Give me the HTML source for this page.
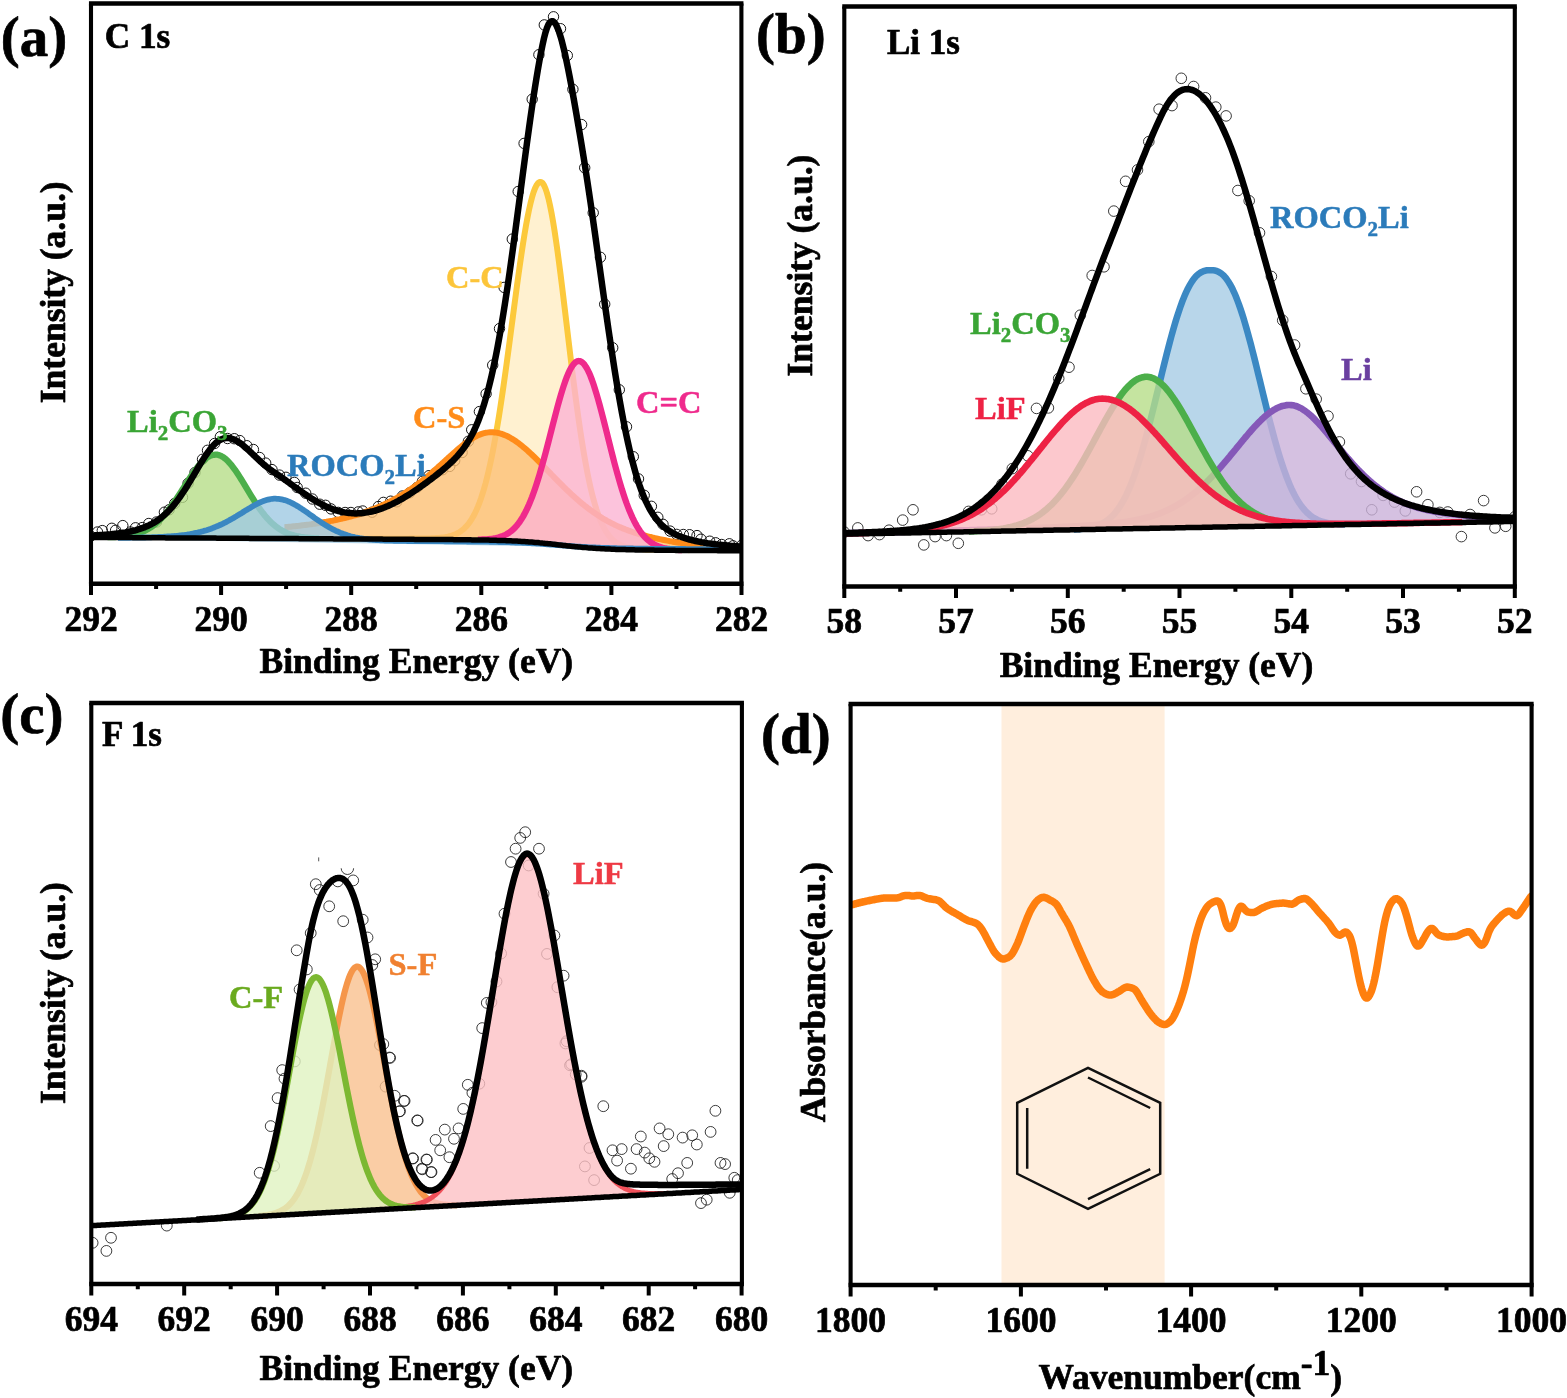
<!DOCTYPE html>
<html lang="en"><head><meta charset="utf-8"><title>XPS and FTIR spectra</title>
<style>
html,body{margin:0;padding:0;background:#fff;}
svg{display:block;}
text{font-family:'Liberation Serif', 'Times New Roman', serif;font-weight:bold;stroke-linejoin:round;}
</style></head><body>
<svg width="1567" height="1398" viewBox="0 0 1567 1398">
<rect width="1567" height="1398" fill="#fff"/>
<clipPath id="ca"><rect x="91.0" y="3.5" width="650.4" height="580.2"/></clipPath>
<g clip-path="url(#ca)">
<g fill="none" stroke="#151515" stroke-width="1.00">
<circle cx="90.7" cy="536.1" r="5.2"/>
<circle cx="97.5" cy="532.0" r="5.2"/>
<circle cx="102.3" cy="530.6" r="5.2"/>
<circle cx="111.8" cy="528.3" r="5.2"/>
<circle cx="115.6" cy="530.3" r="5.2"/>
<circle cx="122.8" cy="525.6" r="5.2"/>
<circle cx="130.4" cy="532.0" r="5.2"/>
<circle cx="135.5" cy="527.8" r="5.2"/>
<circle cx="142.2" cy="527.6" r="5.2"/>
<circle cx="148.8" cy="523.5" r="5.2"/>
<circle cx="156.5" cy="522.0" r="5.2"/>
<circle cx="164.4" cy="512.2" r="5.2"/>
<circle cx="169.1" cy="509.8" r="5.2"/>
<circle cx="174.7" cy="503.4" r="5.2"/>
<circle cx="182.5" cy="497.3" r="5.2"/>
<circle cx="188.1" cy="483.3" r="5.2"/>
<circle cx="195.0" cy="472.5" r="5.2"/>
<circle cx="202.5" cy="459.3" r="5.2"/>
<circle cx="207.5" cy="450.3" r="5.2"/>
<circle cx="214.6" cy="443.5" r="5.2"/>
<circle cx="220.4" cy="436.7" r="5.2"/>
<circle cx="227.5" cy="438.5" r="5.2"/>
<circle cx="234.3" cy="438.7" r="5.2"/>
<circle cx="239.8" cy="440.6" r="5.2"/>
<circle cx="246.8" cy="445.7" r="5.2"/>
<circle cx="253.4" cy="449.5" r="5.2"/>
<circle cx="259.6" cy="457.5" r="5.2"/>
<circle cx="265.7" cy="463.1" r="5.2"/>
<circle cx="272.0" cy="469.6" r="5.2"/>
<circle cx="279.5" cy="475.1" r="5.2"/>
<circle cx="285.9" cy="477.3" r="5.2"/>
<circle cx="294.4" cy="482.4" r="5.2"/>
<circle cx="297.2" cy="487.5" r="5.2"/>
<circle cx="305.7" cy="493.2" r="5.2"/>
<circle cx="312.4" cy="499.0" r="5.2"/>
<circle cx="319.7" cy="504.2" r="5.2"/>
<circle cx="325.5" cy="505.3" r="5.2"/>
<circle cx="331.0" cy="508.9" r="5.2"/>
<circle cx="338.2" cy="512.4" r="5.2"/>
<circle cx="345.1" cy="512.5" r="5.2"/>
<circle cx="350.9" cy="512.5" r="5.2"/>
<circle cx="358.3" cy="511.9" r="5.2"/>
<circle cx="362.7" cy="511.0" r="5.2"/>
<circle cx="372.1" cy="512.2" r="5.2"/>
<circle cx="378.4" cy="506.5" r="5.2"/>
<circle cx="383.4" cy="502.4" r="5.2"/>
<circle cx="390.7" cy="501.2" r="5.2"/>
<circle cx="396.7" cy="501.8" r="5.2"/>
<circle cx="402.5" cy="496.0" r="5.2"/>
<circle cx="409.8" cy="492.8" r="5.2"/>
<circle cx="417.0" cy="487.5" r="5.2"/>
<circle cx="422.4" cy="481.4" r="5.2"/>
<circle cx="428.9" cy="475.7" r="5.2"/>
<circle cx="435.7" cy="473.2" r="5.2"/>
<circle cx="442.6" cy="469.7" r="5.2"/>
<circle cx="449.7" cy="466.4" r="5.2"/>
<circle cx="454.7" cy="460.6" r="5.2"/>
<circle cx="462.1" cy="452.5" r="5.2"/>
<circle cx="468.4" cy="441.3" r="5.2"/>
<circle cx="471.7" cy="429.8" r="5.2"/>
<circle cx="479.4" cy="411.6" r="5.2"/>
<circle cx="486.1" cy="393.8" r="5.2"/>
<circle cx="492.7" cy="365.1" r="5.2"/>
<circle cx="499.5" cy="328.6" r="5.2"/>
<circle cx="504.1" cy="287.4" r="5.2"/>
<circle cx="512.3" cy="239.1" r="5.2"/>
<circle cx="518.2" cy="191.5" r="5.2"/>
<circle cx="524.1" cy="143.4" r="5.2"/>
<circle cx="532.2" cy="99.2" r="5.2"/>
<circle cx="538.9" cy="54.7" r="5.2"/>
<circle cx="544.3" cy="24.9" r="5.2"/>
<circle cx="553.5" cy="16.8" r="5.2"/>
<circle cx="560.5" cy="28.7" r="5.2"/>
<circle cx="567.3" cy="55.5" r="5.2"/>
<circle cx="572.9" cy="89.3" r="5.2"/>
<circle cx="581.6" cy="124.6" r="5.2"/>
<circle cx="584.7" cy="167.8" r="5.2"/>
<circle cx="593.2" cy="212.8" r="5.2"/>
<circle cx="600.4" cy="257.3" r="5.2"/>
<circle cx="604.7" cy="304.2" r="5.2"/>
<circle cx="612.7" cy="347.8" r="5.2"/>
<circle cx="619.3" cy="389.8" r="5.2"/>
<circle cx="626.5" cy="426.8" r="5.2"/>
<circle cx="633.3" cy="456.7" r="5.2"/>
<circle cx="638.5" cy="478.9" r="5.2"/>
<circle cx="644.2" cy="495.3" r="5.2"/>
<circle cx="651.4" cy="506.3" r="5.2"/>
<circle cx="657.8" cy="517.3" r="5.2"/>
<circle cx="663.0" cy="524.3" r="5.2"/>
<circle cx="670.1" cy="531.1" r="5.2"/>
<circle cx="676.7" cy="534.4" r="5.2"/>
<circle cx="683.3" cy="534.5" r="5.2"/>
<circle cx="689.5" cy="534.7" r="5.2"/>
<circle cx="697.0" cy="535.6" r="5.2"/>
<circle cx="701.0" cy="539.2" r="5.2"/>
<circle cx="709.7" cy="541.2" r="5.2"/>
<circle cx="715.7" cy="542.8" r="5.2"/>
<circle cx="721.7" cy="544.5" r="5.2"/>
<circle cx="729.3" cy="543.8" r="5.2"/>
<circle cx="733.0" cy="545.8" r="5.2"/>
<circle cx="742.3" cy="544.7" r="5.2"/>
</g>
<path d="M341.5,538.6 L343.0,538.6 L344.5,538.6 L346.0,538.6 L347.5,538.6 L349.0,538.6 L350.5,538.6 L352.0,538.6 L353.5,538.6 L355.0,538.6 L356.5,538.6 L358.0,538.7 L359.5,538.7 L361.0,538.7 L362.5,538.7 L364.0,538.7 L365.5,538.7 L367.0,538.7 L368.5,538.7 L370.0,538.7 L371.5,538.7 L373.0,538.7 L374.5,538.7 L376.0,538.7 L377.5,538.7 L379.0,538.7 L380.5,538.7 L382.0,538.7 L383.5,538.7 L385.0,538.7 L386.5,538.7 L388.0,538.7 L389.5,538.7 L391.0,538.7 L392.5,538.7 L394.0,538.7 L395.5,538.7 L397.0,538.7 L398.5,538.7 L400.0,538.7 L401.5,538.7 L403.0,538.7 L404.5,538.7 L406.0,538.7 L407.5,538.7 L409.0,538.7 L410.5,538.6 L412.0,538.6 L413.5,538.6 L415.0,538.6 L416.5,538.6 L418.0,538.6 L419.5,538.6 L421.0,538.6 L422.5,538.5 L424.0,538.5 L425.5,538.5 L427.0,538.5 L428.5,538.4 L430.0,538.4 L431.5,538.3 L433.0,538.2 L434.5,538.2 L436.0,538.1 L437.5,538.0 L439.0,537.9 L440.5,537.7 L442.0,537.6 L443.5,537.4 L445.0,537.2 L446.5,536.9 L448.0,536.6 L449.5,536.2 L451.0,535.8 L452.5,535.4 L454.0,534.8 L455.5,534.2 L457.0,533.5 L458.5,532.7 L460.0,531.8 L461.5,530.7 L463.0,529.6 L464.5,528.2 L466.0,526.7 L467.5,525.0 L469.0,523.1 L470.5,521.0 L472.0,518.6 L473.5,516.0 L475.0,513.1 L476.5,509.9 L478.0,506.4 L479.5,502.6 L481.0,498.4 L482.5,493.8 L484.0,488.8 L485.5,483.5 L487.0,477.7 L488.5,471.5 L490.0,464.8 L491.5,457.8 L493.0,450.3 L494.5,442.3 L496.0,433.9 L497.5,425.1 L499.0,415.9 L500.5,406.3 L502.0,396.3 L503.5,386.0 L505.0,375.4 L506.5,364.6 L508.0,353.5 L509.5,342.3 L511.0,330.9 L512.5,319.5 L514.0,308.1 L515.5,296.8 L517.0,285.7 L518.5,274.7 L520.0,264.0 L521.5,253.7 L523.0,243.8 L524.5,234.4 L526.0,225.6 L527.5,217.4 L529.0,210.0 L530.5,203.3 L532.0,197.4 L533.5,192.4 L535.0,188.4 L536.5,185.3 L538.0,183.2 L539.5,182.0 L541.0,182.0 L542.5,183.0 L544.0,185.2 L545.5,188.6 L547.0,193.1 L548.5,198.7 L550.0,205.3 L551.5,212.9 L553.0,221.3 L554.5,230.6 L556.0,240.6 L557.5,251.2 L559.0,262.4 L560.5,274.0 L562.0,286.0 L563.5,298.3 L565.0,310.8 L566.5,323.4 L568.0,336.0 L569.5,348.5 L571.0,360.9 L572.5,373.0 L574.0,384.9 L575.5,396.5 L577.0,407.7 L578.5,418.5 L580.0,428.9 L581.5,438.8 L583.0,448.1 L584.5,457.0 L586.0,465.3 L587.5,473.2 L589.0,480.5 L590.5,487.3 L592.0,493.6 L593.5,499.4 L595.0,504.7 L596.5,509.6 L598.0,514.0 L599.5,518.1 L601.0,521.7 L602.5,525.0 L604.0,528.0 L605.5,530.6 L607.0,533.0 L608.5,535.1 L610.0,537.0 L611.5,538.6 L613.0,540.1 L614.5,541.3 L616.0,542.5 L617.5,543.4 L619.0,544.3 L620.5,545.0 L622.0,545.7 L623.5,546.2 L625.0,546.7 L626.5,547.1 L628.0,547.5 L629.5,547.8 L631.0,548.0 L632.5,548.3 L634.0,548.5 L635.5,548.6 L637.0,548.8 L638.5,548.9 L640.0,549.0 L641.5,549.1 L643.0,549.2 L644.5,549.3 L646.0,549.4 L647.5,549.4 L649.0,549.5 L650.5,549.5 L652.0,549.6 L653.5,549.6 L655.0,549.6 L656.5,549.7 L658.0,549.7 L659.5,549.7 L661.0,549.8 L662.5,549.8 L664.0,549.8 L665.5,549.8 L667.0,549.9 L668.5,549.9 L670.0,549.9 L671.5,549.9 L673.0,550.0 L674.5,550.0 L676.0,550.0 L677.5,550.0 L679.0,550.0 L680.5,550.1 L682.0,550.1 L683.5,550.1 L685.0,550.1 L686.5,550.1 L688.0,550.1 L689.5,550.2 L689.5,550.5 L341.5,538.9 Z" fill="#ffeec4" fill-opacity="0.80" stroke="none"/>
<path d="M341.5,538.6 L343.0,538.6 L344.5,538.6 L346.0,538.6 L347.5,538.6 L349.0,538.6 L350.5,538.6 L352.0,538.6 L353.5,538.6 L355.0,538.6 L356.5,538.6 L358.0,538.7 L359.5,538.7 L361.0,538.7 L362.5,538.7 L364.0,538.7 L365.5,538.7 L367.0,538.7 L368.5,538.7 L370.0,538.7 L371.5,538.7 L373.0,538.7 L374.5,538.7 L376.0,538.7 L377.5,538.7 L379.0,538.7 L380.5,538.7 L382.0,538.7 L383.5,538.7 L385.0,538.7 L386.5,538.7 L388.0,538.7 L389.5,538.7 L391.0,538.7 L392.5,538.7 L394.0,538.7 L395.5,538.7 L397.0,538.7 L398.5,538.7 L400.0,538.7 L401.5,538.7 L403.0,538.7 L404.5,538.7 L406.0,538.7 L407.5,538.7 L409.0,538.7 L410.5,538.6 L412.0,538.6 L413.5,538.6 L415.0,538.6 L416.5,538.6 L418.0,538.6 L419.5,538.6 L421.0,538.6 L422.5,538.5 L424.0,538.5 L425.5,538.5 L427.0,538.5 L428.5,538.4 L430.0,538.4 L431.5,538.3 L433.0,538.2 L434.5,538.2 L436.0,538.1 L437.5,538.0 L439.0,537.9 L440.5,537.7 L442.0,537.6 L443.5,537.4 L445.0,537.2 L446.5,536.9 L448.0,536.6 L449.5,536.2 L451.0,535.8 L452.5,535.4 L454.0,534.8 L455.5,534.2 L457.0,533.5 L458.5,532.7 L460.0,531.8 L461.5,530.7 L463.0,529.6 L464.5,528.2 L466.0,526.7 L467.5,525.0 L469.0,523.1 L470.5,521.0 L472.0,518.6 L473.5,516.0 L475.0,513.1 L476.5,509.9 L478.0,506.4 L479.5,502.6 L481.0,498.4 L482.5,493.8 L484.0,488.8 L485.5,483.5 L487.0,477.7 L488.5,471.5 L490.0,464.8 L491.5,457.8 L493.0,450.3 L494.5,442.3 L496.0,433.9 L497.5,425.1 L499.0,415.9 L500.5,406.3 L502.0,396.3 L503.5,386.0 L505.0,375.4 L506.5,364.6 L508.0,353.5 L509.5,342.3 L511.0,330.9 L512.5,319.5 L514.0,308.1 L515.5,296.8 L517.0,285.7 L518.5,274.7 L520.0,264.0 L521.5,253.7 L523.0,243.8 L524.5,234.4 L526.0,225.6 L527.5,217.4 L529.0,210.0 L530.5,203.3 L532.0,197.4 L533.5,192.4 L535.0,188.4 L536.5,185.3 L538.0,183.2 L539.5,182.0 L541.0,182.0 L542.5,183.0 L544.0,185.2 L545.5,188.6 L547.0,193.1 L548.5,198.7 L550.0,205.3 L551.5,212.9 L553.0,221.3 L554.5,230.6 L556.0,240.6 L557.5,251.2 L559.0,262.4 L560.5,274.0 L562.0,286.0 L563.5,298.3 L565.0,310.8 L566.5,323.4 L568.0,336.0 L569.5,348.5 L571.0,360.9 L572.5,373.0 L574.0,384.9 L575.5,396.5 L577.0,407.7 L578.5,418.5 L580.0,428.9 L581.5,438.8 L583.0,448.1 L584.5,457.0 L586.0,465.3 L587.5,473.2 L589.0,480.5 L590.5,487.3 L592.0,493.6 L593.5,499.4 L595.0,504.7 L596.5,509.6 L598.0,514.0 L599.5,518.1 L601.0,521.7 L602.5,525.0 L604.0,528.0 L605.5,530.6 L607.0,533.0 L608.5,535.1 L610.0,537.0 L611.5,538.6 L613.0,540.1 L614.5,541.3 L616.0,542.5 L617.5,543.4 L619.0,544.3 L620.5,545.0 L622.0,545.7 L623.5,546.2 L625.0,546.7 L626.5,547.1 L628.0,547.5 L629.5,547.8 L631.0,548.0 L632.5,548.3 L634.0,548.5 L635.5,548.6 L637.0,548.8 L638.5,548.9 L640.0,549.0 L641.5,549.1 L643.0,549.2 L644.5,549.3 L646.0,549.4 L647.5,549.4 L649.0,549.5 L650.5,549.5 L652.0,549.6 L653.5,549.6 L655.0,549.6 L656.5,549.7 L658.0,549.7 L659.5,549.7 L661.0,549.8 L662.5,549.8 L664.0,549.8 L665.5,549.8 L667.0,549.9 L668.5,549.9 L670.0,549.9 L671.5,549.9 L673.0,550.0 L674.5,550.0 L676.0,550.0 L677.5,550.0 L679.0,550.0 L680.5,550.1 L682.0,550.1 L683.5,550.1 L685.0,550.1 L686.5,550.1 L688.0,550.1 L689.5,550.2" fill="none" stroke="#fcc93c" stroke-width="6.0" stroke-linejoin="round" stroke-linecap="butt"/>
<path d="M284.5,527.2 L286.0,527.1 L287.5,527.0 L289.0,526.8 L290.5,526.7 L292.0,526.5 L293.5,526.3 L295.0,526.2 L296.5,526.0 L298.0,525.9 L299.5,525.7 L301.0,525.5 L302.5,525.3 L304.0,525.1 L305.5,525.0 L307.0,524.8 L308.5,524.6 L310.0,524.4 L311.5,524.2 L313.0,523.9 L314.5,523.7 L316.0,523.5 L317.5,523.3 L319.0,523.0 L320.5,522.8 L322.0,522.6 L323.5,522.3 L325.0,522.0 L326.5,521.8 L328.0,521.5 L329.5,521.2 L331.0,520.9 L332.5,520.7 L334.0,520.4 L335.5,520.0 L337.0,519.7 L338.5,519.4 L340.0,519.1 L341.5,518.7 L343.0,518.4 L344.5,518.0 L346.0,517.7 L347.5,517.3 L349.0,516.9 L350.5,516.5 L352.0,516.1 L353.5,515.7 L355.0,515.3 L356.5,514.8 L358.0,514.4 L359.5,513.9 L361.0,513.4 L362.5,513.0 L364.0,512.5 L365.5,511.9 L367.0,511.4 L368.5,510.9 L370.0,510.3 L371.5,509.8 L373.0,509.2 L374.5,508.6 L376.0,508.0 L377.5,507.4 L379.0,506.7 L380.5,506.1 L382.0,505.4 L383.5,504.7 L385.0,504.0 L386.5,503.3 L388.0,502.6 L389.5,501.8 L391.0,501.0 L392.5,500.2 L394.0,499.4 L395.5,498.6 L397.0,497.8 L398.5,496.9 L400.0,496.0 L401.5,495.1 L403.0,494.2 L404.5,493.2 L406.0,492.3 L407.5,491.3 L409.0,490.3 L410.5,489.3 L412.0,488.2 L413.5,487.2 L415.0,486.1 L416.5,485.0 L418.0,483.9 L419.5,482.7 L421.0,481.6 L422.5,480.4 L424.0,479.2 L425.5,478.0 L427.0,476.7 L428.5,475.5 L430.0,474.2 L431.5,472.9 L433.0,471.6 L434.5,470.3 L436.0,469.0 L437.5,467.7 L439.0,466.3 L440.5,465.0 L442.0,463.6 L443.5,462.3 L445.0,460.9 L446.5,459.5 L448.0,458.1 L449.5,456.8 L451.0,455.4 L452.5,454.1 L454.0,452.7 L455.5,451.4 L457.0,450.1 L458.5,448.8 L460.0,447.5 L461.5,446.3 L463.0,445.1 L464.5,443.9 L466.0,442.7 L467.5,441.6 L469.0,440.6 L470.5,439.6 L472.0,438.6 L473.5,437.7 L475.0,436.9 L476.5,436.1 L478.0,435.4 L479.5,434.7 L481.0,434.1 L482.5,433.6 L484.0,433.2 L485.5,432.8 L487.0,432.6 L488.5,432.4 L490.0,432.2 L491.5,432.2 L493.0,432.3 L494.5,432.4 L496.0,432.6 L497.5,432.8 L499.0,433.2 L500.5,433.6 L502.0,434.0 L503.5,434.6 L505.0,435.2 L506.5,435.8 L508.0,436.5 L509.5,437.3 L511.0,438.2 L512.5,439.1 L514.0,440.0 L515.5,441.0 L517.0,442.1 L518.5,443.2 L520.0,444.3 L521.5,445.5 L523.0,446.8 L524.5,448.0 L526.0,449.3 L527.5,450.6 L529.0,452.0 L530.5,453.4 L532.0,454.8 L533.5,456.2 L535.0,457.7 L536.5,459.2 L538.0,460.7 L539.5,462.2 L541.0,463.7 L542.5,465.2 L544.0,466.8 L545.5,468.3 L547.0,469.9 L548.5,471.4 L550.0,472.9 L551.5,474.5 L553.0,476.0 L554.5,477.6 L556.0,479.1 L557.5,480.6 L559.0,482.2 L560.5,483.7 L562.0,485.2 L563.5,486.7 L565.0,488.1 L566.5,489.6 L568.0,491.0 L569.5,492.4 L571.0,493.9 L572.5,495.2 L574.0,496.6 L575.5,497.9 L577.0,499.3 L578.5,500.6 L580.0,501.9 L581.5,503.1 L583.0,504.3 L584.5,505.6 L586.0,506.7 L587.5,507.9 L589.0,509.0 L590.5,510.1 L592.0,511.2 L593.5,512.3 L595.0,513.3 L596.5,514.3 L598.0,515.3 L599.5,516.3 L601.0,517.2 L602.5,518.2 L604.0,519.1 L605.5,519.9 L607.0,520.8 L608.5,521.6 L610.0,522.4 L611.5,523.2 L613.0,523.9 L614.5,524.7 L616.0,525.4 L617.5,526.1 L619.0,526.8 L620.5,527.4 L622.0,528.0 L623.5,528.7 L625.0,529.2 L626.5,529.8 L628.0,530.4 L629.5,530.9 L631.0,531.5 L632.5,532.0 L634.0,532.5 L635.5,532.9 L637.0,533.4 L638.5,533.8 L640.0,534.3 L641.5,534.7 L643.0,535.1 L644.5,535.5 L646.0,535.9 L647.5,536.3 L649.0,536.7 L650.5,537.0 L652.0,537.4 L653.5,537.8 L655.0,538.1 L656.5,538.4 L658.0,538.8 L659.5,539.1 L661.0,539.4 L662.5,539.7 L664.0,540.0 L665.5,540.3 L667.0,540.6 L668.5,540.9 L670.0,541.2 L671.5,541.4 L673.0,541.7 L674.5,542.0 L676.0,542.2 L677.5,542.5 L679.0,542.7 L680.5,542.9 L682.0,543.2 L683.5,543.4 L685.0,543.6 L686.5,543.9 L688.0,544.1 L689.5,544.3 L691.0,544.5 L692.5,544.7 L694.0,544.9 L695.5,545.1 L697.0,545.3 L698.5,545.5 L700.0,545.7 L701.5,545.8 L703.0,546.0 L704.5,546.2 L706.0,546.4 L707.5,546.5 L709.0,546.7 L710.5,546.9 L712.0,547.0 L713.5,547.2 L715.0,547.4 L716.5,547.5 L718.0,547.7 L719.5,547.8 L721.0,548.0 L722.5,548.2 L724.0,548.3 L725.5,548.5 L727.0,548.6 L728.5,548.7 L730.0,548.9 L731.5,549.0 L733.0,549.2 L734.5,549.3 L736.0,549.5 L737.5,549.6 L739.0,549.7 L740.5,549.9 L740.5,550.8 L284.5,538.6 Z" fill="#fcc076" fill-opacity="0.80" stroke="none"/>
<path d="M284.5,527.2 L286.0,527.1 L287.5,527.0 L289.0,526.8 L290.5,526.7 L292.0,526.5 L293.5,526.3 L295.0,526.2 L296.5,526.0 L298.0,525.9 L299.5,525.7 L301.0,525.5 L302.5,525.3 L304.0,525.1 L305.5,525.0 L307.0,524.8 L308.5,524.6 L310.0,524.4 L311.5,524.2 L313.0,523.9 L314.5,523.7 L316.0,523.5 L317.5,523.3 L319.0,523.0 L320.5,522.8 L322.0,522.6 L323.5,522.3 L325.0,522.0 L326.5,521.8 L328.0,521.5 L329.5,521.2 L331.0,520.9 L332.5,520.7 L334.0,520.4 L335.5,520.0 L337.0,519.7 L338.5,519.4 L340.0,519.1 L341.5,518.7 L343.0,518.4 L344.5,518.0 L346.0,517.7 L347.5,517.3 L349.0,516.9 L350.5,516.5 L352.0,516.1 L353.5,515.7 L355.0,515.3 L356.5,514.8 L358.0,514.4 L359.5,513.9 L361.0,513.4 L362.5,513.0 L364.0,512.5 L365.5,511.9 L367.0,511.4 L368.5,510.9 L370.0,510.3 L371.5,509.8 L373.0,509.2 L374.5,508.6 L376.0,508.0 L377.5,507.4 L379.0,506.7 L380.5,506.1 L382.0,505.4 L383.5,504.7 L385.0,504.0 L386.5,503.3 L388.0,502.6 L389.5,501.8 L391.0,501.0 L392.5,500.2 L394.0,499.4 L395.5,498.6 L397.0,497.8 L398.5,496.9 L400.0,496.0 L401.5,495.1 L403.0,494.2 L404.5,493.2 L406.0,492.3 L407.5,491.3 L409.0,490.3 L410.5,489.3 L412.0,488.2 L413.5,487.2 L415.0,486.1 L416.5,485.0 L418.0,483.9 L419.5,482.7 L421.0,481.6 L422.5,480.4 L424.0,479.2 L425.5,478.0 L427.0,476.7 L428.5,475.5 L430.0,474.2 L431.5,472.9 L433.0,471.6 L434.5,470.3 L436.0,469.0 L437.5,467.7 L439.0,466.3 L440.5,465.0 L442.0,463.6 L443.5,462.3 L445.0,460.9 L446.5,459.5 L448.0,458.1 L449.5,456.8 L451.0,455.4 L452.5,454.1 L454.0,452.7 L455.5,451.4 L457.0,450.1 L458.5,448.8 L460.0,447.5 L461.5,446.3 L463.0,445.1 L464.5,443.9 L466.0,442.7 L467.5,441.6 L469.0,440.6 L470.5,439.6 L472.0,438.6 L473.5,437.7 L475.0,436.9 L476.5,436.1 L478.0,435.4 L479.5,434.7 L481.0,434.1 L482.5,433.6 L484.0,433.2 L485.5,432.8 L487.0,432.6 L488.5,432.4 L490.0,432.2 L491.5,432.2 L493.0,432.3 L494.5,432.4 L496.0,432.6 L497.5,432.8 L499.0,433.2 L500.5,433.6 L502.0,434.0 L503.5,434.6 L505.0,435.2 L506.5,435.8 L508.0,436.5 L509.5,437.3 L511.0,438.2 L512.5,439.1 L514.0,440.0 L515.5,441.0 L517.0,442.1 L518.5,443.2 L520.0,444.3 L521.5,445.5 L523.0,446.8 L524.5,448.0 L526.0,449.3 L527.5,450.6 L529.0,452.0 L530.5,453.4 L532.0,454.8 L533.5,456.2 L535.0,457.7 L536.5,459.2 L538.0,460.7 L539.5,462.2 L541.0,463.7 L542.5,465.2 L544.0,466.8 L545.5,468.3 L547.0,469.9 L548.5,471.4 L550.0,472.9 L551.5,474.5 L553.0,476.0 L554.5,477.6 L556.0,479.1 L557.5,480.6 L559.0,482.2 L560.5,483.7 L562.0,485.2 L563.5,486.7 L565.0,488.1 L566.5,489.6 L568.0,491.0 L569.5,492.4 L571.0,493.9 L572.5,495.2 L574.0,496.6 L575.5,497.9 L577.0,499.3 L578.5,500.6 L580.0,501.9 L581.5,503.1 L583.0,504.3 L584.5,505.6 L586.0,506.7 L587.5,507.9 L589.0,509.0 L590.5,510.1 L592.0,511.2 L593.5,512.3 L595.0,513.3 L596.5,514.3 L598.0,515.3 L599.5,516.3 L601.0,517.2 L602.5,518.2 L604.0,519.1 L605.5,519.9 L607.0,520.8 L608.5,521.6 L610.0,522.4 L611.5,523.2 L613.0,523.9 L614.5,524.7 L616.0,525.4 L617.5,526.1 L619.0,526.8 L620.5,527.4 L622.0,528.0 L623.5,528.7 L625.0,529.2 L626.5,529.8 L628.0,530.4 L629.5,530.9 L631.0,531.5 L632.5,532.0 L634.0,532.5 L635.5,532.9 L637.0,533.4 L638.5,533.8 L640.0,534.3 L641.5,534.7 L643.0,535.1 L644.5,535.5 L646.0,535.9 L647.5,536.3 L649.0,536.7 L650.5,537.0 L652.0,537.4 L653.5,537.8 L655.0,538.1 L656.5,538.4 L658.0,538.8 L659.5,539.1 L661.0,539.4 L662.5,539.7 L664.0,540.0 L665.5,540.3 L667.0,540.6 L668.5,540.9 L670.0,541.2 L671.5,541.4 L673.0,541.7 L674.5,542.0 L676.0,542.2 L677.5,542.5 L679.0,542.7 L680.5,542.9 L682.0,543.2 L683.5,543.4 L685.0,543.6 L686.5,543.9 L688.0,544.1 L689.5,544.3 L691.0,544.5 L692.5,544.7 L694.0,544.9 L695.5,545.1 L697.0,545.3 L698.5,545.5 L700.0,545.7 L701.5,545.8 L703.0,546.0 L704.5,546.2 L706.0,546.4 L707.5,546.5 L709.0,546.7 L710.5,546.9 L712.0,547.0 L713.5,547.2 L715.0,547.4 L716.5,547.5 L718.0,547.7 L719.5,547.8 L721.0,548.0 L722.5,548.2 L724.0,548.3 L725.5,548.5 L727.0,548.6 L728.5,548.7 L730.0,548.9 L731.5,549.0 L733.0,549.2 L734.5,549.3 L736.0,549.5 L737.5,549.6 L739.0,549.7 L740.5,549.9" fill="none" stroke="#ff8c1a" stroke-width="6.0" stroke-linejoin="round" stroke-linecap="butt"/>
<path d="M478.0,539.7 L479.5,539.6 L481.0,539.6 L482.5,539.5 L484.0,539.5 L485.5,539.4 L487.0,539.3 L488.5,539.1 L490.0,539.0 L491.5,538.8 L493.0,538.6 L494.5,538.3 L496.0,538.1 L497.5,537.7 L499.0,537.3 L500.5,536.8 L502.0,536.3 L503.5,535.7 L505.0,535.0 L506.5,534.2 L508.0,533.3 L509.5,532.3 L511.0,531.2 L512.5,530.0 L514.0,528.6 L515.5,527.0 L517.0,525.3 L518.5,523.4 L520.0,521.3 L521.5,519.0 L523.0,516.6 L524.5,513.9 L526.0,511.0 L527.5,507.8 L529.0,504.5 L530.5,500.9 L532.0,497.1 L533.5,493.0 L535.0,488.7 L536.5,484.2 L538.0,479.5 L539.5,474.6 L541.0,469.4 L542.5,464.1 L544.0,458.7 L545.5,453.1 L547.0,447.4 L548.5,441.6 L550.0,435.7 L551.5,429.9 L553.0,424.0 L554.5,418.2 L556.0,412.5 L557.5,406.8 L559.0,401.4 L560.5,396.1 L562.0,391.1 L563.5,386.4 L565.0,381.9 L566.5,377.8 L568.0,374.1 L569.5,370.8 L571.0,368.0 L572.5,365.6 L574.0,363.7 L575.5,362.3 L577.0,361.4 L578.5,361.0 L580.0,361.2 L581.5,361.9 L583.0,363.0 L584.5,364.7 L586.0,366.9 L587.5,369.5 L589.0,372.6 L590.5,376.1 L592.0,380.0 L593.5,384.3 L595.0,388.9 L596.5,393.8 L598.0,399.0 L599.5,404.4 L601.0,410.0 L602.5,415.8 L604.0,421.6 L605.5,427.6 L607.0,433.6 L608.5,439.6 L610.0,445.6 L611.5,451.5 L613.0,457.4 L614.5,463.2 L616.0,468.8 L617.5,474.2 L619.0,479.5 L620.5,484.6 L622.0,489.6 L623.5,494.2 L625.0,498.7 L626.5,503.0 L628.0,507.0 L629.5,510.8 L631.0,514.3 L632.5,517.6 L634.0,520.7 L635.5,523.6 L637.0,526.3 L638.5,528.7 L640.0,531.0 L641.5,533.1 L643.0,534.9 L644.5,536.7 L646.0,538.2 L647.5,539.6 L649.0,540.9 L650.5,542.1 L652.0,543.1 L653.5,544.0 L655.0,544.8 L656.5,545.5 L658.0,546.2 L659.5,546.7 L661.0,547.2 L662.5,547.7 L664.0,548.1 L665.5,548.4 L667.0,548.7 L668.5,548.9 L670.0,549.2 L671.5,549.4 L673.0,549.5 L674.5,549.7 L676.0,549.8 L677.5,549.9 L679.0,550.0 L680.5,550.1 L682.0,550.1 L682.0,550.4 L478.0,539.9 Z" fill="#fbb4d3" fill-opacity="0.80" stroke="none"/>
<path d="M478.0,539.7 L479.5,539.6 L481.0,539.6 L482.5,539.5 L484.0,539.5 L485.5,539.4 L487.0,539.3 L488.5,539.1 L490.0,539.0 L491.5,538.8 L493.0,538.6 L494.5,538.3 L496.0,538.1 L497.5,537.7 L499.0,537.3 L500.5,536.8 L502.0,536.3 L503.5,535.7 L505.0,535.0 L506.5,534.2 L508.0,533.3 L509.5,532.3 L511.0,531.2 L512.5,530.0 L514.0,528.6 L515.5,527.0 L517.0,525.3 L518.5,523.4 L520.0,521.3 L521.5,519.0 L523.0,516.6 L524.5,513.9 L526.0,511.0 L527.5,507.8 L529.0,504.5 L530.5,500.9 L532.0,497.1 L533.5,493.0 L535.0,488.7 L536.5,484.2 L538.0,479.5 L539.5,474.6 L541.0,469.4 L542.5,464.1 L544.0,458.7 L545.5,453.1 L547.0,447.4 L548.5,441.6 L550.0,435.7 L551.5,429.9 L553.0,424.0 L554.5,418.2 L556.0,412.5 L557.5,406.8 L559.0,401.4 L560.5,396.1 L562.0,391.1 L563.5,386.4 L565.0,381.9 L566.5,377.8 L568.0,374.1 L569.5,370.8 L571.0,368.0 L572.5,365.6 L574.0,363.7 L575.5,362.3 L577.0,361.4 L578.5,361.0 L580.0,361.2 L581.5,361.9 L583.0,363.0 L584.5,364.7 L586.0,366.9 L587.5,369.5 L589.0,372.6 L590.5,376.1 L592.0,380.0 L593.5,384.3 L595.0,388.9 L596.5,393.8 L598.0,399.0 L599.5,404.4 L601.0,410.0 L602.5,415.8 L604.0,421.6 L605.5,427.6 L607.0,433.6 L608.5,439.6 L610.0,445.6 L611.5,451.5 L613.0,457.4 L614.5,463.2 L616.0,468.8 L617.5,474.2 L619.0,479.5 L620.5,484.6 L622.0,489.6 L623.5,494.2 L625.0,498.7 L626.5,503.0 L628.0,507.0 L629.5,510.8 L631.0,514.3 L632.5,517.6 L634.0,520.7 L635.5,523.6 L637.0,526.3 L638.5,528.7 L640.0,531.0 L641.5,533.1 L643.0,534.9 L644.5,536.7 L646.0,538.2 L647.5,539.6 L649.0,540.9 L650.5,542.1 L652.0,543.1 L653.5,544.0 L655.0,544.8 L656.5,545.5 L658.0,546.2 L659.5,546.7 L661.0,547.2 L662.5,547.7 L664.0,548.1 L665.5,548.4 L667.0,548.7 L668.5,548.9 L670.0,549.2 L671.5,549.4 L673.0,549.5 L674.5,549.7 L676.0,549.8 L677.5,549.9 L679.0,550.0 L680.5,550.1 L682.0,550.1" fill="none" stroke="#ef2a8c" stroke-width="6.3" stroke-linejoin="round" stroke-linecap="butt"/>
<path d="M107.5,537.2 L109.0,537.2 L110.5,537.2 L112.0,537.1 L113.5,537.0 L115.0,537.0 L116.5,536.9 L118.0,536.8 L119.5,536.7 L121.0,536.6 L122.5,536.4 L124.0,536.3 L125.5,536.1 L127.0,535.9 L128.5,535.7 L130.0,535.4 L131.5,535.1 L133.0,534.8 L134.5,534.4 L136.0,534.0 L137.5,533.6 L139.0,533.1 L140.5,532.6 L142.0,532.0 L143.5,531.3 L145.0,530.6 L146.5,529.9 L148.0,529.0 L149.5,528.1 L151.0,527.2 L152.5,526.1 L154.0,525.0 L155.5,523.8 L157.0,522.5 L158.5,521.2 L160.0,519.7 L161.5,518.2 L163.0,516.6 L164.5,514.9 L166.0,513.1 L167.5,511.3 L169.0,509.4 L170.5,507.4 L172.0,505.3 L173.5,503.2 L175.0,501.0 L176.5,498.8 L178.0,496.5 L179.5,494.2 L181.0,491.8 L182.5,489.4 L184.0,487.1 L185.5,484.7 L187.0,482.3 L188.5,480.0 L190.0,477.7 L191.5,475.4 L193.0,473.2 L194.5,471.1 L196.0,469.1 L197.5,467.1 L199.0,465.3 L200.5,463.5 L202.0,461.9 L203.5,460.5 L205.0,459.2 L206.5,458.0 L208.0,457.0 L209.5,456.2 L211.0,455.5 L212.5,455.0 L214.0,454.8 L215.5,454.6 L217.0,454.7 L218.5,455.0 L220.0,455.5 L221.5,456.2 L223.0,457.0 L224.5,458.1 L226.0,459.3 L227.5,460.7 L229.0,462.3 L230.5,464.0 L232.0,465.8 L233.5,467.8 L235.0,469.8 L236.5,472.0 L238.0,474.3 L239.5,476.6 L241.0,479.0 L242.5,481.4 L244.0,483.9 L245.5,486.4 L247.0,488.9 L248.5,491.4 L250.0,493.8 L251.5,496.3 L253.0,498.7 L254.5,501.1 L256.0,503.4 L257.5,505.6 L259.0,507.8 L260.5,509.9 L262.0,511.9 L263.5,513.8 L265.0,515.7 L266.5,517.5 L268.0,519.1 L269.5,520.7 L271.0,522.2 L272.5,523.6 L274.0,524.9 L275.5,526.2 L277.0,527.3 L278.5,528.4 L280.0,529.4 L281.5,530.3 L283.0,531.1 L284.5,531.9 L286.0,532.6 L287.5,533.3 L289.0,533.9 L290.5,534.4 L292.0,534.9 L293.5,535.3 L295.0,535.7 L296.5,536.1 L298.0,536.4 L299.5,536.7 L301.0,537.0 L302.5,537.2 L304.0,537.4 L305.5,537.6 L307.0,537.7 L308.5,537.9 L310.0,538.0 L311.5,538.1 L313.0,538.2 L314.5,538.3 L316.0,538.4 L317.5,538.4 L319.0,538.5 L319.0,538.8 L107.5,537.5 Z" fill="#b6dd88" fill-opacity="0.80" stroke="none"/>
<path d="M107.5,537.2 L109.0,537.2 L110.5,537.2 L112.0,537.1 L113.5,537.0 L115.0,537.0 L116.5,536.9 L118.0,536.8 L119.5,536.7 L121.0,536.6 L122.5,536.4 L124.0,536.3 L125.5,536.1 L127.0,535.9 L128.5,535.7 L130.0,535.4 L131.5,535.1 L133.0,534.8 L134.5,534.4 L136.0,534.0 L137.5,533.6 L139.0,533.1 L140.5,532.6 L142.0,532.0 L143.5,531.3 L145.0,530.6 L146.5,529.9 L148.0,529.0 L149.5,528.1 L151.0,527.2 L152.5,526.1 L154.0,525.0 L155.5,523.8 L157.0,522.5 L158.5,521.2 L160.0,519.7 L161.5,518.2 L163.0,516.6 L164.5,514.9 L166.0,513.1 L167.5,511.3 L169.0,509.4 L170.5,507.4 L172.0,505.3 L173.5,503.2 L175.0,501.0 L176.5,498.8 L178.0,496.5 L179.5,494.2 L181.0,491.8 L182.5,489.4 L184.0,487.1 L185.5,484.7 L187.0,482.3 L188.5,480.0 L190.0,477.7 L191.5,475.4 L193.0,473.2 L194.5,471.1 L196.0,469.1 L197.5,467.1 L199.0,465.3 L200.5,463.5 L202.0,461.9 L203.5,460.5 L205.0,459.2 L206.5,458.0 L208.0,457.0 L209.5,456.2 L211.0,455.5 L212.5,455.0 L214.0,454.8 L215.5,454.6 L217.0,454.7 L218.5,455.0 L220.0,455.5 L221.5,456.2 L223.0,457.0 L224.5,458.1 L226.0,459.3 L227.5,460.7 L229.0,462.3 L230.5,464.0 L232.0,465.8 L233.5,467.8 L235.0,469.8 L236.5,472.0 L238.0,474.3 L239.5,476.6 L241.0,479.0 L242.5,481.4 L244.0,483.9 L245.5,486.4 L247.0,488.9 L248.5,491.4 L250.0,493.8 L251.5,496.3 L253.0,498.7 L254.5,501.1 L256.0,503.4 L257.5,505.6 L259.0,507.8 L260.5,509.9 L262.0,511.9 L263.5,513.8 L265.0,515.7 L266.5,517.5 L268.0,519.1 L269.5,520.7 L271.0,522.2 L272.5,523.6 L274.0,524.9 L275.5,526.2 L277.0,527.3 L278.5,528.4 L280.0,529.4 L281.5,530.3 L283.0,531.1 L284.5,531.9 L286.0,532.6 L287.5,533.3 L289.0,533.9 L290.5,534.4 L292.0,534.9 L293.5,535.3 L295.0,535.7 L296.5,536.1 L298.0,536.4 L299.5,536.7 L301.0,537.0 L302.5,537.2 L304.0,537.4 L305.5,537.6 L307.0,537.7 L308.5,537.9 L310.0,538.0 L311.5,538.1 L313.0,538.2 L314.5,538.3 L316.0,538.4 L317.5,538.4 L319.0,538.5" fill="none" stroke="#4caf4a" stroke-width="6.3" stroke-linejoin="round" stroke-linecap="butt"/>
<path d="M118.0,537.9 L119.5,537.9 L121.0,537.9 L122.5,537.9 L124.0,537.8 L125.5,537.8 L127.0,537.8 L128.5,537.8 L130.0,537.8 L131.5,537.7 L133.0,537.7 L134.5,537.7 L136.0,537.7 L137.5,537.6 L139.0,537.6 L140.5,537.6 L142.0,537.5 L143.5,537.5 L145.0,537.5 L146.5,537.4 L148.0,537.4 L149.5,537.3 L151.0,537.3 L152.5,537.2 L154.0,537.2 L155.5,537.1 L157.0,537.1 L158.5,537.0 L160.0,536.9 L161.5,536.9 L163.0,536.8 L164.5,536.7 L166.0,536.6 L167.5,536.5 L169.0,536.4 L170.5,536.3 L172.0,536.2 L173.5,536.1 L175.0,536.0 L176.5,535.8 L178.0,535.7 L179.5,535.5 L181.0,535.4 L182.5,535.2 L184.0,535.0 L185.5,534.8 L187.0,534.6 L188.5,534.3 L190.0,534.1 L191.5,533.8 L193.0,533.5 L194.5,533.2 L196.0,532.9 L197.5,532.6 L199.0,532.2 L200.5,531.9 L202.0,531.5 L203.5,531.1 L205.0,530.6 L206.5,530.2 L208.0,529.7 L209.5,529.2 L211.0,528.7 L212.5,528.1 L214.0,527.5 L215.5,526.9 L217.0,526.3 L218.5,525.7 L220.0,525.0 L221.5,524.3 L223.0,523.6 L224.5,522.8 L226.0,522.1 L227.5,521.3 L229.0,520.5 L230.5,519.6 L232.0,518.8 L233.5,517.9 L235.0,517.0 L236.5,516.2 L238.0,515.2 L239.5,514.3 L241.0,513.4 L242.5,512.5 L244.0,511.5 L245.5,510.6 L247.0,509.7 L248.5,508.8 L250.0,507.9 L251.5,507.0 L253.0,506.1 L254.5,505.3 L256.0,504.5 L257.5,503.7 L259.0,502.9 L260.5,502.2 L262.0,501.6 L263.5,501.0 L265.0,500.5 L266.5,500.0 L268.0,499.6 L269.5,499.3 L271.0,499.0 L272.5,498.8 L274.0,498.7 L275.5,498.7 L277.0,498.8 L278.5,498.9 L280.0,499.1 L281.5,499.4 L283.0,499.7 L284.5,500.1 L286.0,500.6 L287.5,501.1 L289.0,501.7 L290.5,502.4 L292.0,503.1 L293.5,503.9 L295.0,504.7 L296.5,505.6 L298.0,506.4 L299.5,507.4 L301.0,508.3 L302.5,509.3 L304.0,510.4 L305.5,511.4 L307.0,512.4 L308.5,513.5 L310.0,514.6 L311.5,515.6 L313.0,516.7 L314.5,517.8 L316.0,518.8 L317.5,519.8 L319.0,520.9 L320.5,521.9 L322.0,522.9 L323.5,523.8 L325.0,524.8 L326.5,525.7 L328.0,526.6 L329.5,527.4 L331.0,528.3 L332.5,529.1 L334.0,529.8 L335.5,530.6 L337.0,531.3 L338.5,531.9 L340.0,532.6 L341.5,533.2 L343.0,533.8 L344.5,534.3 L346.0,534.8 L347.5,535.3 L349.0,535.7 L350.5,536.2 L352.0,536.6 L353.5,536.9 L355.0,537.3 L356.5,537.6 L358.0,537.9 L359.5,538.2 L361.0,538.4 L362.5,538.6 L364.0,538.9 L365.5,539.1 L367.0,539.2 L368.5,539.4 L370.0,539.6 L371.5,539.7 L373.0,539.8 L374.5,539.9 L376.0,540.0 L377.5,540.1 L379.0,540.2 L380.5,540.3 L382.0,540.4 L383.5,540.4 L385.0,540.5 L386.5,540.6 L388.0,540.6 L389.5,540.6 L391.0,540.7 L392.5,540.7 L394.0,540.8 L395.5,540.8 L397.0,540.8 L398.5,540.8 L400.0,540.9 L401.5,540.9 L403.0,540.9 L404.5,540.9 L406.0,540.9 L407.5,541.0 L409.0,541.0 L410.5,541.0 L412.0,541.0 L413.5,541.0 L415.0,541.0 L416.5,541.0 L418.0,541.1 L419.5,541.1 L421.0,541.1 L422.5,541.1 L424.0,541.1 L425.5,541.1 L427.0,541.1 L428.5,541.1 L430.0,541.1 L431.5,541.2 L433.0,541.2 L434.5,541.2 L436.0,541.2 L437.5,541.2 L439.0,541.2 L440.5,541.2 L442.0,541.2 L443.5,541.2 L445.0,541.3 L446.5,541.3 L448.0,541.3 L449.5,541.3 L451.0,541.3 L452.5,541.3 L454.0,541.3 L455.5,541.3 L457.0,541.4 L458.5,541.4 L460.0,541.4 L461.5,541.4 L463.0,541.4 L464.5,541.4 L466.0,541.4 L467.5,541.5 L469.0,541.5 L470.5,541.5 L472.0,541.5 L473.5,541.5 L475.0,541.5 L476.5,541.6 L478.0,541.6 L479.5,541.6 L481.0,541.6 L482.5,541.7 L484.0,541.7 L485.5,541.7 L487.0,541.7 L488.5,541.7 L490.0,541.8 L491.5,541.8 L493.0,541.8 L494.5,541.9 L496.0,541.9 L497.5,541.9 L499.0,542.0 L500.5,542.0 L502.0,542.0 L503.5,542.1 L505.0,542.1 L506.5,542.2 L508.0,542.2 L509.5,542.2 L511.0,542.3 L512.5,542.4 L514.0,542.4 L515.5,542.5 L517.0,542.5 L518.5,542.6 L520.0,542.6 L521.5,542.7 L523.0,542.8 L524.5,542.9 L526.0,542.9 L527.5,543.0 L529.0,543.1 L530.5,543.2 L532.0,543.3 L533.5,543.3 L535.0,543.4 L536.5,543.5 L538.0,543.6 L539.5,543.7 L541.0,543.8 L542.5,543.9 L544.0,544.1 L545.5,544.2 L547.0,544.3 L548.5,544.4 L550.0,544.5 L551.5,544.6 L553.0,544.7 L554.5,544.9 L556.0,545.0 L557.5,545.1 L559.0,545.2 L560.5,545.3 L562.0,545.4 L563.5,545.6 L565.0,545.7 L566.5,545.8 L568.0,545.9 L569.5,546.0 L571.0,546.1 L572.5,546.2 L574.0,546.3 L575.5,546.5 L577.0,546.6 L578.5,546.7 L580.0,546.7 L581.5,546.8 L583.0,546.9 L584.5,547.0 L586.0,547.1 L587.5,547.2 L589.0,547.3 L590.5,547.3 L592.0,547.4 L593.5,547.5 L595.0,547.5 L596.5,547.6 L598.0,547.7 L599.5,547.7 L601.0,547.8 L602.5,547.8 L604.0,547.9 L605.5,547.9 L607.0,548.0 L608.5,548.0 L610.0,548.1 L611.5,548.1 L613.0,548.2 L614.5,548.2 L616.0,548.2 L617.5,548.3 L619.0,548.3 L620.5,548.3 L622.0,548.4 L623.5,548.4 L625.0,548.4 L626.5,548.5 L628.0,548.5 L629.5,548.5 L631.0,548.5 L632.5,548.5 L634.0,548.6 L635.5,548.6 L637.0,548.6 L638.5,548.6 L640.0,548.6 L641.5,548.7 L643.0,548.7 L644.5,548.7 L646.0,548.7 L647.5,548.7 L649.0,548.8 L650.5,548.8 L652.0,548.8 L653.5,548.8 L655.0,548.8 L656.5,548.8 L658.0,548.8 L659.5,548.9 L661.0,548.9 L662.5,548.9 L664.0,548.9 L665.5,548.9 L667.0,548.9 L668.5,548.9 L670.0,548.9 L671.5,548.9 L673.0,549.0 L674.5,549.0 L676.0,549.0 L677.5,549.0 L679.0,549.0 L680.5,549.0 L682.0,549.0 L683.5,549.0 L685.0,549.0 L686.5,549.1 L688.0,549.1 L689.5,549.1 L691.0,549.1 L692.5,549.1 L694.0,549.1 L695.5,549.1 L697.0,549.1 L698.5,549.1 L700.0,549.1 L701.5,549.2 L703.0,549.2 L704.5,549.2 L706.0,549.2 L707.5,549.2 L709.0,549.2 L710.5,549.2 L712.0,549.2 L713.5,549.2 L715.0,549.2 L716.5,549.2 L718.0,549.3 L719.5,549.3 L721.0,549.3 L722.5,549.3 L724.0,549.3 L725.5,549.3 L727.0,549.3 L728.5,549.3 L730.0,549.3 L731.5,549.3 L733.0,549.3 L734.5,549.4 L736.0,549.4 L737.5,549.4 L739.0,549.4 L740.5,549.4 L740.5,549.4 L118.0,539.3 Z" fill="#9fc9e2" fill-opacity="0.80" stroke="none"/>
<path d="M118.0,537.9 L119.5,537.9 L121.0,537.9 L122.5,537.9 L124.0,537.8 L125.5,537.8 L127.0,537.8 L128.5,537.8 L130.0,537.8 L131.5,537.7 L133.0,537.7 L134.5,537.7 L136.0,537.7 L137.5,537.6 L139.0,537.6 L140.5,537.6 L142.0,537.5 L143.5,537.5 L145.0,537.5 L146.5,537.4 L148.0,537.4 L149.5,537.3 L151.0,537.3 L152.5,537.2 L154.0,537.2 L155.5,537.1 L157.0,537.1 L158.5,537.0 L160.0,536.9 L161.5,536.9 L163.0,536.8 L164.5,536.7 L166.0,536.6 L167.5,536.5 L169.0,536.4 L170.5,536.3 L172.0,536.2 L173.5,536.1 L175.0,536.0 L176.5,535.8 L178.0,535.7 L179.5,535.5 L181.0,535.4 L182.5,535.2 L184.0,535.0 L185.5,534.8 L187.0,534.6 L188.5,534.3 L190.0,534.1 L191.5,533.8 L193.0,533.5 L194.5,533.2 L196.0,532.9 L197.5,532.6 L199.0,532.2 L200.5,531.9 L202.0,531.5 L203.5,531.1 L205.0,530.6 L206.5,530.2 L208.0,529.7 L209.5,529.2 L211.0,528.7 L212.5,528.1 L214.0,527.5 L215.5,526.9 L217.0,526.3 L218.5,525.7 L220.0,525.0 L221.5,524.3 L223.0,523.6 L224.5,522.8 L226.0,522.1 L227.5,521.3 L229.0,520.5 L230.5,519.6 L232.0,518.8 L233.5,517.9 L235.0,517.0 L236.5,516.2 L238.0,515.2 L239.5,514.3 L241.0,513.4 L242.5,512.5 L244.0,511.5 L245.5,510.6 L247.0,509.7 L248.5,508.8 L250.0,507.9 L251.5,507.0 L253.0,506.1 L254.5,505.3 L256.0,504.5 L257.5,503.7 L259.0,502.9 L260.5,502.2 L262.0,501.6 L263.5,501.0 L265.0,500.5 L266.5,500.0 L268.0,499.6 L269.5,499.3 L271.0,499.0 L272.5,498.8 L274.0,498.7 L275.5,498.7 L277.0,498.8 L278.5,498.9 L280.0,499.1 L281.5,499.4 L283.0,499.7 L284.5,500.1 L286.0,500.6 L287.5,501.1 L289.0,501.7 L290.5,502.4 L292.0,503.1 L293.5,503.9 L295.0,504.7 L296.5,505.6 L298.0,506.4 L299.5,507.4 L301.0,508.3 L302.5,509.3 L304.0,510.4 L305.5,511.4 L307.0,512.4 L308.5,513.5 L310.0,514.6 L311.5,515.6 L313.0,516.7 L314.5,517.8 L316.0,518.8 L317.5,519.8 L319.0,520.9 L320.5,521.9 L322.0,522.9 L323.5,523.8 L325.0,524.8 L326.5,525.7 L328.0,526.6 L329.5,527.4 L331.0,528.3 L332.5,529.1 L334.0,529.8 L335.5,530.6 L337.0,531.3 L338.5,531.9 L340.0,532.6 L341.5,533.2 L343.0,533.8 L344.5,534.3 L346.0,534.8 L347.5,535.3 L349.0,535.7 L350.5,536.2 L352.0,536.6 L353.5,536.9 L355.0,537.3 L356.5,537.6 L358.0,537.9 L359.5,538.2 L361.0,538.4 L362.5,538.6 L364.0,538.9 L365.5,539.1 L367.0,539.2 L368.5,539.4 L370.0,539.6 L371.5,539.7 L373.0,539.8 L374.5,539.9 L376.0,540.0 L377.5,540.1 L379.0,540.2 L380.5,540.3 L382.0,540.4 L383.5,540.4 L385.0,540.5 L386.5,540.6 L388.0,540.6 L389.5,540.6 L391.0,540.7 L392.5,540.7 L394.0,540.8 L395.5,540.8 L397.0,540.8 L398.5,540.8 L400.0,540.9 L401.5,540.9 L403.0,540.9 L404.5,540.9 L406.0,540.9 L407.5,541.0 L409.0,541.0 L410.5,541.0 L412.0,541.0 L413.5,541.0 L415.0,541.0 L416.5,541.0 L418.0,541.1 L419.5,541.1 L421.0,541.1 L422.5,541.1 L424.0,541.1 L425.5,541.1 L427.0,541.1 L428.5,541.1 L430.0,541.1 L431.5,541.2 L433.0,541.2 L434.5,541.2 L436.0,541.2 L437.5,541.2 L439.0,541.2 L440.5,541.2 L442.0,541.2 L443.5,541.2 L445.0,541.3 L446.5,541.3 L448.0,541.3 L449.5,541.3 L451.0,541.3 L452.5,541.3 L454.0,541.3 L455.5,541.3 L457.0,541.4 L458.5,541.4 L460.0,541.4 L461.5,541.4 L463.0,541.4 L464.5,541.4 L466.0,541.4 L467.5,541.5 L469.0,541.5 L470.5,541.5 L472.0,541.5 L473.5,541.5 L475.0,541.5 L476.5,541.6 L478.0,541.6 L479.5,541.6 L481.0,541.6 L482.5,541.7 L484.0,541.7 L485.5,541.7 L487.0,541.7 L488.5,541.7 L490.0,541.8 L491.5,541.8 L493.0,541.8 L494.5,541.9 L496.0,541.9 L497.5,541.9 L499.0,542.0 L500.5,542.0 L502.0,542.0 L503.5,542.1 L505.0,542.1 L506.5,542.2 L508.0,542.2 L509.5,542.2 L511.0,542.3 L512.5,542.4 L514.0,542.4 L515.5,542.5 L517.0,542.5 L518.5,542.6 L520.0,542.6 L521.5,542.7 L523.0,542.8 L524.5,542.9 L526.0,542.9 L527.5,543.0 L529.0,543.1 L530.5,543.2 L532.0,543.3 L533.5,543.3 L535.0,543.4 L536.5,543.5 L538.0,543.6 L539.5,543.7 L541.0,543.8 L542.5,543.9 L544.0,544.1 L545.5,544.2 L547.0,544.3 L548.5,544.4 L550.0,544.5 L551.5,544.6 L553.0,544.7 L554.5,544.9 L556.0,545.0 L557.5,545.1 L559.0,545.2 L560.5,545.3 L562.0,545.4 L563.5,545.6 L565.0,545.7 L566.5,545.8 L568.0,545.9 L569.5,546.0 L571.0,546.1 L572.5,546.2 L574.0,546.3 L575.5,546.5 L577.0,546.6 L578.5,546.7 L580.0,546.7 L581.5,546.8 L583.0,546.9 L584.5,547.0 L586.0,547.1 L587.5,547.2 L589.0,547.3 L590.5,547.3 L592.0,547.4 L593.5,547.5 L595.0,547.5 L596.5,547.6 L598.0,547.7 L599.5,547.7 L601.0,547.8 L602.5,547.8 L604.0,547.9 L605.5,547.9 L607.0,548.0 L608.5,548.0 L610.0,548.1 L611.5,548.1 L613.0,548.2 L614.5,548.2 L616.0,548.2 L617.5,548.3 L619.0,548.3 L620.5,548.3 L622.0,548.4 L623.5,548.4 L625.0,548.4 L626.5,548.5 L628.0,548.5 L629.5,548.5 L631.0,548.5 L632.5,548.5 L634.0,548.6 L635.5,548.6 L637.0,548.6 L638.5,548.6 L640.0,548.6 L641.5,548.7 L643.0,548.7 L644.5,548.7 L646.0,548.7 L647.5,548.7 L649.0,548.8 L650.5,548.8 L652.0,548.8 L653.5,548.8 L655.0,548.8 L656.5,548.8 L658.0,548.8 L659.5,548.9 L661.0,548.9 L662.5,548.9 L664.0,548.9 L665.5,548.9 L667.0,548.9 L668.5,548.9 L670.0,548.9 L671.5,548.9 L673.0,549.0 L674.5,549.0 L676.0,549.0 L677.5,549.0 L679.0,549.0 L680.5,549.0 L682.0,549.0 L683.5,549.0 L685.0,549.0 L686.5,549.1 L688.0,549.1 L689.5,549.1 L691.0,549.1 L692.5,549.1 L694.0,549.1 L695.5,549.1 L697.0,549.1 L698.5,549.1 L700.0,549.1 L701.5,549.2 L703.0,549.2 L704.5,549.2 L706.0,549.2 L707.5,549.2 L709.0,549.2 L710.5,549.2 L712.0,549.2 L713.5,549.2 L715.0,549.2 L716.5,549.2 L718.0,549.3 L719.5,549.3 L721.0,549.3 L722.5,549.3 L724.0,549.3 L725.5,549.3 L727.0,549.3 L728.5,549.3 L730.0,549.3 L731.5,549.3 L733.0,549.3 L734.5,549.4 L736.0,549.4 L737.5,549.4 L739.0,549.4 L740.5,549.4" fill="none" stroke="#3a87c2" stroke-width="5.8" stroke-linejoin="round" stroke-linecap="butt"/>
<path d="M91.0,537.4 L92.5,537.4 L94.0,537.4 L95.5,537.4 L97.0,537.4 L98.5,537.4 L100.0,537.5 L101.5,537.5 L103.0,537.5 L104.5,537.5 L106.0,537.5 L107.5,537.5 L109.0,537.5 L110.5,537.5 L112.0,537.5 L113.5,537.5 L115.0,537.5 L116.5,537.6 L118.0,537.6 L119.5,537.6 L121.0,537.6 L122.5,537.6 L124.0,537.6 L125.5,537.6 L127.0,537.6 L128.5,537.6 L130.0,537.6 L131.5,537.6 L133.0,537.7 L134.5,537.7 L136.0,537.7 L137.5,537.7 L139.0,537.7 L140.5,537.7 L142.0,537.7 L143.5,537.7 L145.0,537.7 L146.5,537.7 L148.0,537.7 L149.5,537.8 L151.0,537.8 L152.5,537.8 L154.0,537.8 L155.5,537.8 L157.0,537.8 L158.5,537.8 L160.0,537.8 L161.5,537.8 L163.0,537.8 L164.5,537.8 L166.0,537.9 L167.5,537.9 L169.0,537.9 L170.5,537.9 L172.0,537.9 L173.5,537.9 L175.0,537.9 L176.5,537.9 L178.0,537.9 L179.5,537.9 L181.0,537.9 L182.5,537.9 L184.0,538.0 L185.5,538.0 L187.0,538.0 L188.5,538.0 L190.0,538.0 L191.5,538.0 L193.0,538.0 L194.5,538.0 L196.0,538.0 L197.5,538.0 L199.0,538.0 L200.5,538.1 L202.0,538.1 L203.5,538.1 L205.0,538.1 L206.5,538.1 L208.0,538.1 L209.5,538.1 L211.0,538.1 L212.5,538.1 L214.0,538.1 L215.5,538.1 L217.0,538.2 L218.5,538.2 L220.0,538.2 L221.5,538.2 L223.0,538.2 L224.5,538.2 L226.0,538.2 L227.5,538.2 L229.0,538.2 L230.5,538.2 L232.0,538.2 L233.5,538.3 L235.0,538.3 L236.5,538.3 L238.0,538.3 L239.5,538.3 L241.0,538.3 L242.5,538.3 L244.0,538.3 L245.5,538.3 L247.0,538.3 L248.5,538.3 L250.0,538.4 L251.5,538.4 L253.0,538.4 L254.5,538.4 L256.0,538.4 L257.5,538.4 L259.0,538.4 L260.5,538.4 L262.0,538.4 L263.5,538.4 L265.0,538.4 L266.5,538.5 L268.0,538.5 L269.5,538.5 L271.0,538.5 L272.5,538.5 L274.0,538.5 L275.5,538.5 L277.0,538.5 L278.5,538.5 L280.0,538.5 L281.5,538.5 L283.0,538.6 L284.5,538.6 L286.0,538.6 L287.5,538.6 L289.0,538.6 L290.5,538.6 L292.0,538.6 L293.5,538.6 L295.0,538.6 L296.5,538.6 L298.0,538.6 L299.5,538.7 L301.0,538.7 L302.5,538.7 L304.0,538.7 L305.5,538.7 L307.0,538.7 L308.5,538.7 L310.0,538.7 L311.5,538.7 L313.0,538.7 L314.5,538.7 L316.0,538.8 L317.5,538.8 L319.0,538.8 L320.5,538.8 L322.0,538.8 L323.5,538.8 L325.0,538.8 L326.5,538.8 L328.0,538.8 L329.5,538.8 L331.0,538.8 L332.5,538.8 L334.0,538.9 L335.5,538.9 L337.0,538.9 L338.5,538.9 L340.0,538.9 L341.5,538.9 L343.0,538.9 L344.5,538.9 L346.0,538.9 L347.5,538.9 L349.0,538.9 L350.5,539.0 L352.0,539.0 L353.5,539.0 L355.0,539.0 L356.5,539.0 L358.0,539.0 L359.5,539.0 L361.0,539.0 L362.5,539.0 L364.0,539.0 L365.5,539.0 L367.0,539.1 L368.5,539.1 L370.0,539.1 L371.5,539.1 L373.0,539.1 L374.5,539.1 L376.0,539.1 L377.5,539.1 L379.0,539.1 L380.5,539.1 L382.0,539.1 L383.5,539.2 L385.0,539.2 L386.5,539.2 L388.0,539.2 L389.5,539.2 L391.0,539.2 L392.5,539.2 L394.0,539.2 L395.5,539.2 L397.0,539.2 L398.5,539.3 L400.0,539.3 L401.5,539.3 L403.0,539.3 L404.5,539.3 L406.0,539.3 L407.5,539.3 L409.0,539.3 L410.5,539.3 L412.0,539.3 L413.5,539.3 L415.0,539.4 L416.5,539.4 L418.0,539.4 L419.5,539.4 L421.0,539.4 L422.5,539.4 L424.0,539.4 L425.5,539.4 L427.0,539.4 L428.5,539.4 L430.0,539.5 L431.5,539.5 L433.0,539.5 L434.5,539.5 L436.0,539.5 L437.5,539.5 L439.0,539.5 L440.5,539.5 L442.0,539.6 L443.5,539.6 L445.0,539.6 L446.5,539.6 L448.0,539.6 L449.5,539.6 L451.0,539.6 L452.5,539.6 L454.0,539.7 L455.5,539.7 L457.0,539.7 L458.5,539.7 L460.0,539.7 L461.5,539.7 L463.0,539.7 L464.5,539.8 L466.0,539.8 L467.5,539.8 L469.0,539.8 L470.5,539.8 L472.0,539.9 L473.5,539.9 L475.0,539.9 L476.5,539.9 L478.0,539.9 L479.5,540.0 L481.0,540.0 L482.5,540.0 L484.0,540.0 L485.5,540.1 L487.0,540.1 L488.5,540.1 L490.0,540.2 L491.5,540.2 L493.0,540.2 L494.5,540.3 L496.0,540.3 L497.5,540.4 L499.0,540.4 L500.5,540.5 L502.0,540.5 L503.5,540.6 L505.0,540.6 L506.5,540.7 L508.0,540.7 L509.5,540.8 L511.0,540.8 L512.5,540.9 L514.0,541.0 L515.5,541.1 L517.0,541.1 L518.5,541.2 L520.0,541.3 L521.5,541.4 L523.0,541.5 L524.5,541.6 L526.0,541.7 L527.5,541.8 L529.0,541.9 L530.5,542.0 L532.0,542.1 L533.5,542.2 L535.0,542.4 L536.5,542.5 L538.0,542.6 L539.5,542.8 L541.0,542.9 L542.5,543.1 L544.0,543.2 L545.5,543.4 L547.0,543.5 L548.5,543.7 L550.0,543.8 L551.5,544.0 L553.0,544.2 L554.5,544.3 L556.0,544.5 L557.5,544.7 L559.0,544.9 L560.5,545.0 L562.0,545.2 L563.5,545.4 L565.0,545.5 L566.5,545.7 L568.0,545.9 L569.5,546.0 L571.0,546.2 L572.5,546.4 L574.0,546.5 L575.5,546.7 L577.0,546.8 L578.5,547.0 L580.0,547.1 L581.5,547.2 L583.0,547.4 L584.5,547.5 L586.0,547.6 L587.5,547.8 L589.0,547.9 L590.5,548.0 L592.0,548.1 L593.5,548.2 L595.0,548.3 L596.5,548.4 L598.0,548.5 L599.5,548.6 L601.0,548.7 L602.5,548.8 L604.0,548.8 L605.5,548.9 L607.0,549.0 L608.5,549.1 L610.0,549.1 L611.5,549.2 L613.0,549.2 L614.5,549.3 L616.0,549.4 L617.5,549.4 L619.0,549.5 L620.5,549.5 L622.0,549.6 L623.5,549.6 L625.0,549.6 L626.5,549.7 L628.0,549.7 L629.5,549.7 L631.0,549.8 L632.5,549.8 L634.0,549.8 L635.5,549.9 L637.0,549.9 L638.5,549.9 L640.0,550.0 L641.5,550.0 L643.0,550.0 L644.5,550.0 L646.0,550.0 L647.5,550.1 L649.0,550.1 L650.5,550.1 L652.0,550.1 L653.5,550.1 L655.0,550.2 L656.5,550.2 L658.0,550.2 L659.5,550.2 L661.0,550.2 L662.5,550.2 L664.0,550.3 L665.5,550.3 L667.0,550.3 L668.5,550.3 L670.0,550.3 L671.5,550.3 L673.0,550.3 L674.5,550.3 L676.0,550.4 L677.5,550.4 L679.0,550.4 L680.5,550.4 L682.0,550.4 L683.5,550.4 L685.0,550.4 L686.5,550.4 L688.0,550.5 L689.5,550.5 L691.0,550.5 L692.5,550.5 L694.0,550.5 L695.5,550.5 L697.0,550.5 L698.5,550.5 L700.0,550.5 L701.5,550.5 L703.0,550.6 L704.5,550.6 L706.0,550.6 L707.5,550.6 L709.0,550.6 L710.5,550.6 L712.0,550.6 L713.5,550.6 L715.0,550.6 L716.5,550.6 L718.0,550.7 L719.5,550.7 L721.0,550.7 L722.5,550.7 L724.0,550.7 L725.5,550.7 L727.0,550.7 L728.5,550.7 L730.0,550.7 L731.5,550.7 L733.0,550.7 L734.5,550.8 L736.0,550.8 L737.5,550.8 L739.0,550.8 L740.5,550.8" fill="none" stroke="#000" stroke-width="5.5" stroke-linejoin="round" stroke-linecap="round"/>
<path d="M91.0,535.5 L92.5,535.5 L94.0,535.4 L95.5,535.3 L97.0,535.2 L98.5,535.2 L100.0,535.1 L101.5,535.0 L103.0,534.9 L104.5,534.8 L106.0,534.7 L107.5,534.5 L109.0,534.4 L110.5,534.3 L112.0,534.1 L113.5,534.0 L115.0,533.8 L116.5,533.6 L118.0,533.5 L119.5,533.3 L121.0,533.1 L122.5,532.8 L124.0,532.6 L125.5,532.4 L127.0,532.1 L128.5,531.8 L130.0,531.5 L131.5,531.2 L133.0,530.8 L134.5,530.5 L136.0,530.1 L137.5,529.6 L139.0,529.2 L140.5,528.7 L142.0,528.2 L143.5,527.6 L145.0,527.1 L146.5,526.4 L148.0,525.8 L149.5,525.0 L151.0,524.3 L152.5,523.5 L154.0,522.6 L155.5,521.7 L157.0,520.7 L158.5,519.7 L160.0,518.6 L161.5,517.4 L163.0,516.1 L164.5,514.8 L166.0,513.4 L167.5,512.0 L169.0,510.5 L170.5,508.8 L172.0,507.2 L173.5,505.4 L175.0,503.6 L176.5,501.6 L178.0,499.6 L179.5,497.6 L181.0,495.4 L182.5,493.2 L184.0,491.0 L185.5,488.7 L187.0,486.3 L188.5,483.9 L190.0,481.4 L191.5,478.9 L193.0,476.4 L194.5,473.8 L196.0,471.3 L197.5,468.7 L199.0,466.2 L200.5,463.7 L202.0,461.3 L203.5,458.9 L205.0,456.5 L206.5,454.3 L208.0,452.1 L209.5,450.1 L211.0,448.2 L212.5,446.4 L214.0,444.8 L215.5,443.3 L217.0,442.0 L218.5,440.9 L220.0,440.0 L221.5,439.3 L223.0,438.7 L224.5,438.3 L226.0,438.1 L227.5,438.0 L229.0,438.1 L230.5,438.4 L232.0,438.8 L233.5,439.3 L235.0,440.0 L236.5,440.7 L238.0,441.6 L239.5,442.6 L241.0,443.7 L242.5,444.9 L244.0,446.2 L245.5,447.5 L247.0,448.8 L248.5,450.2 L250.0,451.6 L251.5,453.0 L253.0,454.5 L254.5,455.9 L256.0,457.3 L257.5,458.7 L259.0,460.1 L260.5,461.5 L262.0,462.9 L263.5,464.2 L265.0,465.4 L266.5,466.7 L268.0,467.9 L269.5,469.0 L271.0,470.1 L272.5,471.2 L274.0,472.2 L275.5,473.2 L277.0,474.2 L278.5,475.3 L280.0,476.3 L281.5,477.3 L283.0,478.4 L284.5,479.5 L286.0,480.5 L287.5,481.6 L289.0,482.7 L290.5,483.8 L292.0,484.9 L293.5,486.0 L295.0,487.1 L296.5,488.2 L298.0,489.2 L299.5,490.3 L301.0,491.4 L302.5,492.4 L304.0,493.5 L305.5,494.5 L307.0,495.5 L308.5,496.5 L310.0,497.5 L311.5,498.5 L313.0,499.4 L314.5,500.3 L316.0,501.2 L317.5,502.1 L319.0,502.9 L320.5,503.7 L322.0,504.5 L323.5,505.3 L325.0,506.0 L326.5,506.7 L328.0,507.3 L329.5,508.0 L331.0,508.5 L332.5,509.1 L334.0,509.6 L335.5,510.1 L337.0,510.6 L338.5,511.0 L340.0,511.4 L341.5,511.8 L343.0,512.1 L344.5,512.4 L346.0,512.6 L347.5,512.8 L349.0,513.0 L350.5,513.1 L352.0,513.2 L353.5,513.3 L355.0,513.4 L356.5,513.4 L358.0,513.3 L359.5,513.3 L361.0,513.2 L362.5,513.0 L364.0,512.8 L365.5,512.6 L367.0,512.4 L368.5,512.1 L370.0,511.9 L371.5,511.5 L373.0,511.2 L374.5,510.8 L376.0,510.3 L377.5,509.9 L379.0,509.4 L380.5,508.9 L382.0,508.4 L383.5,507.8 L385.0,507.2 L386.5,506.6 L388.0,506.0 L389.5,505.3 L391.0,504.6 L392.5,503.9 L394.0,503.1 L395.5,502.4 L397.0,501.6 L398.5,500.8 L400.0,499.9 L401.5,499.1 L403.0,498.2 L404.5,497.3 L406.0,496.4 L407.5,495.5 L409.0,494.6 L410.5,493.6 L412.0,492.6 L413.5,491.6 L415.0,490.6 L416.5,489.6 L418.0,488.6 L419.5,487.5 L421.0,486.5 L422.5,485.4 L424.0,484.3 L425.5,483.3 L427.0,482.2 L428.5,481.0 L430.0,479.9 L431.5,478.8 L433.0,477.6 L434.5,476.5 L436.0,475.3 L437.5,474.1 L439.0,472.9 L440.5,471.7 L442.0,470.5 L443.5,469.2 L445.0,467.9 L446.5,466.6 L448.0,465.3 L449.5,463.9 L451.0,462.5 L452.5,461.1 L454.0,459.6 L455.5,458.0 L457.0,456.4 L458.5,454.7 L460.0,452.9 L461.5,451.1 L463.0,449.1 L464.5,447.1 L466.0,444.9 L467.5,442.6 L469.0,440.1 L470.5,437.5 L472.0,434.7 L473.5,431.7 L475.0,428.5 L476.5,425.1 L478.0,421.5 L479.5,417.6 L481.0,413.5 L482.5,409.1 L484.0,404.4 L485.5,399.4 L487.0,394.1 L488.5,388.5 L490.0,382.5 L491.5,376.2 L493.0,369.5 L494.5,362.5 L496.0,355.1 L497.5,347.3 L499.0,339.2 L500.5,330.8 L502.0,321.9 L503.5,312.8 L505.0,303.3 L506.5,293.5 L508.0,283.5 L509.5,273.1 L511.0,262.5 L512.5,251.7 L514.0,240.7 L515.5,229.6 L517.0,218.3 L518.5,206.9 L520.0,195.5 L521.5,184.1 L523.0,172.7 L524.5,161.4 L526.0,150.1 L527.5,139.1 L529.0,128.2 L530.5,117.5 L532.0,107.1 L533.5,97.0 L535.0,87.3 L536.5,77.9 L538.0,69.0 L539.5,60.5 L541.0,52.6 L542.5,45.1 L544.0,38.2 L545.5,32.4 L547.0,27.8 L548.5,24.4 L550.0,22.2 L551.5,21.2 L553.0,21.3 L554.5,22.5 L556.0,24.7 L557.5,27.8 L559.0,31.7 L560.5,36.4 L562.0,41.7 L563.5,47.7 L565.0,54.1 L566.5,61.1 L568.0,68.4 L569.5,76.0 L571.0,83.9 L572.5,92.1 L574.0,100.4 L575.5,108.9 L577.0,117.6 L578.5,126.4 L580.0,135.3 L581.5,144.3 L583.0,153.5 L584.5,162.8 L586.0,172.4 L587.5,182.2 L589.0,192.2 L590.5,202.4 L592.0,212.7 L593.5,223.2 L595.0,233.8 L596.5,244.5 L598.0,255.2 L599.5,266.0 L601.0,276.7 L602.5,287.5 L604.0,298.1 L605.5,308.7 L607.0,319.2 L608.5,329.6 L610.0,339.8 L611.5,349.8 L613.0,359.6 L614.5,369.2 L616.0,378.5 L617.5,387.6 L619.0,396.4 L620.5,404.9 L622.0,413.1 L623.5,421.0 L625.0,428.6 L626.5,435.9 L628.0,442.8 L629.5,449.4 L631.0,455.7 L632.5,461.6 L634.0,467.2 L635.5,472.6 L637.0,477.6 L638.5,482.3 L640.0,486.7 L641.5,490.8 L643.0,494.6 L644.5,498.2 L646.0,501.6 L647.5,504.7 L649.0,507.6 L650.5,510.3 L652.0,512.8 L653.5,515.1 L655.0,517.2 L656.5,519.2 L658.0,521.0 L659.5,522.7 L661.0,524.2 L662.5,525.7 L664.0,527.0 L665.5,528.2 L667.0,529.4 L668.5,530.4 L670.0,531.4 L671.5,532.3 L673.0,533.2 L674.5,533.9 L676.0,534.7 L677.5,535.4 L679.0,536.0 L680.5,536.6 L682.0,537.2 L683.5,537.7 L685.0,538.2 L686.5,538.7 L688.0,539.1 L689.5,539.5 L691.0,539.9 L692.5,540.3 L694.0,540.6 L695.5,541.0 L697.0,541.3 L698.5,541.6 L700.0,541.9 L701.5,542.2 L703.0,542.4 L704.5,542.7 L706.0,542.9 L707.5,543.2 L709.0,543.4 L710.5,543.6 L712.0,543.8 L713.5,544.0 L715.0,544.2 L716.5,544.4 L718.0,544.6 L719.5,544.7 L721.0,544.9 L722.5,545.0 L724.0,545.2 L725.5,545.3 L727.0,545.5 L728.5,545.6 L730.0,545.7 L731.5,545.9 L733.0,546.0 L734.5,546.1 L736.0,546.2 L737.5,546.3 L739.0,546.4 L740.5,546.5" fill="none" stroke="#000" stroke-width="6.5" stroke-linejoin="round" stroke-linecap="round"/>
</g>
<path d="M88.95,3.45H743.45M88.95,583.70H743.45" stroke="#000" stroke-width="4.5" fill="none"/>
<path d="M91.00,3.45V583.70M741.40,3.45V583.70" stroke="#000" stroke-width="4.1" fill="none"/>
<path d="M91.0,583.7v11.3M221.1,583.7v11.3M351.2,583.7v11.3M481.3,583.7v11.3M611.4,583.7v11.3M741.5,583.7v11.3" stroke="#000" stroke-width="4.0" fill="none"/>
<path d="M156.1,583.7v5.2M286.1,583.7v5.2M416.2,583.7v5.2M546.3,583.7v5.2M676.4,583.7v5.2" stroke="#000" stroke-width="4.0" fill="none"/>
<text x="91.0" y="630.5" font-size="35.5" fill="#000" stroke="#000" stroke-width="0.70" text-anchor="middle" >292</text>
<text x="221.1" y="630.5" font-size="35.5" fill="#000" stroke="#000" stroke-width="0.70" text-anchor="middle" >290</text>
<text x="351.2" y="630.5" font-size="35.5" fill="#000" stroke="#000" stroke-width="0.70" text-anchor="middle" >288</text>
<text x="481.3" y="630.5" font-size="35.5" fill="#000" stroke="#000" stroke-width="0.70" text-anchor="middle" >286</text>
<text x="611.4" y="630.5" font-size="35.5" fill="#000" stroke="#000" stroke-width="0.70" text-anchor="middle" >284</text>
<text x="741.5" y="630.5" font-size="35.5" fill="#000" stroke="#000" stroke-width="0.70" text-anchor="middle" >282</text>
<text x="416.3" y="673.0" font-size="35.5" fill="#000" stroke="#000" stroke-width="0.70" text-anchor="middle" >Binding Energy (eV)</text>
<text x="0.0" y="0.0" font-size="35.5" fill="#000" stroke="#000" stroke-width="0.70" text-anchor="middle" transform="translate(65.2,292.3) rotate(-90)">Intensity (a.u.)</text>
<text x="0.8" y="56.0" font-size="57.0" fill="#000" stroke="#000" stroke-width="0.70" text-anchor="start" >(a)</text>
<text x="104.7" y="48.4" font-size="35.2" fill="#000" stroke="#000" stroke-width="0.70" text-anchor="start" >C 1s</text>
<text x="127.0" y="432.0" font-size="32.5" fill="#3aa535" stroke="#3aa535" stroke-width="0.50" text-anchor="start" >Li<tspan dy="8" font-size="21">2</tspan><tspan dy="-8">CO</tspan><tspan dy="8" font-size="21">3</tspan></text>
<text x="287.0" y="476.0" font-size="32.5" fill="#2b7bba" stroke="#2b7bba" stroke-width="0.50" text-anchor="start" >ROCO<tspan dy="8" font-size="21">2</tspan><tspan dy="-8">Li</tspan></text>
<text x="413.0" y="428.0" font-size="32.5" fill="#ff8c1a" stroke="#ff8c1a" stroke-width="0.50" text-anchor="start" >C-S</text>
<text x="446.0" y="288.0" font-size="32.5" fill="#fcc53a" stroke="#fcc53a" stroke-width="0.50" text-anchor="start" >C-C</text>
<text x="636.0" y="413.0" font-size="32.5" fill="#ef2a8c" stroke="#ef2a8c" stroke-width="0.50" text-anchor="start" >C=C</text>
<clipPath id="cb"><rect x="844.3" y="6.4" width="670.5" height="580.2"/></clipPath>
<g clip-path="url(#cb)">
<g fill="none" stroke="#222" stroke-width="0.90">
<circle cx="857.8" cy="527.9" r="5.3"/>
<circle cx="868.1" cy="535.6" r="5.3"/>
<circle cx="879.5" cy="534.6" r="5.3"/>
<circle cx="902.7" cy="520.1" r="5.3"/>
<circle cx="913.0" cy="509.8" r="5.3"/>
<circle cx="923.8" cy="544.9" r="5.3"/>
<circle cx="935.1" cy="536.6" r="5.3"/>
<circle cx="946.4" cy="535.6" r="5.3"/>
<circle cx="958.3" cy="543.3" r="5.3"/>
<circle cx="968.6" cy="511.4" r="5.3"/>
<circle cx="981.4" cy="509.8" r="5.3"/>
<circle cx="991.7" cy="508.8" r="5.3"/>
<circle cx="1002.0" cy="484.1" r="5.3"/>
<circle cx="1012.3" cy="468.6" r="5.3"/>
<circle cx="1027.8" cy="455.8" r="5.3"/>
<circle cx="1036.5" cy="408.4" r="5.3"/>
<circle cx="1048.4" cy="407.9" r="5.3"/>
<circle cx="1058.7" cy="378.5" r="5.3"/>
<circle cx="1069.0" cy="367.2" r="5.3"/>
<circle cx="1080.3" cy="315.2" r="5.3"/>
<circle cx="1092.2" cy="275.5" r="5.3"/>
<circle cx="1104.0" cy="266.8" r="5.3"/>
<circle cx="1113.8" cy="211.1" r="5.3"/>
<circle cx="1125.6" cy="181.3" r="5.3"/>
<circle cx="1137.5" cy="169.9" r="5.3"/>
<circle cx="1148.8" cy="141.6" r="5.3"/>
<circle cx="1159.1" cy="109.2" r="5.3"/>
<circle cx="1172.0" cy="105.6" r="5.3"/>
<circle cx="1181.3" cy="78.3" r="5.3"/>
<circle cx="1193.6" cy="86.5" r="5.3"/>
<circle cx="1205.5" cy="97.8" r="5.3"/>
<circle cx="1215.8" cy="107.1" r="5.3"/>
<circle cx="1226.1" cy="115.9" r="5.3"/>
<circle cx="1237.9" cy="190.5" r="5.3"/>
<circle cx="1249.2" cy="200.8" r="5.3"/>
<circle cx="1259.5" cy="232.8" r="5.3"/>
<circle cx="1271.4" cy="276.5" r="5.3"/>
<circle cx="1282.7" cy="320.3" r="5.3"/>
<circle cx="1294.6" cy="345.0" r="5.3"/>
<circle cx="1305.9" cy="388.8" r="5.3"/>
<circle cx="1316.2" cy="399.1" r="5.3"/>
<circle cx="1328.0" cy="416.1" r="5.3"/>
<circle cx="1339.4" cy="441.9" r="5.3"/>
<circle cx="1350.7" cy="473.8" r="5.3"/>
<circle cx="1361.5" cy="481.5" r="5.3"/>
<circle cx="1371.8" cy="509.8" r="5.3"/>
<circle cx="1383.1" cy="495.4" r="5.3"/>
<circle cx="1394.5" cy="502.1" r="5.3"/>
<circle cx="1405.3" cy="510.9" r="5.3"/>
<circle cx="1416.6" cy="491.8" r="5.3"/>
<circle cx="1427.9" cy="504.7" r="5.3"/>
<circle cx="1439.8" cy="512.4" r="5.3"/>
<circle cx="1461.4" cy="536.6" r="5.3"/>
<circle cx="1483.6" cy="500.6" r="5.3"/>
<circle cx="1494.9" cy="527.9" r="5.3"/>
<circle cx="1505.7" cy="526.3" r="5.3"/>
<circle cx="844.3" cy="532.1" r="5.3"/>
<circle cx="889.0" cy="530.2" r="5.3"/>
<circle cx="1447.8" cy="512.0" r="5.3"/>
<circle cx="1470.1" cy="514.5" r="5.3"/>
<circle cx="1514.8" cy="516.8" r="5.3"/>
</g>
<path d="M1073.8,529.5 L1075.3,529.4 L1076.8,529.3 L1078.3,529.2 L1079.8,529.1 L1081.3,528.9 L1082.8,528.8 L1084.3,528.6 L1085.8,528.4 L1087.3,528.2 L1088.8,527.9 L1090.3,527.6 L1091.8,527.3 L1093.3,526.9 L1094.8,526.5 L1096.3,526.1 L1097.8,525.5 L1099.3,524.9 L1100.8,524.3 L1102.3,523.5 L1103.8,522.7 L1105.3,521.8 L1106.8,520.7 L1108.3,519.6 L1109.8,518.4 L1111.3,517.0 L1112.8,515.5 L1114.3,513.9 L1115.8,512.1 L1117.3,510.1 L1118.8,508.0 L1120.3,505.8 L1121.8,503.3 L1123.3,500.7 L1124.8,497.9 L1126.3,494.9 L1127.8,491.7 L1129.3,488.3 L1130.8,484.7 L1132.3,480.9 L1133.8,476.9 L1135.3,472.7 L1136.8,468.2 L1138.3,463.6 L1139.8,458.8 L1141.3,453.9 L1142.8,448.7 L1144.3,443.4 L1145.8,437.9 L1147.3,432.3 L1148.8,426.6 L1150.3,420.7 L1151.8,414.7 L1153.3,408.7 L1154.8,402.6 L1156.3,396.4 L1157.8,390.2 L1159.3,384.1 L1160.8,377.9 L1162.3,371.7 L1163.8,365.6 L1165.3,359.6 L1166.8,353.6 L1168.3,347.8 L1169.8,342.1 L1171.3,336.5 L1172.8,331.1 L1174.3,325.8 L1175.8,320.8 L1177.3,316.0 L1178.8,311.4 L1180.3,307.0 L1181.8,302.8 L1183.3,298.9 L1184.8,295.3 L1186.3,291.9 L1187.8,288.8 L1189.3,285.9 L1190.8,283.4 L1192.3,281.0 L1193.8,278.9 L1195.3,277.1 L1196.8,275.5 L1198.3,274.2 L1199.8,273.1 L1201.3,272.2 L1202.8,271.5 L1204.3,270.9 L1205.8,270.6 L1207.3,270.3 L1208.8,270.2 L1210.3,270.2 L1211.8,270.2 L1213.3,270.3 L1214.8,270.5 L1216.3,270.9 L1217.8,271.5 L1219.3,272.2 L1220.8,273.2 L1222.3,274.3 L1223.8,275.7 L1225.3,277.4 L1226.8,279.3 L1228.3,281.5 L1229.8,283.9 L1231.3,286.6 L1232.8,289.6 L1234.3,292.8 L1235.8,296.3 L1237.3,300.1 L1238.8,304.1 L1240.3,308.4 L1241.8,312.9 L1243.3,317.6 L1244.8,322.6 L1246.3,327.7 L1247.8,333.1 L1249.3,338.6 L1250.8,344.2 L1252.3,350.0 L1253.8,355.9 L1255.3,361.9 L1256.8,368.0 L1258.3,374.2 L1259.8,380.3 L1261.3,386.5 L1262.8,392.7 L1264.3,398.9 L1265.8,405.0 L1267.3,411.1 L1268.8,417.1 L1270.3,423.0 L1271.8,428.7 L1273.3,434.4 L1274.8,439.9 L1276.3,445.2 L1277.8,450.4 L1279.3,455.4 L1280.8,460.2 L1282.3,464.8 L1283.8,469.2 L1285.3,473.4 L1286.8,477.5 L1288.3,481.3 L1289.8,484.9 L1291.3,488.3 L1292.8,491.5 L1294.3,494.5 L1295.8,497.3 L1297.3,499.9 L1298.8,502.3 L1300.3,504.5 L1301.8,506.6 L1303.3,508.5 L1304.8,510.2 L1306.3,511.8 L1307.8,513.3 L1309.3,514.6 L1310.8,515.8 L1312.3,516.9 L1313.8,517.9 L1315.3,518.7 L1316.8,519.5 L1318.3,520.2 L1319.8,520.8 L1321.3,521.3 L1322.8,521.8 L1324.3,522.2 L1325.8,522.6 L1327.3,522.9 L1328.8,523.2 L1330.3,523.4 L1331.8,523.6 L1333.3,523.8 L1334.8,523.9 L1336.3,524.0 L1337.8,524.1 L1339.3,524.2 L1340.8,524.3 L1342.3,524.3 L1343.8,524.3 L1345.3,524.4 L1345.3,524.6 L1073.8,529.8 Z" fill="#a6cce5" fill-opacity="0.80" stroke="none"/>
<path d="M1073.8,529.5 L1075.3,529.4 L1076.8,529.3 L1078.3,529.2 L1079.8,529.1 L1081.3,528.9 L1082.8,528.8 L1084.3,528.6 L1085.8,528.4 L1087.3,528.2 L1088.8,527.9 L1090.3,527.6 L1091.8,527.3 L1093.3,526.9 L1094.8,526.5 L1096.3,526.1 L1097.8,525.5 L1099.3,524.9 L1100.8,524.3 L1102.3,523.5 L1103.8,522.7 L1105.3,521.8 L1106.8,520.7 L1108.3,519.6 L1109.8,518.4 L1111.3,517.0 L1112.8,515.5 L1114.3,513.9 L1115.8,512.1 L1117.3,510.1 L1118.8,508.0 L1120.3,505.8 L1121.8,503.3 L1123.3,500.7 L1124.8,497.9 L1126.3,494.9 L1127.8,491.7 L1129.3,488.3 L1130.8,484.7 L1132.3,480.9 L1133.8,476.9 L1135.3,472.7 L1136.8,468.2 L1138.3,463.6 L1139.8,458.8 L1141.3,453.9 L1142.8,448.7 L1144.3,443.4 L1145.8,437.9 L1147.3,432.3 L1148.8,426.6 L1150.3,420.7 L1151.8,414.7 L1153.3,408.7 L1154.8,402.6 L1156.3,396.4 L1157.8,390.2 L1159.3,384.1 L1160.8,377.9 L1162.3,371.7 L1163.8,365.6 L1165.3,359.6 L1166.8,353.6 L1168.3,347.8 L1169.8,342.1 L1171.3,336.5 L1172.8,331.1 L1174.3,325.8 L1175.8,320.8 L1177.3,316.0 L1178.8,311.4 L1180.3,307.0 L1181.8,302.8 L1183.3,298.9 L1184.8,295.3 L1186.3,291.9 L1187.8,288.8 L1189.3,285.9 L1190.8,283.4 L1192.3,281.0 L1193.8,278.9 L1195.3,277.1 L1196.8,275.5 L1198.3,274.2 L1199.8,273.1 L1201.3,272.2 L1202.8,271.5 L1204.3,270.9 L1205.8,270.6 L1207.3,270.3 L1208.8,270.2 L1210.3,270.2 L1211.8,270.2 L1213.3,270.3 L1214.8,270.5 L1216.3,270.9 L1217.8,271.5 L1219.3,272.2 L1220.8,273.2 L1222.3,274.3 L1223.8,275.7 L1225.3,277.4 L1226.8,279.3 L1228.3,281.5 L1229.8,283.9 L1231.3,286.6 L1232.8,289.6 L1234.3,292.8 L1235.8,296.3 L1237.3,300.1 L1238.8,304.1 L1240.3,308.4 L1241.8,312.9 L1243.3,317.6 L1244.8,322.6 L1246.3,327.7 L1247.8,333.1 L1249.3,338.6 L1250.8,344.2 L1252.3,350.0 L1253.8,355.9 L1255.3,361.9 L1256.8,368.0 L1258.3,374.2 L1259.8,380.3 L1261.3,386.5 L1262.8,392.7 L1264.3,398.9 L1265.8,405.0 L1267.3,411.1 L1268.8,417.1 L1270.3,423.0 L1271.8,428.7 L1273.3,434.4 L1274.8,439.9 L1276.3,445.2 L1277.8,450.4 L1279.3,455.4 L1280.8,460.2 L1282.3,464.8 L1283.8,469.2 L1285.3,473.4 L1286.8,477.5 L1288.3,481.3 L1289.8,484.9 L1291.3,488.3 L1292.8,491.5 L1294.3,494.5 L1295.8,497.3 L1297.3,499.9 L1298.8,502.3 L1300.3,504.5 L1301.8,506.6 L1303.3,508.5 L1304.8,510.2 L1306.3,511.8 L1307.8,513.3 L1309.3,514.6 L1310.8,515.8 L1312.3,516.9 L1313.8,517.9 L1315.3,518.7 L1316.8,519.5 L1318.3,520.2 L1319.8,520.8 L1321.3,521.3 L1322.8,521.8 L1324.3,522.2 L1325.8,522.6 L1327.3,522.9 L1328.8,523.2 L1330.3,523.4 L1331.8,523.6 L1333.3,523.8 L1334.8,523.9 L1336.3,524.0 L1337.8,524.1 L1339.3,524.2 L1340.8,524.3 L1342.3,524.3 L1343.8,524.3 L1345.3,524.4" fill="none" stroke="#3b88c3" stroke-width="6.6" stroke-linejoin="round" stroke-linecap="butt"/>
<path d="M844.3,533.3 L845.8,533.2 L847.3,533.2 L848.8,533.2 L850.3,533.1 L851.8,533.1 L853.3,533.1 L854.8,533.0 L856.3,533.0 L857.8,533.0 L859.3,532.9 L860.8,532.9 L862.3,532.9 L863.8,532.8 L865.3,532.8 L866.8,532.8 L868.3,532.7 L869.8,532.7 L871.3,532.7 L872.8,532.6 L874.3,532.6 L875.8,532.6 L877.3,532.5 L878.8,532.5 L880.3,532.4 L881.8,532.4 L883.3,532.4 L884.8,532.3 L886.3,532.3 L887.8,532.3 L889.3,532.2 L890.8,532.2 L892.3,532.2 L893.8,532.1 L895.3,532.1 L896.8,532.1 L898.3,532.0 L899.8,532.0 L901.3,531.9 L902.8,531.9 L904.3,531.9 L905.8,531.8 L907.3,531.8 L908.8,531.8 L910.3,531.7 L911.8,531.7 L913.3,531.7 L914.8,531.6 L916.3,531.6 L917.8,531.5 L919.3,531.5 L920.8,531.5 L922.3,531.4 L923.8,531.4 L925.3,531.4 L926.8,531.3 L928.3,531.3 L929.8,531.2 L931.3,531.2 L932.8,531.2 L934.3,531.1 L935.8,531.1 L937.3,531.0 L938.8,531.0 L940.3,531.0 L941.8,530.9 L943.3,530.9 L944.8,530.8 L946.3,530.8 L947.8,530.8 L949.3,530.7 L950.8,530.7 L952.3,530.6 L953.8,530.6 L955.3,530.6 L956.8,530.5 L958.3,530.5 L959.8,530.4 L961.3,530.4 L962.8,530.4 L964.3,530.3 L965.8,530.3 L967.3,530.2 L968.8,530.2 L970.3,530.1 L971.8,530.1 L973.3,530.1 L974.8,530.0 L976.3,530.0 L977.8,529.9 L979.3,529.9 L980.8,529.8 L982.3,529.8 L983.8,529.8 L985.3,529.7 L986.8,529.7 L988.3,529.6 L989.8,529.6 L991.3,529.5 L992.8,529.5 L994.3,529.4 L995.8,529.4 L997.3,529.3 L998.8,529.3 L1000.3,529.3 L1001.8,529.2 L1003.3,529.2 L1004.8,529.1 L1006.3,529.1 L1007.8,529.0 L1009.3,529.0 L1010.8,528.9 L1012.3,528.9 L1013.8,528.8 L1015.3,528.8 L1016.8,528.7 L1018.3,528.7 L1019.8,528.6 L1021.3,528.6 L1022.8,528.5 L1024.3,528.5 L1025.8,528.4 L1027.3,528.4 L1028.8,528.3 L1030.3,528.2 L1031.8,528.2 L1033.3,528.1 L1034.8,528.1 L1036.3,528.0 L1037.8,528.0 L1039.3,527.9 L1040.8,527.9 L1042.3,527.8 L1043.8,527.7 L1045.3,527.7 L1046.8,527.6 L1048.3,527.6 L1049.8,527.5 L1051.3,527.4 L1052.8,527.4 L1054.3,527.3 L1055.8,527.2 L1057.3,527.2 L1058.8,527.1 L1060.3,527.0 L1061.8,527.0 L1063.3,526.9 L1064.8,526.8 L1066.3,526.8 L1067.8,526.7 L1069.3,526.6 L1070.8,526.6 L1072.3,526.5 L1073.8,526.4 L1075.3,526.3 L1076.8,526.2 L1078.3,526.2 L1079.8,526.1 L1081.3,526.0 L1082.8,525.9 L1084.3,525.8 L1085.8,525.7 L1087.3,525.6 L1088.8,525.5 L1090.3,525.4 L1091.8,525.3 L1093.3,525.2 L1094.8,525.1 L1096.3,525.0 L1097.8,524.9 L1099.3,524.8 L1100.8,524.7 L1102.3,524.5 L1103.8,524.4 L1105.3,524.3 L1106.8,524.1 L1108.3,524.0 L1109.8,523.8 L1111.3,523.7 L1112.8,523.5 L1114.3,523.4 L1115.8,523.2 L1117.3,523.0 L1118.8,522.8 L1120.3,522.6 L1121.8,522.4 L1123.3,522.2 L1124.8,522.0 L1126.3,521.8 L1127.8,521.6 L1129.3,521.3 L1130.8,521.1 L1132.3,520.8 L1133.8,520.5 L1135.3,520.2 L1136.8,519.9 L1138.3,519.6 L1139.8,519.3 L1141.3,518.9 L1142.8,518.6 L1144.3,518.2 L1145.8,517.8 L1147.3,517.4 L1148.8,517.0 L1150.3,516.6 L1151.8,516.1 L1153.3,515.7 L1154.8,515.2 L1156.3,514.6 L1157.8,514.1 L1159.3,513.6 L1160.8,513.0 L1162.3,512.4 L1163.8,511.8 L1165.3,511.1 L1166.8,510.4 L1168.3,509.7 L1169.8,509.0 L1171.3,508.3 L1172.8,507.5 L1174.3,506.7 L1175.8,505.9 L1177.3,505.0 L1178.8,504.1 L1180.3,503.2 L1181.8,502.2 L1183.3,501.3 L1184.8,500.3 L1186.3,499.2 L1187.8,498.2 L1189.3,497.0 L1190.8,495.9 L1192.3,494.7 L1193.8,493.6 L1195.3,492.3 L1196.8,491.1 L1198.3,489.8 L1199.8,488.4 L1201.3,487.1 L1202.8,485.7 L1204.3,484.3 L1205.8,482.8 L1207.3,481.4 L1208.8,479.9 L1210.3,478.3 L1211.8,476.8 L1213.3,475.2 L1214.8,473.6 L1216.3,471.9 L1217.8,470.3 L1219.3,468.6 L1220.8,466.9 L1222.3,465.1 L1223.8,463.4 L1225.3,461.6 L1226.8,459.9 L1228.3,458.1 L1229.8,456.3 L1231.3,454.4 L1232.8,452.6 L1234.3,450.8 L1235.8,449.0 L1237.3,447.1 L1238.8,445.3 L1240.3,443.5 L1241.8,441.7 L1243.3,439.8 L1244.8,438.0 L1246.3,436.3 L1247.8,434.5 L1249.3,432.7 L1250.8,431.0 L1252.3,429.3 L1253.8,427.6 L1255.3,426.0 L1256.8,424.4 L1258.3,422.8 L1259.8,421.3 L1261.3,419.9 L1262.8,418.4 L1264.3,417.1 L1265.8,415.8 L1267.3,414.5 L1268.8,413.3 L1270.3,412.2 L1271.8,411.2 L1273.3,410.2 L1274.8,409.3 L1276.3,408.5 L1277.8,407.7 L1279.3,407.1 L1280.8,406.5 L1282.3,406.0 L1283.8,405.7 L1285.3,405.4 L1286.8,405.1 L1288.3,405.0 L1289.8,405.0 L1291.3,405.1 L1292.8,405.3 L1294.3,405.6 L1295.8,406.0 L1297.3,406.5 L1298.8,407.2 L1300.3,407.9 L1301.8,408.7 L1303.3,409.7 L1304.8,410.7 L1306.3,411.8 L1307.8,412.9 L1309.3,414.2 L1310.8,415.5 L1312.3,416.9 L1313.8,418.4 L1315.3,419.9 L1316.8,421.5 L1318.3,423.1 L1319.8,424.7 L1321.3,426.4 L1322.8,428.1 L1324.3,429.9 L1325.8,431.7 L1327.3,433.5 L1328.8,435.3 L1330.3,437.1 L1331.8,438.9 L1333.3,440.8 L1334.8,442.6 L1336.3,444.4 L1337.8,446.3 L1339.3,448.1 L1340.8,449.9 L1342.3,451.7 L1343.8,453.5 L1345.3,455.3 L1346.8,457.1 L1348.3,458.8 L1349.8,460.5 L1351.3,462.2 L1352.8,463.9 L1354.3,465.6 L1355.8,467.2 L1357.3,468.8 L1358.8,470.4 L1360.3,471.9 L1361.8,473.4 L1363.3,474.9 L1364.8,476.3 L1366.3,477.7 L1367.8,479.1 L1369.3,480.5 L1370.8,481.8 L1372.3,483.1 L1373.8,484.3 L1375.3,485.5 L1376.8,486.7 L1378.3,487.9 L1379.8,489.0 L1381.3,490.1 L1382.8,491.1 L1384.3,492.2 L1385.8,493.2 L1387.3,494.1 L1388.8,495.0 L1390.3,495.9 L1391.8,496.8 L1393.3,497.6 L1394.8,498.5 L1396.3,499.2 L1397.8,500.0 L1399.3,500.7 L1400.8,501.4 L1402.3,502.1 L1403.8,502.7 L1405.3,503.4 L1406.8,504.0 L1408.3,504.5 L1409.8,505.1 L1411.3,505.6 L1412.8,506.1 L1414.3,506.6 L1415.8,507.1 L1417.3,507.5 L1418.8,508.0 L1420.3,508.4 L1421.8,508.8 L1423.3,509.1 L1424.8,509.5 L1426.3,509.8 L1427.8,510.2 L1429.3,510.5 L1430.8,510.8 L1432.3,511.1 L1433.8,511.4 L1435.3,511.6 L1436.8,511.9 L1438.3,512.1 L1439.8,512.4 L1441.3,512.6 L1442.8,512.8 L1444.3,513.0 L1445.8,513.2 L1447.3,513.4 L1448.8,513.6 L1450.3,513.8 L1451.8,514.0 L1453.3,514.2 L1454.8,514.4 L1456.3,514.6 L1457.8,514.8 L1459.3,514.9 L1460.8,515.1 L1462.3,515.3 L1463.8,515.4 L1465.3,515.6 L1466.8,515.8 L1468.3,515.9 L1469.8,516.1 L1471.3,516.2 L1472.8,516.4 L1474.3,516.5 L1475.8,516.7 L1477.3,516.8 L1478.8,517.0 L1480.3,517.1 L1481.8,517.3 L1483.3,517.4 L1484.8,517.5 L1486.3,517.7 L1487.8,517.8 L1489.3,518.0 L1490.8,518.1 L1492.3,518.2 L1493.8,518.3 L1495.3,518.5 L1496.8,518.6 L1498.3,518.7 L1499.8,518.9 L1501.3,519.0 L1502.8,519.1 L1504.3,519.2 L1505.8,519.3 L1507.3,519.5 L1508.8,519.6 L1510.3,519.7 L1511.8,519.8 L1513.3,519.9 L1514.8,520.0 L1514.8,521.4 L844.3,534.1 Z" fill="#cab2da" fill-opacity="0.80" stroke="none"/>
<path d="M844.3,533.3 L845.8,533.2 L847.3,533.2 L848.8,533.2 L850.3,533.1 L851.8,533.1 L853.3,533.1 L854.8,533.0 L856.3,533.0 L857.8,533.0 L859.3,532.9 L860.8,532.9 L862.3,532.9 L863.8,532.8 L865.3,532.8 L866.8,532.8 L868.3,532.7 L869.8,532.7 L871.3,532.7 L872.8,532.6 L874.3,532.6 L875.8,532.6 L877.3,532.5 L878.8,532.5 L880.3,532.4 L881.8,532.4 L883.3,532.4 L884.8,532.3 L886.3,532.3 L887.8,532.3 L889.3,532.2 L890.8,532.2 L892.3,532.2 L893.8,532.1 L895.3,532.1 L896.8,532.1 L898.3,532.0 L899.8,532.0 L901.3,531.9 L902.8,531.9 L904.3,531.9 L905.8,531.8 L907.3,531.8 L908.8,531.8 L910.3,531.7 L911.8,531.7 L913.3,531.7 L914.8,531.6 L916.3,531.6 L917.8,531.5 L919.3,531.5 L920.8,531.5 L922.3,531.4 L923.8,531.4 L925.3,531.4 L926.8,531.3 L928.3,531.3 L929.8,531.2 L931.3,531.2 L932.8,531.2 L934.3,531.1 L935.8,531.1 L937.3,531.0 L938.8,531.0 L940.3,531.0 L941.8,530.9 L943.3,530.9 L944.8,530.8 L946.3,530.8 L947.8,530.8 L949.3,530.7 L950.8,530.7 L952.3,530.6 L953.8,530.6 L955.3,530.6 L956.8,530.5 L958.3,530.5 L959.8,530.4 L961.3,530.4 L962.8,530.4 L964.3,530.3 L965.8,530.3 L967.3,530.2 L968.8,530.2 L970.3,530.1 L971.8,530.1 L973.3,530.1 L974.8,530.0 L976.3,530.0 L977.8,529.9 L979.3,529.9 L980.8,529.8 L982.3,529.8 L983.8,529.8 L985.3,529.7 L986.8,529.7 L988.3,529.6 L989.8,529.6 L991.3,529.5 L992.8,529.5 L994.3,529.4 L995.8,529.4 L997.3,529.3 L998.8,529.3 L1000.3,529.3 L1001.8,529.2 L1003.3,529.2 L1004.8,529.1 L1006.3,529.1 L1007.8,529.0 L1009.3,529.0 L1010.8,528.9 L1012.3,528.9 L1013.8,528.8 L1015.3,528.8 L1016.8,528.7 L1018.3,528.7 L1019.8,528.6 L1021.3,528.6 L1022.8,528.5 L1024.3,528.5 L1025.8,528.4 L1027.3,528.4 L1028.8,528.3 L1030.3,528.2 L1031.8,528.2 L1033.3,528.1 L1034.8,528.1 L1036.3,528.0 L1037.8,528.0 L1039.3,527.9 L1040.8,527.9 L1042.3,527.8 L1043.8,527.7 L1045.3,527.7 L1046.8,527.6 L1048.3,527.6 L1049.8,527.5 L1051.3,527.4 L1052.8,527.4 L1054.3,527.3 L1055.8,527.2 L1057.3,527.2 L1058.8,527.1 L1060.3,527.0 L1061.8,527.0 L1063.3,526.9 L1064.8,526.8 L1066.3,526.8 L1067.8,526.7 L1069.3,526.6 L1070.8,526.6 L1072.3,526.5 L1073.8,526.4 L1075.3,526.3 L1076.8,526.2 L1078.3,526.2 L1079.8,526.1 L1081.3,526.0 L1082.8,525.9 L1084.3,525.8 L1085.8,525.7 L1087.3,525.6 L1088.8,525.5 L1090.3,525.4 L1091.8,525.3 L1093.3,525.2 L1094.8,525.1 L1096.3,525.0 L1097.8,524.9 L1099.3,524.8 L1100.8,524.7 L1102.3,524.5 L1103.8,524.4 L1105.3,524.3 L1106.8,524.1 L1108.3,524.0 L1109.8,523.8 L1111.3,523.7 L1112.8,523.5 L1114.3,523.4 L1115.8,523.2 L1117.3,523.0 L1118.8,522.8 L1120.3,522.6 L1121.8,522.4 L1123.3,522.2 L1124.8,522.0 L1126.3,521.8 L1127.8,521.6 L1129.3,521.3 L1130.8,521.1 L1132.3,520.8 L1133.8,520.5 L1135.3,520.2 L1136.8,519.9 L1138.3,519.6 L1139.8,519.3 L1141.3,518.9 L1142.8,518.6 L1144.3,518.2 L1145.8,517.8 L1147.3,517.4 L1148.8,517.0 L1150.3,516.6 L1151.8,516.1 L1153.3,515.7 L1154.8,515.2 L1156.3,514.6 L1157.8,514.1 L1159.3,513.6 L1160.8,513.0 L1162.3,512.4 L1163.8,511.8 L1165.3,511.1 L1166.8,510.4 L1168.3,509.7 L1169.8,509.0 L1171.3,508.3 L1172.8,507.5 L1174.3,506.7 L1175.8,505.9 L1177.3,505.0 L1178.8,504.1 L1180.3,503.2 L1181.8,502.2 L1183.3,501.3 L1184.8,500.3 L1186.3,499.2 L1187.8,498.2 L1189.3,497.0 L1190.8,495.9 L1192.3,494.7 L1193.8,493.6 L1195.3,492.3 L1196.8,491.1 L1198.3,489.8 L1199.8,488.4 L1201.3,487.1 L1202.8,485.7 L1204.3,484.3 L1205.8,482.8 L1207.3,481.4 L1208.8,479.9 L1210.3,478.3 L1211.8,476.8 L1213.3,475.2 L1214.8,473.6 L1216.3,471.9 L1217.8,470.3 L1219.3,468.6 L1220.8,466.9 L1222.3,465.1 L1223.8,463.4 L1225.3,461.6 L1226.8,459.9 L1228.3,458.1 L1229.8,456.3 L1231.3,454.4 L1232.8,452.6 L1234.3,450.8 L1235.8,449.0 L1237.3,447.1 L1238.8,445.3 L1240.3,443.5 L1241.8,441.7 L1243.3,439.8 L1244.8,438.0 L1246.3,436.3 L1247.8,434.5 L1249.3,432.7 L1250.8,431.0 L1252.3,429.3 L1253.8,427.6 L1255.3,426.0 L1256.8,424.4 L1258.3,422.8 L1259.8,421.3 L1261.3,419.9 L1262.8,418.4 L1264.3,417.1 L1265.8,415.8 L1267.3,414.5 L1268.8,413.3 L1270.3,412.2 L1271.8,411.2 L1273.3,410.2 L1274.8,409.3 L1276.3,408.5 L1277.8,407.7 L1279.3,407.1 L1280.8,406.5 L1282.3,406.0 L1283.8,405.7 L1285.3,405.4 L1286.8,405.1 L1288.3,405.0 L1289.8,405.0 L1291.3,405.1 L1292.8,405.3 L1294.3,405.6 L1295.8,406.0 L1297.3,406.5 L1298.8,407.2 L1300.3,407.9 L1301.8,408.7 L1303.3,409.7 L1304.8,410.7 L1306.3,411.8 L1307.8,412.9 L1309.3,414.2 L1310.8,415.5 L1312.3,416.9 L1313.8,418.4 L1315.3,419.9 L1316.8,421.5 L1318.3,423.1 L1319.8,424.7 L1321.3,426.4 L1322.8,428.1 L1324.3,429.9 L1325.8,431.7 L1327.3,433.5 L1328.8,435.3 L1330.3,437.1 L1331.8,438.9 L1333.3,440.8 L1334.8,442.6 L1336.3,444.4 L1337.8,446.3 L1339.3,448.1 L1340.8,449.9 L1342.3,451.7 L1343.8,453.5 L1345.3,455.3 L1346.8,457.1 L1348.3,458.8 L1349.8,460.5 L1351.3,462.2 L1352.8,463.9 L1354.3,465.6 L1355.8,467.2 L1357.3,468.8 L1358.8,470.4 L1360.3,471.9 L1361.8,473.4 L1363.3,474.9 L1364.8,476.3 L1366.3,477.7 L1367.8,479.1 L1369.3,480.5 L1370.8,481.8 L1372.3,483.1 L1373.8,484.3 L1375.3,485.5 L1376.8,486.7 L1378.3,487.9 L1379.8,489.0 L1381.3,490.1 L1382.8,491.1 L1384.3,492.2 L1385.8,493.2 L1387.3,494.1 L1388.8,495.0 L1390.3,495.9 L1391.8,496.8 L1393.3,497.6 L1394.8,498.5 L1396.3,499.2 L1397.8,500.0 L1399.3,500.7 L1400.8,501.4 L1402.3,502.1 L1403.8,502.7 L1405.3,503.4 L1406.8,504.0 L1408.3,504.5 L1409.8,505.1 L1411.3,505.6 L1412.8,506.1 L1414.3,506.6 L1415.8,507.1 L1417.3,507.5 L1418.8,508.0 L1420.3,508.4 L1421.8,508.8 L1423.3,509.1 L1424.8,509.5 L1426.3,509.8 L1427.8,510.2 L1429.3,510.5 L1430.8,510.8 L1432.3,511.1 L1433.8,511.4 L1435.3,511.6 L1436.8,511.9 L1438.3,512.1 L1439.8,512.4 L1441.3,512.6 L1442.8,512.8 L1444.3,513.0 L1445.8,513.2 L1447.3,513.4 L1448.8,513.6 L1450.3,513.8 L1451.8,514.0 L1453.3,514.2 L1454.8,514.4 L1456.3,514.6 L1457.8,514.8 L1459.3,514.9 L1460.8,515.1 L1462.3,515.3 L1463.8,515.4 L1465.3,515.6 L1466.8,515.8 L1468.3,515.9 L1469.8,516.1 L1471.3,516.2 L1472.8,516.4 L1474.3,516.5 L1475.8,516.7 L1477.3,516.8 L1478.8,517.0 L1480.3,517.1 L1481.8,517.3 L1483.3,517.4 L1484.8,517.5 L1486.3,517.7 L1487.8,517.8 L1489.3,518.0 L1490.8,518.1 L1492.3,518.2 L1493.8,518.3 L1495.3,518.5 L1496.8,518.6 L1498.3,518.7 L1499.8,518.9 L1501.3,519.0 L1502.8,519.1 L1504.3,519.2 L1505.8,519.3 L1507.3,519.5 L1508.8,519.6 L1510.3,519.7 L1511.8,519.8 L1513.3,519.9 L1514.8,520.0" fill="none" stroke="#8558b8" stroke-width="6.6" stroke-linejoin="round" stroke-linecap="butt"/>
<path d="M968.8,531.5 L970.3,531.4 L971.8,531.3 L973.3,531.3 L974.8,531.2 L976.3,531.1 L977.8,531.0 L979.3,531.0 L980.8,530.9 L982.3,530.8 L983.8,530.7 L985.3,530.6 L986.8,530.4 L988.3,530.3 L989.8,530.2 L991.3,530.0 L992.8,529.9 L994.3,529.7 L995.8,529.5 L997.3,529.4 L998.8,529.2 L1000.3,528.9 L1001.8,528.7 L1003.3,528.5 L1004.8,528.2 L1006.3,527.9 L1007.8,527.6 L1009.3,527.3 L1010.8,527.0 L1012.3,526.6 L1013.8,526.2 L1015.3,525.8 L1016.8,525.4 L1018.3,524.9 L1019.8,524.4 L1021.3,523.9 L1022.8,523.4 L1024.3,522.8 L1025.8,522.1 L1027.3,521.5 L1028.8,520.8 L1030.3,520.0 L1031.8,519.3 L1033.3,518.4 L1034.8,517.6 L1036.3,516.7 L1037.8,515.7 L1039.3,514.7 L1040.8,513.7 L1042.3,512.6 L1043.8,511.4 L1045.3,510.2 L1046.8,508.9 L1048.3,507.6 L1049.8,506.2 L1051.3,504.8 L1052.8,503.3 L1054.3,501.7 L1055.8,500.1 L1057.3,498.4 L1058.8,496.7 L1060.3,494.9 L1061.8,493.0 L1063.3,491.1 L1064.8,489.2 L1066.3,487.1 L1067.8,485.0 L1069.3,482.9 L1070.8,480.7 L1072.3,478.4 L1073.8,476.1 L1075.3,473.7 L1076.8,471.3 L1078.3,468.8 L1079.8,466.3 L1081.3,463.8 L1082.8,461.2 L1084.3,458.5 L1085.8,455.9 L1087.3,453.2 L1088.8,450.5 L1090.3,447.7 L1091.8,445.0 L1093.3,442.2 L1094.8,439.4 L1096.3,436.6 L1097.8,433.9 L1099.3,431.1 L1100.8,428.3 L1102.3,425.6 L1103.8,422.9 L1105.3,420.2 L1106.8,417.5 L1108.3,414.9 L1109.8,412.3 L1111.3,409.8 L1112.8,407.3 L1114.3,404.9 L1115.8,402.6 L1117.3,400.3 L1118.8,398.1 L1120.3,396.0 L1121.8,393.9 L1123.3,392.0 L1124.8,390.2 L1126.3,388.4 L1127.8,386.8 L1129.3,385.3 L1130.8,383.9 L1132.3,382.6 L1133.8,381.5 L1135.3,380.4 L1136.8,379.5 L1138.3,378.7 L1139.8,378.1 L1141.3,377.6 L1142.8,377.2 L1144.3,376.9 L1145.8,376.8 L1147.3,376.8 L1148.8,377.0 L1150.3,377.3 L1151.8,377.7 L1153.3,378.3 L1154.8,379.0 L1156.3,379.9 L1157.8,380.9 L1159.3,382.0 L1160.8,383.2 L1162.3,384.6 L1163.8,386.0 L1165.3,387.6 L1166.8,389.3 L1168.3,391.1 L1169.8,393.1 L1171.3,395.1 L1172.8,397.2 L1174.3,399.3 L1175.8,401.6 L1177.3,403.9 L1178.8,406.3 L1180.3,408.8 L1181.8,411.3 L1183.3,413.9 L1184.8,416.5 L1186.3,419.2 L1187.8,421.8 L1189.3,424.6 L1190.8,427.3 L1192.3,430.1 L1193.8,432.8 L1195.3,435.6 L1196.8,438.4 L1198.3,441.1 L1199.8,443.9 L1201.3,446.6 L1202.8,449.3 L1204.3,452.0 L1205.8,454.7 L1207.3,457.4 L1208.8,460.0 L1210.3,462.5 L1211.8,465.0 L1213.3,467.5 L1214.8,469.9 L1216.3,472.3 L1217.8,474.6 L1219.3,476.9 L1220.8,479.1 L1222.3,481.3 L1223.8,483.4 L1225.3,485.4 L1226.8,487.4 L1228.3,489.3 L1229.8,491.2 L1231.3,492.9 L1232.8,494.7 L1234.3,496.3 L1235.8,497.9 L1237.3,499.5 L1238.8,500.9 L1240.3,502.4 L1241.8,503.7 L1243.3,505.0 L1244.8,506.3 L1246.3,507.4 L1247.8,508.6 L1249.3,509.6 L1250.8,510.7 L1252.3,511.6 L1253.8,512.5 L1255.3,513.4 L1256.8,514.2 L1258.3,515.0 L1259.8,515.7 L1261.3,516.4 L1262.8,517.1 L1264.3,517.7 L1265.8,518.3 L1267.3,518.8 L1268.8,519.3 L1270.3,519.8 L1271.8,520.2 L1273.3,520.6 L1274.8,521.0 L1276.3,521.4 L1277.8,521.7 L1279.3,522.0 L1280.8,522.3 L1282.3,522.5 L1283.8,522.8 L1285.3,523.0 L1286.8,523.2 L1288.3,523.4 L1289.8,523.5 L1291.3,523.7 L1292.8,523.8 L1294.3,524.0 L1295.8,524.1 L1297.3,524.2 L1298.8,524.3 L1300.3,524.4 L1301.8,524.4 L1303.3,524.5 L1304.8,524.6 L1306.3,524.6 L1307.8,524.7 L1309.3,524.7 L1310.8,524.7 L1312.3,524.8 L1313.8,524.8 L1315.3,524.8 L1316.8,524.8 L1318.3,524.8 L1319.8,524.8 L1321.3,524.8 L1321.3,525.1 L968.8,531.8 Z" fill="#b6dd88" fill-opacity="0.80" stroke="none"/>
<path d="M968.8,531.5 L970.3,531.4 L971.8,531.3 L973.3,531.3 L974.8,531.2 L976.3,531.1 L977.8,531.0 L979.3,531.0 L980.8,530.9 L982.3,530.8 L983.8,530.7 L985.3,530.6 L986.8,530.4 L988.3,530.3 L989.8,530.2 L991.3,530.0 L992.8,529.9 L994.3,529.7 L995.8,529.5 L997.3,529.4 L998.8,529.2 L1000.3,528.9 L1001.8,528.7 L1003.3,528.5 L1004.8,528.2 L1006.3,527.9 L1007.8,527.6 L1009.3,527.3 L1010.8,527.0 L1012.3,526.6 L1013.8,526.2 L1015.3,525.8 L1016.8,525.4 L1018.3,524.9 L1019.8,524.4 L1021.3,523.9 L1022.8,523.4 L1024.3,522.8 L1025.8,522.1 L1027.3,521.5 L1028.8,520.8 L1030.3,520.0 L1031.8,519.3 L1033.3,518.4 L1034.8,517.6 L1036.3,516.7 L1037.8,515.7 L1039.3,514.7 L1040.8,513.7 L1042.3,512.6 L1043.8,511.4 L1045.3,510.2 L1046.8,508.9 L1048.3,507.6 L1049.8,506.2 L1051.3,504.8 L1052.8,503.3 L1054.3,501.7 L1055.8,500.1 L1057.3,498.4 L1058.8,496.7 L1060.3,494.9 L1061.8,493.0 L1063.3,491.1 L1064.8,489.2 L1066.3,487.1 L1067.8,485.0 L1069.3,482.9 L1070.8,480.7 L1072.3,478.4 L1073.8,476.1 L1075.3,473.7 L1076.8,471.3 L1078.3,468.8 L1079.8,466.3 L1081.3,463.8 L1082.8,461.2 L1084.3,458.5 L1085.8,455.9 L1087.3,453.2 L1088.8,450.5 L1090.3,447.7 L1091.8,445.0 L1093.3,442.2 L1094.8,439.4 L1096.3,436.6 L1097.8,433.9 L1099.3,431.1 L1100.8,428.3 L1102.3,425.6 L1103.8,422.9 L1105.3,420.2 L1106.8,417.5 L1108.3,414.9 L1109.8,412.3 L1111.3,409.8 L1112.8,407.3 L1114.3,404.9 L1115.8,402.6 L1117.3,400.3 L1118.8,398.1 L1120.3,396.0 L1121.8,393.9 L1123.3,392.0 L1124.8,390.2 L1126.3,388.4 L1127.8,386.8 L1129.3,385.3 L1130.8,383.9 L1132.3,382.6 L1133.8,381.5 L1135.3,380.4 L1136.8,379.5 L1138.3,378.7 L1139.8,378.1 L1141.3,377.6 L1142.8,377.2 L1144.3,376.9 L1145.8,376.8 L1147.3,376.8 L1148.8,377.0 L1150.3,377.3 L1151.8,377.7 L1153.3,378.3 L1154.8,379.0 L1156.3,379.9 L1157.8,380.9 L1159.3,382.0 L1160.8,383.2 L1162.3,384.6 L1163.8,386.0 L1165.3,387.6 L1166.8,389.3 L1168.3,391.1 L1169.8,393.1 L1171.3,395.1 L1172.8,397.2 L1174.3,399.3 L1175.8,401.6 L1177.3,403.9 L1178.8,406.3 L1180.3,408.8 L1181.8,411.3 L1183.3,413.9 L1184.8,416.5 L1186.3,419.2 L1187.8,421.8 L1189.3,424.6 L1190.8,427.3 L1192.3,430.1 L1193.8,432.8 L1195.3,435.6 L1196.8,438.4 L1198.3,441.1 L1199.8,443.9 L1201.3,446.6 L1202.8,449.3 L1204.3,452.0 L1205.8,454.7 L1207.3,457.4 L1208.8,460.0 L1210.3,462.5 L1211.8,465.0 L1213.3,467.5 L1214.8,469.9 L1216.3,472.3 L1217.8,474.6 L1219.3,476.9 L1220.8,479.1 L1222.3,481.3 L1223.8,483.4 L1225.3,485.4 L1226.8,487.4 L1228.3,489.3 L1229.8,491.2 L1231.3,492.9 L1232.8,494.7 L1234.3,496.3 L1235.8,497.9 L1237.3,499.5 L1238.8,500.9 L1240.3,502.4 L1241.8,503.7 L1243.3,505.0 L1244.8,506.3 L1246.3,507.4 L1247.8,508.6 L1249.3,509.6 L1250.8,510.7 L1252.3,511.6 L1253.8,512.5 L1255.3,513.4 L1256.8,514.2 L1258.3,515.0 L1259.8,515.7 L1261.3,516.4 L1262.8,517.1 L1264.3,517.7 L1265.8,518.3 L1267.3,518.8 L1268.8,519.3 L1270.3,519.8 L1271.8,520.2 L1273.3,520.6 L1274.8,521.0 L1276.3,521.4 L1277.8,521.7 L1279.3,522.0 L1280.8,522.3 L1282.3,522.5 L1283.8,522.8 L1285.3,523.0 L1286.8,523.2 L1288.3,523.4 L1289.8,523.5 L1291.3,523.7 L1292.8,523.8 L1294.3,524.0 L1295.8,524.1 L1297.3,524.2 L1298.8,524.3 L1300.3,524.4 L1301.8,524.4 L1303.3,524.5 L1304.8,524.6 L1306.3,524.6 L1307.8,524.7 L1309.3,524.7 L1310.8,524.7 L1312.3,524.8 L1313.8,524.8 L1315.3,524.8 L1316.8,524.8 L1318.3,524.8 L1319.8,524.8 L1321.3,524.8" fill="none" stroke="#4caf4a" stroke-width="6.6" stroke-linejoin="round" stroke-linecap="butt"/>
<path d="M844.3,533.6 L845.8,533.5 L847.3,533.5 L848.8,533.4 L850.3,533.4 L851.8,533.4 L853.3,533.3 L854.8,533.3 L856.3,533.2 L857.8,533.2 L859.3,533.2 L860.8,533.1 L862.3,533.1 L863.8,533.0 L865.3,533.0 L866.8,532.9 L868.3,532.9 L869.8,532.8 L871.3,532.8 L872.8,532.7 L874.3,532.7 L875.8,532.6 L877.3,532.6 L878.8,532.5 L880.3,532.5 L881.8,532.4 L883.3,532.3 L884.8,532.3 L886.3,532.2 L887.8,532.1 L889.3,532.1 L890.8,532.0 L892.3,531.9 L893.8,531.8 L895.3,531.7 L896.8,531.6 L898.3,531.6 L899.8,531.5 L901.3,531.4 L902.8,531.3 L904.3,531.1 L905.8,531.0 L907.3,530.9 L908.8,530.8 L910.3,530.6 L911.8,530.5 L913.3,530.4 L914.8,530.2 L916.3,530.0 L917.8,529.9 L919.3,529.7 L920.8,529.5 L922.3,529.3 L923.8,529.1 L925.3,528.9 L926.8,528.7 L928.3,528.5 L929.8,528.2 L931.3,528.0 L932.8,527.7 L934.3,527.4 L935.8,527.1 L937.3,526.8 L938.8,526.5 L940.3,526.2 L941.8,525.8 L943.3,525.4 L944.8,525.1 L946.3,524.7 L947.8,524.2 L949.3,523.8 L950.8,523.4 L952.3,522.9 L953.8,522.4 L955.3,521.9 L956.8,521.3 L958.3,520.8 L959.8,520.2 L961.3,519.6 L962.8,519.0 L964.3,518.3 L965.8,517.6 L967.3,516.9 L968.8,516.2 L970.3,515.4 L971.8,514.7 L973.3,513.8 L974.8,513.0 L976.3,512.1 L977.8,511.2 L979.3,510.3 L980.8,509.4 L982.3,508.4 L983.8,507.3 L985.3,506.3 L986.8,505.2 L988.3,504.1 L989.8,503.0 L991.3,501.8 L992.8,500.6 L994.3,499.3 L995.8,498.1 L997.3,496.8 L998.8,495.4 L1000.3,494.1 L1001.8,492.7 L1003.3,491.3 L1004.8,489.8 L1006.3,488.3 L1007.8,486.8 L1009.3,485.3 L1010.8,483.7 L1012.3,482.1 L1013.8,480.5 L1015.3,478.8 L1016.8,477.2 L1018.3,475.5 L1019.8,473.7 L1021.3,472.0 L1022.8,470.3 L1024.3,468.5 L1025.8,466.7 L1027.3,464.9 L1028.8,463.0 L1030.3,461.2 L1031.8,459.4 L1033.3,457.5 L1034.8,455.6 L1036.3,453.8 L1037.8,451.9 L1039.3,450.0 L1040.8,448.1 L1042.3,446.3 L1043.8,444.4 L1045.3,442.5 L1046.8,440.7 L1048.3,438.8 L1049.8,437.0 L1051.3,435.2 L1052.8,433.4 L1054.3,431.6 L1055.8,429.9 L1057.3,428.2 L1058.8,426.5 L1060.3,424.8 L1061.8,423.1 L1063.3,421.5 L1064.8,420.0 L1066.3,418.4 L1067.8,417.0 L1069.3,415.5 L1070.8,414.1 L1072.3,412.8 L1073.8,411.5 L1075.3,410.2 L1076.8,409.0 L1078.3,407.9 L1079.8,406.8 L1081.3,405.8 L1082.8,404.8 L1084.3,404.0 L1085.8,403.1 L1087.3,402.4 L1088.8,401.7 L1090.3,401.0 L1091.8,400.5 L1093.3,400.0 L1094.8,399.6 L1096.3,399.3 L1097.8,399.0 L1099.3,398.8 L1100.8,398.7 L1102.3,398.6 L1103.8,398.7 L1105.3,398.7 L1106.8,398.9 L1108.3,399.1 L1109.8,399.4 L1111.3,399.8 L1112.8,400.2 L1114.3,400.7 L1115.8,401.2 L1117.3,401.8 L1118.8,402.5 L1120.3,403.2 L1121.8,404.0 L1123.3,404.8 L1124.8,405.7 L1126.3,406.7 L1127.8,407.7 L1129.3,408.7 L1130.8,409.9 L1132.3,411.0 L1133.8,412.2 L1135.3,413.5 L1136.8,414.7 L1138.3,416.1 L1139.8,417.4 L1141.3,418.8 L1142.8,420.3 L1144.3,421.8 L1145.8,423.3 L1147.3,424.8 L1148.8,426.3 L1150.3,427.9 L1151.8,429.5 L1153.3,431.2 L1154.8,432.8 L1156.3,434.5 L1157.8,436.1 L1159.3,437.8 L1160.8,439.5 L1162.3,441.2 L1163.8,443.0 L1165.3,444.7 L1166.8,446.4 L1168.3,448.1 L1169.8,449.8 L1171.3,451.6 L1172.8,453.3 L1174.3,455.0 L1175.8,456.7 L1177.3,458.4 L1178.8,460.1 L1180.3,461.8 L1181.8,463.4 L1183.3,465.1 L1184.8,466.7 L1186.3,468.3 L1187.8,470.0 L1189.3,471.5 L1190.8,473.1 L1192.3,474.6 L1193.8,476.2 L1195.3,477.7 L1196.8,479.1 L1198.3,480.6 L1199.8,482.0 L1201.3,483.4 L1202.8,484.8 L1204.3,486.1 L1205.8,487.5 L1207.3,488.8 L1208.8,490.0 L1210.3,491.3 L1211.8,492.5 L1213.3,493.7 L1214.8,494.8 L1216.3,496.0 L1217.8,497.1 L1219.3,498.1 L1220.8,499.2 L1222.3,500.2 L1223.8,501.2 L1225.3,502.1 L1226.8,503.1 L1228.3,504.0 L1229.8,504.8 L1231.3,505.7 L1232.8,506.5 L1234.3,507.3 L1235.8,508.1 L1237.3,508.8 L1238.8,509.5 L1240.3,510.2 L1241.8,510.9 L1243.3,511.5 L1244.8,512.2 L1246.3,512.8 L1247.8,513.3 L1249.3,513.9 L1250.8,514.4 L1252.3,514.9 L1253.8,515.4 L1255.3,515.9 L1256.8,516.3 L1258.3,516.8 L1259.8,517.2 L1261.3,517.6 L1262.8,517.9 L1264.3,518.3 L1265.8,518.6 L1267.3,519.0 L1268.8,519.3 L1270.3,519.6 L1271.8,519.8 L1273.3,520.1 L1274.8,520.4 L1276.3,520.6 L1277.8,520.8 L1279.3,521.0 L1280.8,521.2 L1282.3,521.4 L1283.8,521.6 L1285.3,521.8 L1286.8,522.0 L1288.3,522.1 L1289.8,522.2 L1291.3,522.4 L1292.8,522.5 L1294.3,522.6 L1295.8,522.7 L1297.3,522.8 L1298.8,522.9 L1300.3,523.0 L1301.8,523.1 L1303.3,523.2 L1304.8,523.3 L1306.3,523.3 L1307.8,523.4 L1309.3,523.4 L1310.8,523.5 L1312.3,523.5 L1313.8,523.6 L1315.3,523.6 L1316.8,523.7 L1318.3,523.7 L1319.8,523.7 L1321.3,523.7 L1322.8,523.8 L1324.3,523.8 L1325.8,523.8 L1327.3,523.8 L1328.8,523.8 L1330.3,523.8 L1331.8,523.9 L1333.3,523.9 L1334.8,523.9 L1336.3,523.9 L1337.8,523.9 L1339.3,523.9 L1340.8,523.9 L1342.3,523.9 L1343.8,523.8 L1345.3,523.8 L1346.8,523.8 L1348.3,523.8 L1349.8,523.8 L1351.3,523.8 L1352.8,523.8 L1354.3,523.8 L1355.8,523.8 L1357.3,523.8 L1358.8,523.7 L1360.3,523.7 L1361.8,523.7 L1363.3,523.7 L1364.8,523.7 L1366.3,523.7 L1367.8,523.6 L1369.3,523.6 L1370.8,523.6 L1372.3,523.6 L1373.8,523.6 L1375.3,523.5 L1376.8,523.5 L1378.3,523.5 L1379.8,523.5 L1381.3,523.5 L1382.8,523.4 L1384.3,523.4 L1385.8,523.4 L1387.3,523.4 L1388.8,523.3 L1390.3,523.3 L1391.8,523.3 L1393.3,523.3 L1394.8,523.2 L1396.3,523.2 L1397.8,523.2 L1399.3,523.2 L1400.8,523.2 L1402.3,523.1 L1403.8,523.1 L1405.3,523.1 L1406.8,523.1 L1408.3,523.0 L1409.8,523.0 L1411.3,523.0 L1412.8,523.0 L1414.3,522.9 L1415.8,522.9 L1417.3,522.9 L1418.8,522.9 L1420.3,522.8 L1421.8,522.8 L1423.3,522.8 L1424.8,522.8 L1426.3,522.7 L1427.8,522.7 L1429.3,522.7 L1430.8,522.7 L1432.3,522.6 L1433.8,522.6 L1435.3,522.6 L1436.8,522.6 L1438.3,522.5 L1439.8,522.5 L1441.3,522.5 L1442.8,522.5 L1444.3,522.4 L1445.8,522.4 L1447.3,522.4 L1448.8,522.4 L1450.3,522.3 L1451.8,522.3 L1453.3,522.3 L1454.8,522.3 L1456.3,522.2 L1457.8,522.2 L1459.3,522.2 L1460.8,522.2 L1462.3,522.1 L1462.3,522.4 L844.3,534.1 Z" fill="#fbbac0" fill-opacity="0.80" stroke="none"/>
<path d="M844.3,533.6 L845.8,533.5 L847.3,533.5 L848.8,533.4 L850.3,533.4 L851.8,533.4 L853.3,533.3 L854.8,533.3 L856.3,533.2 L857.8,533.2 L859.3,533.2 L860.8,533.1 L862.3,533.1 L863.8,533.0 L865.3,533.0 L866.8,532.9 L868.3,532.9 L869.8,532.8 L871.3,532.8 L872.8,532.7 L874.3,532.7 L875.8,532.6 L877.3,532.6 L878.8,532.5 L880.3,532.5 L881.8,532.4 L883.3,532.3 L884.8,532.3 L886.3,532.2 L887.8,532.1 L889.3,532.1 L890.8,532.0 L892.3,531.9 L893.8,531.8 L895.3,531.7 L896.8,531.6 L898.3,531.6 L899.8,531.5 L901.3,531.4 L902.8,531.3 L904.3,531.1 L905.8,531.0 L907.3,530.9 L908.8,530.8 L910.3,530.6 L911.8,530.5 L913.3,530.4 L914.8,530.2 L916.3,530.0 L917.8,529.9 L919.3,529.7 L920.8,529.5 L922.3,529.3 L923.8,529.1 L925.3,528.9 L926.8,528.7 L928.3,528.5 L929.8,528.2 L931.3,528.0 L932.8,527.7 L934.3,527.4 L935.8,527.1 L937.3,526.8 L938.8,526.5 L940.3,526.2 L941.8,525.8 L943.3,525.4 L944.8,525.1 L946.3,524.7 L947.8,524.2 L949.3,523.8 L950.8,523.4 L952.3,522.9 L953.8,522.4 L955.3,521.9 L956.8,521.3 L958.3,520.8 L959.8,520.2 L961.3,519.6 L962.8,519.0 L964.3,518.3 L965.8,517.6 L967.3,516.9 L968.8,516.2 L970.3,515.4 L971.8,514.7 L973.3,513.8 L974.8,513.0 L976.3,512.1 L977.8,511.2 L979.3,510.3 L980.8,509.4 L982.3,508.4 L983.8,507.3 L985.3,506.3 L986.8,505.2 L988.3,504.1 L989.8,503.0 L991.3,501.8 L992.8,500.6 L994.3,499.3 L995.8,498.1 L997.3,496.8 L998.8,495.4 L1000.3,494.1 L1001.8,492.7 L1003.3,491.3 L1004.8,489.8 L1006.3,488.3 L1007.8,486.8 L1009.3,485.3 L1010.8,483.7 L1012.3,482.1 L1013.8,480.5 L1015.3,478.8 L1016.8,477.2 L1018.3,475.5 L1019.8,473.7 L1021.3,472.0 L1022.8,470.3 L1024.3,468.5 L1025.8,466.7 L1027.3,464.9 L1028.8,463.0 L1030.3,461.2 L1031.8,459.4 L1033.3,457.5 L1034.8,455.6 L1036.3,453.8 L1037.8,451.9 L1039.3,450.0 L1040.8,448.1 L1042.3,446.3 L1043.8,444.4 L1045.3,442.5 L1046.8,440.7 L1048.3,438.8 L1049.8,437.0 L1051.3,435.2 L1052.8,433.4 L1054.3,431.6 L1055.8,429.9 L1057.3,428.2 L1058.8,426.5 L1060.3,424.8 L1061.8,423.1 L1063.3,421.5 L1064.8,420.0 L1066.3,418.4 L1067.8,417.0 L1069.3,415.5 L1070.8,414.1 L1072.3,412.8 L1073.8,411.5 L1075.3,410.2 L1076.8,409.0 L1078.3,407.9 L1079.8,406.8 L1081.3,405.8 L1082.8,404.8 L1084.3,404.0 L1085.8,403.1 L1087.3,402.4 L1088.8,401.7 L1090.3,401.0 L1091.8,400.5 L1093.3,400.0 L1094.8,399.6 L1096.3,399.3 L1097.8,399.0 L1099.3,398.8 L1100.8,398.7 L1102.3,398.6 L1103.8,398.7 L1105.3,398.7 L1106.8,398.9 L1108.3,399.1 L1109.8,399.4 L1111.3,399.8 L1112.8,400.2 L1114.3,400.7 L1115.8,401.2 L1117.3,401.8 L1118.8,402.5 L1120.3,403.2 L1121.8,404.0 L1123.3,404.8 L1124.8,405.7 L1126.3,406.7 L1127.8,407.7 L1129.3,408.7 L1130.8,409.9 L1132.3,411.0 L1133.8,412.2 L1135.3,413.5 L1136.8,414.7 L1138.3,416.1 L1139.8,417.4 L1141.3,418.8 L1142.8,420.3 L1144.3,421.8 L1145.8,423.3 L1147.3,424.8 L1148.8,426.3 L1150.3,427.9 L1151.8,429.5 L1153.3,431.2 L1154.8,432.8 L1156.3,434.5 L1157.8,436.1 L1159.3,437.8 L1160.8,439.5 L1162.3,441.2 L1163.8,443.0 L1165.3,444.7 L1166.8,446.4 L1168.3,448.1 L1169.8,449.8 L1171.3,451.6 L1172.8,453.3 L1174.3,455.0 L1175.8,456.7 L1177.3,458.4 L1178.8,460.1 L1180.3,461.8 L1181.8,463.4 L1183.3,465.1 L1184.8,466.7 L1186.3,468.3 L1187.8,470.0 L1189.3,471.5 L1190.8,473.1 L1192.3,474.6 L1193.8,476.2 L1195.3,477.7 L1196.8,479.1 L1198.3,480.6 L1199.8,482.0 L1201.3,483.4 L1202.8,484.8 L1204.3,486.1 L1205.8,487.5 L1207.3,488.8 L1208.8,490.0 L1210.3,491.3 L1211.8,492.5 L1213.3,493.7 L1214.8,494.8 L1216.3,496.0 L1217.8,497.1 L1219.3,498.1 L1220.8,499.2 L1222.3,500.2 L1223.8,501.2 L1225.3,502.1 L1226.8,503.1 L1228.3,504.0 L1229.8,504.8 L1231.3,505.7 L1232.8,506.5 L1234.3,507.3 L1235.8,508.1 L1237.3,508.8 L1238.8,509.5 L1240.3,510.2 L1241.8,510.9 L1243.3,511.5 L1244.8,512.2 L1246.3,512.8 L1247.8,513.3 L1249.3,513.9 L1250.8,514.4 L1252.3,514.9 L1253.8,515.4 L1255.3,515.9 L1256.8,516.3 L1258.3,516.8 L1259.8,517.2 L1261.3,517.6 L1262.8,517.9 L1264.3,518.3 L1265.8,518.6 L1267.3,519.0 L1268.8,519.3 L1270.3,519.6 L1271.8,519.8 L1273.3,520.1 L1274.8,520.4 L1276.3,520.6 L1277.8,520.8 L1279.3,521.0 L1280.8,521.2 L1282.3,521.4 L1283.8,521.6 L1285.3,521.8 L1286.8,522.0 L1288.3,522.1 L1289.8,522.2 L1291.3,522.4 L1292.8,522.5 L1294.3,522.6 L1295.8,522.7 L1297.3,522.8 L1298.8,522.9 L1300.3,523.0 L1301.8,523.1 L1303.3,523.2 L1304.8,523.3 L1306.3,523.3 L1307.8,523.4 L1309.3,523.4 L1310.8,523.5 L1312.3,523.5 L1313.8,523.6 L1315.3,523.6 L1316.8,523.7 L1318.3,523.7 L1319.8,523.7 L1321.3,523.7 L1322.8,523.8 L1324.3,523.8 L1325.8,523.8 L1327.3,523.8 L1328.8,523.8 L1330.3,523.8 L1331.8,523.9 L1333.3,523.9 L1334.8,523.9 L1336.3,523.9 L1337.8,523.9 L1339.3,523.9 L1340.8,523.9 L1342.3,523.9 L1343.8,523.8 L1345.3,523.8 L1346.8,523.8 L1348.3,523.8 L1349.8,523.8 L1351.3,523.8 L1352.8,523.8 L1354.3,523.8 L1355.8,523.8 L1357.3,523.8 L1358.8,523.7 L1360.3,523.7 L1361.8,523.7 L1363.3,523.7 L1364.8,523.7 L1366.3,523.7 L1367.8,523.6 L1369.3,523.6 L1370.8,523.6 L1372.3,523.6 L1373.8,523.6 L1375.3,523.5 L1376.8,523.5 L1378.3,523.5 L1379.8,523.5 L1381.3,523.5 L1382.8,523.4 L1384.3,523.4 L1385.8,523.4 L1387.3,523.4 L1388.8,523.3 L1390.3,523.3 L1391.8,523.3 L1393.3,523.3 L1394.8,523.2 L1396.3,523.2 L1397.8,523.2 L1399.3,523.2 L1400.8,523.2 L1402.3,523.1 L1403.8,523.1 L1405.3,523.1 L1406.8,523.1 L1408.3,523.0 L1409.8,523.0 L1411.3,523.0 L1412.8,523.0 L1414.3,522.9 L1415.8,522.9 L1417.3,522.9 L1418.8,522.9 L1420.3,522.8 L1421.8,522.8 L1423.3,522.8 L1424.8,522.8 L1426.3,522.7 L1427.8,522.7 L1429.3,522.7 L1430.8,522.7 L1432.3,522.6 L1433.8,522.6 L1435.3,522.6 L1436.8,522.6 L1438.3,522.5 L1439.8,522.5 L1441.3,522.5 L1442.8,522.5 L1444.3,522.4 L1445.8,522.4 L1447.3,522.4 L1448.8,522.4 L1450.3,522.3 L1451.8,522.3 L1453.3,522.3 L1454.8,522.3 L1456.3,522.2 L1457.8,522.2 L1459.3,522.2 L1460.8,522.2 L1462.3,522.1" fill="none" stroke="#ee2244" stroke-width="6.6" stroke-linejoin="round" stroke-linecap="butt"/>
<path d="M844.3,534.1 L845.8,534.1 L847.3,534.0 L848.8,534.0 L850.3,534.0 L851.8,534.0 L853.3,533.9 L854.8,533.9 L856.3,533.9 L857.8,533.9 L859.3,533.8 L860.8,533.8 L862.3,533.8 L863.8,533.7 L865.3,533.7 L866.8,533.7 L868.3,533.7 L869.8,533.6 L871.3,533.6 L872.8,533.6 L874.3,533.5 L875.8,533.5 L877.3,533.5 L878.8,533.5 L880.3,533.4 L881.8,533.4 L883.3,533.4 L884.8,533.3 L886.3,533.3 L887.8,533.3 L889.3,533.3 L890.8,533.2 L892.3,533.2 L893.8,533.2 L895.3,533.1 L896.8,533.1 L898.3,533.1 L899.8,533.1 L901.3,533.0 L902.8,533.0 L904.3,533.0 L905.8,532.9 L907.3,532.9 L908.8,532.9 L910.3,532.9 L911.8,532.8 L913.3,532.8 L914.8,532.8 L916.3,532.7 L917.8,532.7 L919.3,532.7 L920.8,532.7 L922.3,532.6 L923.8,532.6 L925.3,532.6 L926.8,532.5 L928.3,532.5 L929.8,532.5 L931.3,532.5 L932.8,532.4 L934.3,532.4 L935.8,532.4 L937.3,532.3 L938.8,532.3 L940.3,532.3 L941.8,532.3 L943.3,532.2 L944.8,532.2 L946.3,532.2 L947.8,532.1 L949.3,532.1 L950.8,532.1 L952.3,532.1 L953.8,532.0 L955.3,532.0 L956.8,532.0 L958.3,532.0 L959.8,531.9 L961.3,531.9 L962.8,531.9 L964.3,531.8 L965.8,531.8 L967.3,531.8 L968.8,531.8 L970.3,531.7 L971.8,531.7 L973.3,531.7 L974.8,531.6 L976.3,531.6 L977.8,531.6 L979.3,531.6 L980.8,531.5 L982.3,531.5 L983.8,531.5 L985.3,531.4 L986.8,531.4 L988.3,531.4 L989.8,531.4 L991.3,531.3 L992.8,531.3 L994.3,531.3 L995.8,531.2 L997.3,531.2 L998.8,531.2 L1000.3,531.2 L1001.8,531.1 L1003.3,531.1 L1004.8,531.1 L1006.3,531.0 L1007.8,531.0 L1009.3,531.0 L1010.8,531.0 L1012.3,530.9 L1013.8,530.9 L1015.3,530.9 L1016.8,530.8 L1018.3,530.8 L1019.8,530.8 L1021.3,530.8 L1022.8,530.7 L1024.3,530.7 L1025.8,530.7 L1027.3,530.6 L1028.8,530.6 L1030.3,530.6 L1031.8,530.6 L1033.3,530.5 L1034.8,530.5 L1036.3,530.5 L1037.8,530.4 L1039.3,530.4 L1040.8,530.4 L1042.3,530.4 L1043.8,530.3 L1045.3,530.3 L1046.8,530.3 L1048.3,530.3 L1049.8,530.2 L1051.3,530.2 L1052.8,530.2 L1054.3,530.1 L1055.8,530.1 L1057.3,530.1 L1058.8,530.1 L1060.3,530.0 L1061.8,530.0 L1063.3,530.0 L1064.8,529.9 L1066.3,529.9 L1067.8,529.9 L1069.3,529.9 L1070.8,529.8 L1072.3,529.8 L1073.8,529.8 L1075.3,529.7 L1076.8,529.7 L1078.3,529.7 L1079.8,529.7 L1081.3,529.6 L1082.8,529.6 L1084.3,529.6 L1085.8,529.5 L1087.3,529.5 L1088.8,529.5 L1090.3,529.5 L1091.8,529.4 L1093.3,529.4 L1094.8,529.4 L1096.3,529.3 L1097.8,529.3 L1099.3,529.3 L1100.8,529.3 L1102.3,529.2 L1103.8,529.2 L1105.3,529.2 L1106.8,529.1 L1108.3,529.1 L1109.8,529.1 L1111.3,529.1 L1112.8,529.0 L1114.3,529.0 L1115.8,529.0 L1117.3,528.9 L1118.8,528.9 L1120.3,528.9 L1121.8,528.9 L1123.3,528.8 L1124.8,528.8 L1126.3,528.8 L1127.8,528.7 L1129.3,528.7 L1130.8,528.7 L1132.3,528.7 L1133.8,528.6 L1135.3,528.6 L1136.8,528.6 L1138.3,528.5 L1139.8,528.5 L1141.3,528.5 L1142.8,528.5 L1144.3,528.4 L1145.8,528.4 L1147.3,528.4 L1148.8,528.4 L1150.3,528.3 L1151.8,528.3 L1153.3,528.3 L1154.8,528.2 L1156.3,528.2 L1157.8,528.2 L1159.3,528.2 L1160.8,528.1 L1162.3,528.1 L1163.8,528.1 L1165.3,528.0 L1166.8,528.0 L1168.3,528.0 L1169.8,528.0 L1171.3,527.9 L1172.8,527.9 L1174.3,527.9 L1175.8,527.8 L1177.3,527.8 L1178.8,527.8 L1180.3,527.8 L1181.8,527.7 L1183.3,527.7 L1184.8,527.7 L1186.3,527.6 L1187.8,527.6 L1189.3,527.6 L1190.8,527.6 L1192.3,527.5 L1193.8,527.5 L1195.3,527.5 L1196.8,527.4 L1198.3,527.4 L1199.8,527.4 L1201.3,527.4 L1202.8,527.3 L1204.3,527.3 L1205.8,527.3 L1207.3,527.2 L1208.8,527.2 L1210.3,527.2 L1211.8,527.2 L1213.3,527.1 L1214.8,527.1 L1216.3,527.1 L1217.8,527.0 L1219.3,527.0 L1220.8,527.0 L1222.3,527.0 L1223.8,526.9 L1225.3,526.9 L1226.8,526.9 L1228.3,526.8 L1229.8,526.8 L1231.3,526.8 L1232.8,526.8 L1234.3,526.7 L1235.8,526.7 L1237.3,526.7 L1238.8,526.6 L1240.3,526.6 L1241.8,526.6 L1243.3,526.6 L1244.8,526.5 L1246.3,526.5 L1247.8,526.5 L1249.3,526.5 L1250.8,526.4 L1252.3,526.4 L1253.8,526.4 L1255.3,526.3 L1256.8,526.3 L1258.3,526.3 L1259.8,526.3 L1261.3,526.2 L1262.8,526.2 L1264.3,526.2 L1265.8,526.1 L1267.3,526.1 L1268.8,526.1 L1270.3,526.1 L1271.8,526.0 L1273.3,526.0 L1274.8,526.0 L1276.3,525.9 L1277.8,525.9 L1279.3,525.9 L1280.8,525.9 L1282.3,525.8 L1283.8,525.8 L1285.3,525.8 L1286.8,525.7 L1288.3,525.7 L1289.8,525.7 L1291.3,525.7 L1292.8,525.6 L1294.3,525.6 L1295.8,525.6 L1297.3,525.5 L1298.8,525.5 L1300.3,525.5 L1301.8,525.5 L1303.3,525.4 L1304.8,525.4 L1306.3,525.4 L1307.8,525.3 L1309.3,525.3 L1310.8,525.3 L1312.3,525.3 L1313.8,525.2 L1315.3,525.2 L1316.8,525.2 L1318.3,525.1 L1319.8,525.1 L1321.3,525.1 L1322.8,525.1 L1324.3,525.0 L1325.8,525.0 L1327.3,525.0 L1328.8,524.9 L1330.3,524.9 L1331.8,524.9 L1333.3,524.9 L1334.8,524.8 L1336.3,524.8 L1337.8,524.8 L1339.3,524.8 L1340.8,524.7 L1342.3,524.7 L1343.8,524.7 L1345.3,524.6 L1346.8,524.6 L1348.3,524.6 L1349.8,524.6 L1351.3,524.5 L1352.8,524.5 L1354.3,524.5 L1355.8,524.4 L1357.3,524.4 L1358.8,524.4 L1360.3,524.4 L1361.8,524.3 L1363.3,524.3 L1364.8,524.3 L1366.3,524.2 L1367.8,524.2 L1369.3,524.2 L1370.8,524.2 L1372.3,524.1 L1373.8,524.1 L1375.3,524.1 L1376.8,524.0 L1378.3,524.0 L1379.8,524.0 L1381.3,524.0 L1382.8,523.9 L1384.3,523.9 L1385.8,523.9 L1387.3,523.8 L1388.8,523.8 L1390.3,523.8 L1391.8,523.8 L1393.3,523.7 L1394.8,523.7 L1396.3,523.7 L1397.8,523.6 L1399.3,523.6 L1400.8,523.6 L1402.3,523.6 L1403.8,523.5 L1405.3,523.5 L1406.8,523.5 L1408.3,523.4 L1409.8,523.4 L1411.3,523.4 L1412.8,523.4 L1414.3,523.3 L1415.8,523.3 L1417.3,523.3 L1418.8,523.2 L1420.3,523.2 L1421.8,523.2 L1423.3,523.2 L1424.8,523.1 L1426.3,523.1 L1427.8,523.1 L1429.3,523.0 L1430.8,523.0 L1432.3,523.0 L1433.8,523.0 L1435.3,522.9 L1436.8,522.9 L1438.3,522.9 L1439.8,522.9 L1441.3,522.8 L1442.8,522.8 L1444.3,522.8 L1445.8,522.7 L1447.3,522.7 L1448.8,522.7 L1450.3,522.7 L1451.8,522.6 L1453.3,522.6 L1454.8,522.6 L1456.3,522.5 L1457.8,522.5 L1459.3,522.5 L1460.8,522.5 L1462.3,522.4 L1463.8,522.4 L1465.3,522.4 L1466.8,522.3 L1468.3,522.3 L1469.8,522.3 L1471.3,522.3 L1472.8,522.2 L1474.3,522.2 L1475.8,522.2 L1477.3,522.1 L1478.8,522.1 L1480.3,522.1 L1481.8,522.1 L1483.3,522.0 L1484.8,522.0 L1486.3,522.0 L1487.8,521.9 L1489.3,521.9 L1490.8,521.9 L1492.3,521.9 L1493.8,521.8 L1495.3,521.8 L1496.8,521.8 L1498.3,521.7 L1499.8,521.7 L1501.3,521.7 L1502.8,521.7 L1504.3,521.6 L1505.8,521.6 L1507.3,521.6 L1508.8,521.5 L1510.3,521.5 L1511.8,521.5 L1513.3,521.5 L1514.8,521.4" fill="none" stroke="#000" stroke-width="5.5" stroke-linejoin="round" stroke-linecap="round"/>
<path d="M844.3,533.1 L845.8,533.1 L847.3,533.0 L848.8,533.0 L850.3,532.9 L851.8,532.9 L853.3,532.8 L854.8,532.8 L856.3,532.7 L857.8,532.7 L859.3,532.6 L860.8,532.6 L862.3,532.5 L863.8,532.5 L865.3,532.4 L866.8,532.3 L868.3,532.3 L869.8,532.2 L871.3,532.2 L872.8,532.1 L874.3,532.0 L875.8,532.0 L877.3,531.9 L878.8,531.8 L880.3,531.7 L881.8,531.7 L883.3,531.6 L884.8,531.5 L886.3,531.4 L887.8,531.3 L889.3,531.2 L890.8,531.1 L892.3,531.0 L893.8,530.9 L895.3,530.8 L896.8,530.7 L898.3,530.6 L899.8,530.4 L901.3,530.3 L902.8,530.2 L904.3,530.0 L905.8,529.9 L907.3,529.7 L908.8,529.6 L910.3,529.4 L911.8,529.2 L913.3,529.0 L914.8,528.8 L916.3,528.6 L917.8,528.4 L919.3,528.2 L920.8,527.9 L922.3,527.7 L923.8,527.4 L925.3,527.2 L926.8,526.9 L928.3,526.6 L929.8,526.3 L931.3,526.0 L932.8,525.6 L934.3,525.3 L935.8,524.9 L937.3,524.5 L938.8,524.1 L940.3,523.7 L941.8,523.3 L943.3,522.8 L944.8,522.3 L946.3,521.8 L947.8,521.3 L949.3,520.8 L950.8,520.2 L952.3,519.7 L953.8,519.0 L955.3,518.4 L956.8,517.8 L958.3,517.1 L959.8,516.4 L961.3,515.6 L962.8,514.9 L964.3,514.1 L965.8,513.2 L967.3,512.4 L968.8,511.5 L970.3,510.6 L971.8,509.6 L973.3,508.6 L974.8,507.6 L976.3,506.5 L977.8,505.4 L979.3,504.3 L980.8,503.1 L982.3,501.9 L983.8,500.7 L985.3,499.4 L986.8,498.0 L988.3,496.7 L989.8,495.3 L991.3,493.8 L992.8,492.3 L994.3,490.8 L995.8,489.2 L997.3,487.5 L998.8,485.8 L1000.3,484.1 L1001.8,482.3 L1003.3,480.5 L1004.8,478.6 L1006.3,476.7 L1007.8,474.7 L1009.3,472.7 L1010.8,470.6 L1012.3,468.5 L1013.8,466.3 L1015.3,464.1 L1016.8,461.8 L1018.3,459.5 L1019.8,457.1 L1021.3,454.7 L1022.8,452.2 L1024.3,449.6 L1025.8,447.0 L1027.3,444.4 L1028.8,441.7 L1030.3,438.9 L1031.8,436.1 L1033.3,433.3 L1034.8,430.3 L1036.3,427.4 L1037.8,424.4 L1039.3,421.3 L1040.8,418.2 L1042.3,415.0 L1043.8,411.8 L1045.3,408.5 L1046.8,405.2 L1048.3,401.8 L1049.8,398.4 L1051.3,394.9 L1052.8,391.4 L1054.3,387.9 L1055.8,384.3 L1057.3,380.7 L1058.8,377.0 L1060.3,373.3 L1061.8,369.5 L1063.3,365.7 L1064.8,361.9 L1066.3,358.0 L1067.8,354.1 L1069.3,350.2 L1070.8,346.3 L1072.3,342.3 L1073.8,338.3 L1075.3,334.3 L1076.8,330.3 L1078.3,326.2 L1079.8,322.1 L1081.3,318.1 L1082.8,314.0 L1084.3,309.9 L1085.8,305.8 L1087.3,301.7 L1088.8,297.6 L1090.3,293.5 L1091.8,289.5 L1093.3,285.4 L1094.8,281.4 L1096.3,277.3 L1097.8,273.3 L1099.3,269.3 L1100.8,265.4 L1102.3,261.4 L1103.8,257.5 L1105.3,253.6 L1106.8,249.8 L1108.3,246.0 L1109.8,242.2 L1111.3,238.4 L1112.8,234.5 L1114.3,230.7 L1115.8,226.8 L1117.3,223.0 L1118.8,219.1 L1120.3,215.2 L1121.8,211.3 L1123.3,207.4 L1124.8,203.6 L1126.3,199.7 L1127.8,195.8 L1129.3,192.0 L1130.8,188.1 L1132.3,184.3 L1133.8,180.5 L1135.3,176.7 L1136.8,172.9 L1138.3,169.1 L1139.8,165.4 L1141.3,161.7 L1142.8,158.0 L1144.3,154.4 L1145.8,150.7 L1147.3,147.1 L1148.8,143.6 L1150.3,140.1 L1151.8,136.6 L1153.3,133.1 L1154.8,129.7 L1156.3,126.4 L1157.8,123.1 L1159.3,119.8 L1160.8,116.6 L1162.3,113.5 L1163.8,110.6 L1165.3,107.9 L1166.8,105.3 L1168.3,103.0 L1169.8,100.8 L1171.3,98.8 L1172.8,97.1 L1174.3,95.5 L1175.8,94.0 L1177.3,92.8 L1178.8,91.8 L1180.3,90.9 L1181.8,90.2 L1183.3,89.7 L1184.8,89.3 L1186.3,89.2 L1187.8,89.1 L1189.3,89.3 L1190.8,89.6 L1192.3,90.0 L1193.8,90.6 L1195.3,91.3 L1196.8,92.2 L1198.3,93.2 L1199.8,94.4 L1201.3,95.7 L1202.8,97.1 L1204.3,98.6 L1205.8,100.3 L1207.3,102.2 L1208.8,104.1 L1210.3,106.2 L1211.8,108.4 L1213.3,110.7 L1214.8,113.2 L1216.3,115.7 L1217.8,118.4 L1219.3,121.3 L1220.8,124.2 L1222.3,127.3 L1223.8,130.5 L1225.3,133.8 L1226.8,137.2 L1228.3,140.8 L1229.8,144.6 L1231.3,148.4 L1232.8,152.4 L1234.3,156.6 L1235.8,160.8 L1237.3,165.2 L1238.8,169.7 L1240.3,174.4 L1241.8,179.1 L1243.3,183.9 L1244.8,188.8 L1246.3,193.8 L1247.8,198.9 L1249.3,204.1 L1250.8,209.3 L1252.3,214.6 L1253.8,219.9 L1255.3,225.3 L1256.8,230.7 L1258.3,236.1 L1259.8,241.6 L1261.3,247.0 L1262.8,252.4 L1264.3,257.8 L1265.8,263.2 L1267.3,268.6 L1268.8,273.9 L1270.3,279.2 L1271.8,284.4 L1273.3,289.6 L1274.8,294.7 L1276.3,299.7 L1277.8,304.7 L1279.3,309.5 L1280.8,314.3 L1282.3,319.0 L1283.8,323.6 L1285.3,328.0 L1286.8,332.4 L1288.3,336.7 L1289.8,340.9 L1291.3,344.9 L1292.8,348.9 L1294.3,352.7 L1295.8,356.4 L1297.3,360.1 L1298.8,363.6 L1300.3,367.0 L1301.8,370.5 L1303.3,374.0 L1304.8,377.4 L1306.3,380.9 L1307.8,384.4 L1309.3,387.8 L1310.8,391.3 L1312.3,394.7 L1313.8,398.1 L1315.3,401.4 L1316.8,404.8 L1318.3,408.1 L1319.8,411.3 L1321.3,414.5 L1322.8,417.7 L1324.3,420.8 L1325.8,423.8 L1327.3,426.8 L1328.8,429.7 L1330.3,432.6 L1331.8,435.3 L1333.3,438.0 L1334.8,440.7 L1336.3,443.2 L1337.8,445.7 L1339.3,448.2 L1340.8,450.5 L1342.3,452.8 L1343.8,455.0 L1345.3,457.2 L1346.8,459.2 L1348.3,461.3 L1349.8,463.2 L1351.3,465.1 L1352.8,466.9 L1354.3,468.7 L1355.8,470.4 L1357.3,472.0 L1358.8,473.6 L1360.3,475.2 L1361.8,476.7 L1363.3,478.1 L1364.8,479.5 L1366.3,480.8 L1367.8,482.1 L1369.3,483.4 L1370.8,484.6 L1372.3,485.8 L1373.8,486.9 L1375.3,488.0 L1376.8,489.0 L1378.3,490.0 L1379.8,491.0 L1381.3,492.0 L1382.8,492.9 L1384.3,493.7 L1385.8,494.6 L1387.3,495.4 L1388.8,496.2 L1390.3,497.0 L1391.8,497.7 L1393.3,498.4 L1394.8,499.1 L1396.3,499.8 L1397.8,500.4 L1399.3,501.0 L1400.8,501.6 L1402.3,502.2 L1403.8,502.8 L1405.3,503.3 L1406.8,503.8 L1408.3,504.3 L1409.8,504.8 L1411.3,505.3 L1412.8,505.7 L1414.3,506.2 L1415.8,506.6 L1417.3,507.0 L1418.8,507.4 L1420.3,507.8 L1421.8,508.2 L1423.3,508.5 L1424.8,508.9 L1426.3,509.2 L1427.8,509.5 L1429.3,509.8 L1430.8,510.1 L1432.3,510.4 L1433.8,510.7 L1435.3,511.0 L1436.8,511.3 L1438.3,511.5 L1439.8,511.8 L1441.3,512.0 L1442.8,512.3 L1444.3,512.5 L1445.8,512.7 L1447.3,512.9 L1448.8,513.1 L1450.3,513.3 L1451.8,513.5 L1453.3,513.7 L1454.8,513.9 L1456.3,514.1 L1457.8,514.3 L1459.3,514.4 L1460.8,514.6 L1462.3,514.7 L1463.8,514.9 L1465.3,515.0 L1466.8,515.2 L1468.3,515.3 L1469.8,515.4 L1471.3,515.6 L1472.8,515.7 L1474.3,515.8 L1475.8,515.9 L1477.3,516.0 L1478.8,516.1 L1480.3,516.2 L1481.8,516.3 L1483.3,516.4 L1484.8,516.5 L1486.3,516.6 L1487.8,516.7 L1489.3,516.8 L1490.8,516.9 L1492.3,516.9 L1493.8,517.0 L1495.3,517.1 L1496.8,517.2 L1498.3,517.2 L1499.8,517.3 L1501.3,517.4 L1502.8,517.4 L1504.3,517.5 L1505.8,517.5 L1507.3,517.6 L1508.8,517.6 L1510.3,517.7 L1511.8,517.7 L1513.3,517.8 L1514.8,517.8" fill="none" stroke="#000" stroke-width="6.5" stroke-linejoin="round" stroke-linecap="round"/>
</g>
<path d="M842.25,6.40H1516.85M842.25,586.60H1516.85" stroke="#000" stroke-width="4.5" fill="none"/>
<path d="M844.30,6.40V586.60M1514.80,6.40V586.60" stroke="#000" stroke-width="4.1" fill="none"/>
<path d="M844.3,586.6v11.3M956.0,586.6v11.3M1067.8,586.6v11.3M1179.5,586.6v11.3M1291.3,586.6v11.3M1403.0,586.6v11.3M1514.8,586.6v11.3" stroke="#000" stroke-width="4.0" fill="none"/>
<path d="M900.2,586.6v5.2M1011.9,586.6v5.2M1123.7,586.6v5.2M1235.4,586.6v5.2M1347.2,586.6v5.2M1458.9,586.6v5.2" stroke="#000" stroke-width="4.0" fill="none"/>
<text x="844.3" y="633.2" font-size="35.5" fill="#000" stroke="#000" stroke-width="0.70" text-anchor="middle" >58</text>
<text x="956.0" y="633.2" font-size="35.5" fill="#000" stroke="#000" stroke-width="0.70" text-anchor="middle" >57</text>
<text x="1067.8" y="633.2" font-size="35.5" fill="#000" stroke="#000" stroke-width="0.70" text-anchor="middle" >56</text>
<text x="1179.5" y="633.2" font-size="35.5" fill="#000" stroke="#000" stroke-width="0.70" text-anchor="middle" >55</text>
<text x="1291.3" y="633.2" font-size="35.5" fill="#000" stroke="#000" stroke-width="0.70" text-anchor="middle" >54</text>
<text x="1403.0" y="633.2" font-size="35.5" fill="#000" stroke="#000" stroke-width="0.70" text-anchor="middle" >53</text>
<text x="1514.8" y="633.2" font-size="35.5" fill="#000" stroke="#000" stroke-width="0.70" text-anchor="middle" >52</text>
<text x="1156.5" y="677.0" font-size="35.5" fill="#000" stroke="#000" stroke-width="0.70" text-anchor="middle" >Binding Energy (eV)</text>
<text x="0.0" y="0.0" font-size="35.5" fill="#000" stroke="#000" stroke-width="0.70" text-anchor="middle" transform="translate(811.5,265.5) rotate(-90)">Intensity (a.u.)</text>
<text x="756.0" y="53.0" font-size="57.0" fill="#000" stroke="#000" stroke-width="0.70" text-anchor="start" >(b)</text>
<text x="887.0" y="54.0" font-size="35.0" fill="#000" stroke="#000" stroke-width="0.70" text-anchor="start" >Li 1s</text>
<text x="970.0" y="334.0" font-size="32.5" fill="#3aa535" stroke="#3aa535" stroke-width="0.50" text-anchor="start" >Li<tspan dy="8" font-size="21">2</tspan><tspan dy="-8">CO</tspan><tspan dy="8" font-size="21">3</tspan></text>
<text x="1270.0" y="228.0" font-size="32.5" fill="#2b7bba" stroke="#2b7bba" stroke-width="0.50" text-anchor="start" >ROCO<tspan dy="8" font-size="21">2</tspan><tspan dy="-8">Li</tspan></text>
<text x="975.0" y="419.0" font-size="32.5" fill="#ee2244" stroke="#ee2244" stroke-width="0.50" text-anchor="start" >LiF</text>
<text x="1341.0" y="380.0" font-size="32.5" fill="#6a3fa0" stroke="#6a3fa0" stroke-width="0.50" text-anchor="start" >Li</text>
<clipPath id="cc"><rect x="91.3" y="702.9" width="650.6" height="581.2"/></clipPath>
<g clip-path="url(#cc)">
<path d="M341.2,868.3 A6.2,6.2 0 0 0 353.6,868.3" fill="none" stroke="#1a1a1a" stroke-width="0.85"/>
<path d="M318.7,857.4 V861.3" fill="none" stroke="#444" stroke-width="0.9"/>
<g fill="none" stroke="#1a1a1a" stroke-width="0.85">
<circle cx="404.6" cy="1100.9" r="5.4"/>
<circle cx="400.0" cy="1111.2" r="5.4"/>
<circle cx="417.2" cy="1120.4" r="5.4"/>
<circle cx="412.6" cy="1158.3" r="5.4"/>
<circle cx="426.4" cy="1159.5" r="5.4"/>
<circle cx="421.8" cy="1168.7" r="5.4"/>
<circle cx="431.0" cy="1172.1" r="5.4"/>
<circle cx="435.6" cy="1139.9" r="5.4"/>
<circle cx="444.8" cy="1129.6" r="5.4"/>
<circle cx="454.0" cy="1138.8" r="5.4"/>
<circle cx="440.2" cy="1150.3" r="5.4"/>
<circle cx="449.4" cy="1157.2" r="5.4"/>
<circle cx="458.6" cy="1128.4" r="5.4"/>
<circle cx="463.2" cy="1108.9" r="5.4"/>
<circle cx="467.8" cy="1084.8" r="5.4"/>
<circle cx="472.4" cy="1092.8" r="5.4"/>
<circle cx="479.3" cy="1083.7" r="5.4"/>
<circle cx="603.3" cy="1106.2" r="5.4"/>
<circle cx="589.5" cy="1148.0" r="5.4"/>
<circle cx="584.9" cy="1166.4" r="5.4"/>
<circle cx="594.1" cy="1180.1" r="5.4"/>
<circle cx="612.5" cy="1150.3" r="5.4"/>
<circle cx="621.7" cy="1149.1" r="5.4"/>
<circle cx="617.1" cy="1160.6" r="5.4"/>
<circle cx="630.9" cy="1168.7" r="5.4"/>
<circle cx="636.6" cy="1149.1" r="5.4"/>
<circle cx="640.8" cy="1136.5" r="5.4"/>
<circle cx="644.7" cy="1152.6" r="5.4"/>
<circle cx="649.3" cy="1158.3" r="5.4"/>
<circle cx="654.5" cy="1161.8" r="5.4"/>
<circle cx="659.6" cy="1128.4" r="5.4"/>
<circle cx="668.3" cy="1134.2" r="5.4"/>
<circle cx="663.7" cy="1146.1" r="5.4"/>
<circle cx="682.6" cy="1137.6" r="5.4"/>
<circle cx="692.2" cy="1135.3" r="5.4"/>
<circle cx="696.8" cy="1144.5" r="5.4"/>
<circle cx="687.2" cy="1162.9" r="5.4"/>
<circle cx="678.0" cy="1173.2" r="5.4"/>
<circle cx="672.2" cy="1179.0" r="5.4"/>
<circle cx="710.6" cy="1131.9" r="5.4"/>
<circle cx="715.4" cy="1110.8" r="5.4"/>
<circle cx="720.5" cy="1162.9" r="5.4"/>
<circle cx="725.1" cy="1164.1" r="5.4"/>
<circle cx="734.3" cy="1177.8" r="5.4"/>
<circle cx="737.7" cy="1180.1" r="5.4"/>
<circle cx="729.7" cy="1192.8" r="5.4"/>
<circle cx="706.7" cy="1199.7" r="5.4"/>
<circle cx="701.0" cy="1203.1" r="5.4"/>
<circle cx="581.5" cy="1076.8" r="5.4"/>
<circle cx="570.0" cy="1065.3" r="5.4"/>
<circle cx="575.7" cy="1074.5" r="5.4"/>
<circle cx="565.4" cy="1043.4" r="5.4"/>
<circle cx="111.0" cy="1237.8" r="5.4"/>
<circle cx="106.4" cy="1250.9" r="5.4"/>
<circle cx="92.6" cy="1242.8" r="5.4"/>
<circle cx="259.7" cy="1172.8" r="5.4"/>
<circle cx="274.1" cy="1165.9" r="5.4"/>
<circle cx="277.6" cy="1098.1" r="5.4"/>
<circle cx="282.2" cy="1070.1" r="5.4"/>
<circle cx="284.5" cy="1078.6" r="5.4"/>
<circle cx="270.7" cy="1126.1" r="5.4"/>
<circle cx="294.8" cy="1061.4" r="5.4"/>
<circle cx="390.1" cy="1057.9" r="5.4"/>
<circle cx="383.3" cy="1044.1" r="5.4"/>
<circle cx="394.7" cy="1095.8" r="5.4"/>
<circle cx="403.9" cy="1100.9" r="5.4"/>
<circle cx="399.3" cy="1111.4" r="5.4"/>
<circle cx="417.7" cy="1120.6" r="5.4"/>
<circle cx="385.6" cy="1086.6" r="5.4"/>
<circle cx="166.8" cy="1225.6" r="5.4"/>
<circle cx="413.1" cy="1158.5" r="5.4"/>
<circle cx="426.9" cy="1159.7" r="5.4"/>
<circle cx="422.3" cy="1169.3" r="5.4"/>
<circle cx="431.5" cy="1172.1" r="5.4"/>
<circle cx="315.8" cy="884.2" r="5.4"/>
<circle cx="319.7" cy="890.0" r="5.4"/>
<circle cx="337.8" cy="881.4" r="5.4"/>
<circle cx="353.2" cy="880.4" r="5.4"/>
<circle cx="329.2" cy="906.3" r="5.4"/>
<circle cx="343.2" cy="921.2" r="5.4"/>
<circle cx="310.7" cy="933.1" r="5.4"/>
<circle cx="296.7" cy="950.3" r="5.4"/>
<circle cx="362.7" cy="919.7" r="5.4"/>
<circle cx="367.5" cy="937.5" r="5.4"/>
<circle cx="375.2" cy="959.3" r="5.4"/>
<circle cx="372.3" cy="965.0" r="5.4"/>
<circle cx="306.8" cy="969.4" r="5.4"/>
<circle cx="299.6" cy="989.5" r="5.4"/>
<circle cx="380.0" cy="1045.1" r="5.4"/>
<circle cx="389.5" cy="1057.5" r="5.4"/>
<circle cx="525.2" cy="832.2" r="5.4"/>
<circle cx="520.2" cy="837.9" r="5.4"/>
<circle cx="515.6" cy="848.7" r="5.4"/>
<circle cx="539.0" cy="848.7" r="5.4"/>
<circle cx="511.0" cy="862.0" r="5.4"/>
<circle cx="528.7" cy="865.5" r="5.4"/>
<circle cx="543.6" cy="893.7" r="5.4"/>
<circle cx="504.5" cy="913.7" r="5.4"/>
<circle cx="554.4" cy="935.5" r="5.4"/>
<circle cx="547.0" cy="953.9" r="5.4"/>
<circle cx="501.1" cy="953.5" r="5.4"/>
<circle cx="563.6" cy="975.7" r="5.4"/>
<circle cx="557.4" cy="987.2" r="5.4"/>
<circle cx="496.5" cy="981.5" r="5.4"/>
<circle cx="486.8" cy="1002.9" r="5.4"/>
<circle cx="491.4" cy="1002.2" r="5.4"/>
<circle cx="482.2" cy="1028.1" r="5.4"/>
<circle cx="566.6" cy="1041.2" r="5.4"/>
<circle cx="571.2" cy="1064.2" r="5.4"/>
<circle cx="581.5" cy="1075.7" r="5.4"/>
</g>
<path d="M258.3,1216.1 L259.3,1216.0 L260.3,1215.9 L261.3,1215.8 L262.3,1215.7 L263.3,1215.6 L264.3,1215.4 L265.3,1215.3 L266.3,1215.2 L267.3,1215.0 L268.3,1214.8 L269.3,1214.6 L270.3,1214.4 L271.3,1214.2 L272.3,1214.0 L273.3,1213.7 L274.3,1213.4 L275.3,1213.1 L276.3,1212.8 L277.3,1212.4 L278.3,1212.0 L279.3,1211.6 L280.3,1211.2 L281.3,1210.6 L282.3,1210.1 L283.3,1209.5 L284.3,1208.9 L285.3,1208.2 L286.3,1207.4 L287.3,1206.6 L288.3,1205.7 L289.3,1204.7 L290.3,1203.7 L291.3,1202.6 L292.3,1201.4 L293.3,1200.1 L294.3,1198.7 L295.3,1197.2 L296.3,1195.6 L297.3,1194.0 L298.3,1192.2 L299.3,1190.2 L300.3,1188.2 L301.3,1186.0 L302.3,1183.7 L303.3,1181.3 L304.3,1178.7 L305.3,1176.0 L306.3,1173.2 L307.3,1170.2 L308.3,1167.0 L309.3,1163.7 L310.3,1160.3 L311.3,1156.6 L312.3,1152.9 L313.3,1149.0 L314.3,1144.9 L315.3,1140.7 L316.3,1136.4 L317.3,1131.9 L318.3,1127.2 L319.3,1122.5 L320.3,1117.6 L321.3,1112.6 L322.3,1107.5 L323.3,1102.3 L324.3,1097.0 L325.3,1091.6 L326.3,1086.1 L327.3,1080.6 L328.3,1075.1 L329.3,1069.5 L330.3,1063.9 L331.3,1058.3 L332.3,1052.7 L333.3,1047.2 L334.3,1041.7 L335.3,1036.3 L336.3,1030.9 L337.3,1025.7 L338.3,1020.6 L339.3,1015.6 L340.3,1010.8 L341.3,1006.1 L342.3,1001.6 L343.3,997.4 L344.3,993.3 L345.3,989.5 L346.3,986.0 L347.3,982.7 L348.3,979.7 L349.3,976.9 L350.3,974.5 L351.3,972.4 L352.3,970.6 L353.3,969.1 L354.3,968.0 L355.3,967.2 L356.3,966.7 L357.3,966.6 L358.3,966.8 L359.3,967.3 L360.3,968.2 L361.3,969.4 L362.3,970.9 L363.3,972.7 L364.3,974.8 L365.3,977.3 L366.3,980.0 L367.3,983.0 L368.3,986.2 L369.3,989.7 L370.3,993.4 L371.3,997.4 L372.3,1001.5 L373.3,1005.9 L374.3,1010.4 L375.3,1015.1 L376.3,1020.0 L377.3,1024.9 L378.3,1030.0 L379.3,1035.2 L380.3,1040.4 L381.3,1045.7 L382.3,1051.1 L383.3,1056.5 L384.3,1061.9 L385.3,1067.3 L386.3,1072.6 L387.3,1078.0 L388.3,1083.3 L389.3,1088.5 L390.3,1093.7 L391.3,1098.8 L392.3,1103.8 L393.3,1108.8 L394.3,1113.6 L395.3,1118.3 L396.3,1122.8 L397.3,1127.3 L398.3,1131.6 L399.3,1135.8 L400.3,1139.8 L401.3,1143.7 L402.3,1147.5 L403.3,1151.1 L404.3,1154.5 L405.3,1157.9 L406.3,1161.0 L407.3,1164.0 L408.3,1166.9 L409.3,1169.6 L410.3,1172.2 L411.3,1174.7 L412.3,1177.0 L413.3,1179.2 L414.3,1181.2 L415.3,1183.2 L416.3,1185.0 L417.3,1186.7 L418.3,1188.3 L419.3,1189.8 L420.3,1191.2 L421.3,1192.4 L422.3,1193.6 L423.3,1194.7 L424.3,1195.8 L425.3,1196.7 L426.3,1197.6 L427.3,1198.4 L428.3,1199.1 L429.3,1199.8 L430.3,1200.4 L431.3,1200.9 L432.3,1201.5 L433.3,1201.9 L434.3,1202.3 L435.3,1202.7 L436.3,1203.0 L437.3,1203.3 L438.3,1203.6 L439.3,1203.8 L440.3,1204.0 L441.3,1204.2 L442.3,1204.4 L443.3,1204.5 L444.3,1204.6 L445.3,1204.7 L446.3,1204.8 L447.3,1204.9 L448.3,1205.0 L449.3,1205.0 L450.3,1205.0 L451.3,1205.1 L452.3,1205.1 L453.3,1205.1 L454.3,1205.1 L455.3,1205.1 L456.3,1205.1 L457.3,1205.1 L457.3,1205.3 L258.3,1216.4 Z" fill="#f9c08e" fill-opacity="0.80" stroke="none"/>
<path d="M258.3,1216.1 L259.3,1216.0 L260.3,1215.9 L261.3,1215.8 L262.3,1215.7 L263.3,1215.6 L264.3,1215.4 L265.3,1215.3 L266.3,1215.2 L267.3,1215.0 L268.3,1214.8 L269.3,1214.6 L270.3,1214.4 L271.3,1214.2 L272.3,1214.0 L273.3,1213.7 L274.3,1213.4 L275.3,1213.1 L276.3,1212.8 L277.3,1212.4 L278.3,1212.0 L279.3,1211.6 L280.3,1211.2 L281.3,1210.6 L282.3,1210.1 L283.3,1209.5 L284.3,1208.9 L285.3,1208.2 L286.3,1207.4 L287.3,1206.6 L288.3,1205.7 L289.3,1204.7 L290.3,1203.7 L291.3,1202.6 L292.3,1201.4 L293.3,1200.1 L294.3,1198.7 L295.3,1197.2 L296.3,1195.6 L297.3,1194.0 L298.3,1192.2 L299.3,1190.2 L300.3,1188.2 L301.3,1186.0 L302.3,1183.7 L303.3,1181.3 L304.3,1178.7 L305.3,1176.0 L306.3,1173.2 L307.3,1170.2 L308.3,1167.0 L309.3,1163.7 L310.3,1160.3 L311.3,1156.6 L312.3,1152.9 L313.3,1149.0 L314.3,1144.9 L315.3,1140.7 L316.3,1136.4 L317.3,1131.9 L318.3,1127.2 L319.3,1122.5 L320.3,1117.6 L321.3,1112.6 L322.3,1107.5 L323.3,1102.3 L324.3,1097.0 L325.3,1091.6 L326.3,1086.1 L327.3,1080.6 L328.3,1075.1 L329.3,1069.5 L330.3,1063.9 L331.3,1058.3 L332.3,1052.7 L333.3,1047.2 L334.3,1041.7 L335.3,1036.3 L336.3,1030.9 L337.3,1025.7 L338.3,1020.6 L339.3,1015.6 L340.3,1010.8 L341.3,1006.1 L342.3,1001.6 L343.3,997.4 L344.3,993.3 L345.3,989.5 L346.3,986.0 L347.3,982.7 L348.3,979.7 L349.3,976.9 L350.3,974.5 L351.3,972.4 L352.3,970.6 L353.3,969.1 L354.3,968.0 L355.3,967.2 L356.3,966.7 L357.3,966.6 L358.3,966.8 L359.3,967.3 L360.3,968.2 L361.3,969.4 L362.3,970.9 L363.3,972.7 L364.3,974.8 L365.3,977.3 L366.3,980.0 L367.3,983.0 L368.3,986.2 L369.3,989.7 L370.3,993.4 L371.3,997.4 L372.3,1001.5 L373.3,1005.9 L374.3,1010.4 L375.3,1015.1 L376.3,1020.0 L377.3,1024.9 L378.3,1030.0 L379.3,1035.2 L380.3,1040.4 L381.3,1045.7 L382.3,1051.1 L383.3,1056.5 L384.3,1061.9 L385.3,1067.3 L386.3,1072.6 L387.3,1078.0 L388.3,1083.3 L389.3,1088.5 L390.3,1093.7 L391.3,1098.8 L392.3,1103.8 L393.3,1108.8 L394.3,1113.6 L395.3,1118.3 L396.3,1122.8 L397.3,1127.3 L398.3,1131.6 L399.3,1135.8 L400.3,1139.8 L401.3,1143.7 L402.3,1147.5 L403.3,1151.1 L404.3,1154.5 L405.3,1157.9 L406.3,1161.0 L407.3,1164.0 L408.3,1166.9 L409.3,1169.6 L410.3,1172.2 L411.3,1174.7 L412.3,1177.0 L413.3,1179.2 L414.3,1181.2 L415.3,1183.2 L416.3,1185.0 L417.3,1186.7 L418.3,1188.3 L419.3,1189.8 L420.3,1191.2 L421.3,1192.4 L422.3,1193.6 L423.3,1194.7 L424.3,1195.8 L425.3,1196.7 L426.3,1197.6 L427.3,1198.4 L428.3,1199.1 L429.3,1199.8 L430.3,1200.4 L431.3,1200.9 L432.3,1201.5 L433.3,1201.9 L434.3,1202.3 L435.3,1202.7 L436.3,1203.0 L437.3,1203.3 L438.3,1203.6 L439.3,1203.8 L440.3,1204.0 L441.3,1204.2 L442.3,1204.4 L443.3,1204.5 L444.3,1204.6 L445.3,1204.7 L446.3,1204.8 L447.3,1204.9 L448.3,1205.0 L449.3,1205.0 L450.3,1205.0 L451.3,1205.1 L452.3,1205.1 L453.3,1205.1 L454.3,1205.1 L455.3,1205.1 L456.3,1205.1 L457.3,1205.1" fill="none" stroke="#f5964a" stroke-width="6.2" stroke-linejoin="round" stroke-linecap="butt"/>
<path d="M374.3,1209.6 L375.3,1209.6 L376.3,1209.5 L377.3,1209.4 L378.3,1209.3 L379.3,1209.3 L380.3,1209.2 L381.3,1209.1 L382.3,1209.0 L383.3,1209.0 L384.3,1208.9 L385.3,1208.8 L386.3,1208.7 L387.3,1208.6 L388.3,1208.5 L389.3,1208.4 L390.3,1208.4 L391.3,1208.3 L392.3,1208.2 L393.3,1208.1 L394.3,1208.0 L395.3,1207.9 L396.3,1207.8 L397.3,1207.7 L398.3,1207.5 L399.3,1207.4 L400.3,1207.3 L401.3,1207.2 L402.3,1207.1 L403.3,1206.9 L404.3,1206.8 L405.3,1206.6 L406.3,1206.5 L407.3,1206.3 L408.3,1206.1 L409.3,1206.0 L410.3,1205.8 L411.3,1205.6 L412.3,1205.4 L413.3,1205.2 L414.3,1204.9 L415.3,1204.7 L416.3,1204.4 L417.3,1204.1 L418.3,1203.8 L419.3,1203.5 L420.3,1203.2 L421.3,1202.8 L422.3,1202.5 L423.3,1202.1 L424.3,1201.7 L425.3,1201.2 L426.3,1200.7 L427.3,1200.2 L428.3,1199.7 L429.3,1199.1 L430.3,1198.5 L431.3,1197.8 L432.3,1197.1 L433.3,1196.4 L434.3,1195.6 L435.3,1194.8 L436.3,1193.9 L437.3,1193.0 L438.3,1192.0 L439.3,1191.0 L440.3,1189.9 L441.3,1188.7 L442.3,1187.4 L443.3,1186.1 L444.3,1184.8 L445.3,1183.3 L446.3,1181.8 L447.3,1180.2 L448.3,1178.4 L449.3,1176.7 L450.3,1174.8 L451.3,1172.8 L452.3,1170.7 L453.3,1168.5 L454.3,1166.3 L455.3,1163.9 L456.3,1161.4 L457.3,1158.8 L458.3,1156.1 L459.3,1153.2 L460.3,1150.3 L461.3,1147.2 L462.3,1144.0 L463.3,1140.7 L464.3,1137.3 L465.3,1133.7 L466.3,1130.0 L467.3,1126.2 L468.3,1122.3 L469.3,1118.2 L470.3,1114.0 L471.3,1109.7 L472.3,1105.2 L473.3,1100.6 L474.3,1095.9 L475.3,1091.1 L476.3,1086.2 L477.3,1081.1 L478.3,1076.0 L479.3,1070.7 L480.3,1065.3 L481.3,1059.9 L482.3,1054.3 L483.3,1048.7 L484.3,1042.9 L485.3,1037.1 L486.3,1031.3 L487.3,1025.4 L488.3,1019.4 L489.3,1013.4 L490.3,1007.3 L491.3,1001.2 L492.3,995.1 L493.3,989.0 L494.3,982.9 L495.3,976.8 L496.3,970.7 L497.3,964.7 L498.3,958.7 L499.3,952.8 L500.3,946.9 L501.3,941.1 L502.3,935.5 L503.3,929.9 L504.3,924.4 L505.3,919.0 L506.3,913.8 L507.3,908.8 L508.3,903.9 L509.3,899.2 L510.3,894.6 L511.3,890.3 L512.3,886.2 L513.3,882.2 L514.3,878.5 L515.3,875.1 L516.3,871.9 L517.3,868.9 L518.3,866.2 L519.3,863.8 L520.3,861.6 L521.3,859.8 L522.3,858.2 L523.3,856.9 L524.3,855.9 L525.3,855.2 L526.3,854.7 L527.3,854.6 L528.3,854.8 L529.3,855.3 L530.3,856.1 L531.3,857.1 L532.3,858.5 L533.3,860.1 L534.3,862.0 L535.3,864.2 L536.3,866.7 L537.3,869.4 L538.3,872.3 L539.3,875.5 L540.3,879.0 L541.3,882.7 L542.3,886.6 L543.3,890.7 L544.3,895.0 L545.3,899.4 L546.3,904.1 L547.3,908.9 L548.3,913.9 L549.3,919.1 L550.3,924.3 L551.3,929.7 L552.3,935.2 L553.3,940.8 L554.3,946.5 L555.3,952.2 L556.3,958.0 L557.3,963.9 L558.3,969.8 L559.3,975.7 L560.3,981.7 L561.3,987.7 L562.3,993.6 L563.3,999.6 L564.3,1005.5 L565.3,1011.4 L566.3,1017.3 L567.3,1023.1 L568.3,1028.9 L569.3,1034.6 L570.3,1040.3 L571.3,1045.8 L572.3,1051.3 L573.3,1056.7 L574.3,1062.0 L575.3,1067.2 L576.3,1072.3 L577.3,1077.3 L578.3,1082.2 L579.3,1087.0 L580.3,1091.7 L581.3,1096.2 L582.3,1100.6 L583.3,1104.9 L584.3,1109.1 L585.3,1113.1 L586.3,1117.0 L587.3,1120.8 L588.3,1124.5 L589.3,1128.0 L590.3,1131.4 L591.3,1134.7 L592.3,1137.9 L593.3,1141.0 L594.3,1143.9 L595.3,1146.7 L596.3,1149.4 L597.3,1151.9 L598.3,1154.4 L599.3,1156.8 L600.3,1159.0 L601.3,1161.1 L602.3,1163.2 L603.3,1165.1 L604.3,1167.0 L605.3,1168.7 L606.3,1170.4 L607.3,1171.9 L608.3,1173.4 L609.3,1174.8 L610.3,1176.2 L611.3,1177.4 L612.3,1178.6 L613.3,1179.7 L614.3,1180.8 L615.3,1181.7 L616.3,1182.7 L617.3,1183.5 L618.3,1184.3 L619.3,1185.1 L620.3,1185.8 L621.3,1186.5 L622.3,1187.1 L623.3,1187.6 L624.3,1188.2 L625.3,1188.7 L626.3,1189.1 L627.3,1189.5 L628.3,1189.9 L629.3,1190.3 L630.3,1190.6 L631.3,1190.9 L632.3,1191.2 L633.3,1191.5 L634.3,1191.7 L635.3,1191.9 L636.3,1192.1 L637.3,1192.3 L638.3,1192.5 L639.3,1192.6 L640.3,1192.7 L641.3,1192.9 L642.3,1193.0 L643.3,1193.0 L644.3,1193.1 L645.3,1193.2 L646.3,1193.3 L647.3,1193.3 L648.3,1193.4 L649.3,1193.4 L650.3,1193.4 L651.3,1193.5 L652.3,1193.5 L653.3,1193.5 L654.3,1193.5 L655.3,1193.5 L656.3,1193.5 L657.3,1193.5 L658.3,1193.5 L659.3,1193.5 L660.3,1193.5 L661.3,1193.5 L662.3,1193.4 L663.3,1193.4 L664.3,1193.4 L665.3,1193.4 L666.3,1193.4 L667.3,1193.3 L668.3,1193.3 L668.3,1193.6 L374.3,1209.9 Z" fill="#fcc0c4" fill-opacity="0.80" stroke="none"/>
<path d="M374.3,1209.6 L375.3,1209.6 L376.3,1209.5 L377.3,1209.4 L378.3,1209.3 L379.3,1209.3 L380.3,1209.2 L381.3,1209.1 L382.3,1209.0 L383.3,1209.0 L384.3,1208.9 L385.3,1208.8 L386.3,1208.7 L387.3,1208.6 L388.3,1208.5 L389.3,1208.4 L390.3,1208.4 L391.3,1208.3 L392.3,1208.2 L393.3,1208.1 L394.3,1208.0 L395.3,1207.9 L396.3,1207.8 L397.3,1207.7 L398.3,1207.5 L399.3,1207.4 L400.3,1207.3 L401.3,1207.2 L402.3,1207.1 L403.3,1206.9 L404.3,1206.8 L405.3,1206.6 L406.3,1206.5 L407.3,1206.3 L408.3,1206.1 L409.3,1206.0 L410.3,1205.8 L411.3,1205.6 L412.3,1205.4 L413.3,1205.2 L414.3,1204.9 L415.3,1204.7 L416.3,1204.4 L417.3,1204.1 L418.3,1203.8 L419.3,1203.5 L420.3,1203.2 L421.3,1202.8 L422.3,1202.5 L423.3,1202.1 L424.3,1201.7 L425.3,1201.2 L426.3,1200.7 L427.3,1200.2 L428.3,1199.7 L429.3,1199.1 L430.3,1198.5 L431.3,1197.8 L432.3,1197.1 L433.3,1196.4 L434.3,1195.6 L435.3,1194.8 L436.3,1193.9 L437.3,1193.0 L438.3,1192.0 L439.3,1191.0 L440.3,1189.9 L441.3,1188.7 L442.3,1187.4 L443.3,1186.1 L444.3,1184.8 L445.3,1183.3 L446.3,1181.8 L447.3,1180.2 L448.3,1178.4 L449.3,1176.7 L450.3,1174.8 L451.3,1172.8 L452.3,1170.7 L453.3,1168.5 L454.3,1166.3 L455.3,1163.9 L456.3,1161.4 L457.3,1158.8 L458.3,1156.1 L459.3,1153.2 L460.3,1150.3 L461.3,1147.2 L462.3,1144.0 L463.3,1140.7 L464.3,1137.3 L465.3,1133.7 L466.3,1130.0 L467.3,1126.2 L468.3,1122.3 L469.3,1118.2 L470.3,1114.0 L471.3,1109.7 L472.3,1105.2 L473.3,1100.6 L474.3,1095.9 L475.3,1091.1 L476.3,1086.2 L477.3,1081.1 L478.3,1076.0 L479.3,1070.7 L480.3,1065.3 L481.3,1059.9 L482.3,1054.3 L483.3,1048.7 L484.3,1042.9 L485.3,1037.1 L486.3,1031.3 L487.3,1025.4 L488.3,1019.4 L489.3,1013.4 L490.3,1007.3 L491.3,1001.2 L492.3,995.1 L493.3,989.0 L494.3,982.9 L495.3,976.8 L496.3,970.7 L497.3,964.7 L498.3,958.7 L499.3,952.8 L500.3,946.9 L501.3,941.1 L502.3,935.5 L503.3,929.9 L504.3,924.4 L505.3,919.0 L506.3,913.8 L507.3,908.8 L508.3,903.9 L509.3,899.2 L510.3,894.6 L511.3,890.3 L512.3,886.2 L513.3,882.2 L514.3,878.5 L515.3,875.1 L516.3,871.9 L517.3,868.9 L518.3,866.2 L519.3,863.8 L520.3,861.6 L521.3,859.8 L522.3,858.2 L523.3,856.9 L524.3,855.9 L525.3,855.2 L526.3,854.7 L527.3,854.6 L528.3,854.8 L529.3,855.3 L530.3,856.1 L531.3,857.1 L532.3,858.5 L533.3,860.1 L534.3,862.0 L535.3,864.2 L536.3,866.7 L537.3,869.4 L538.3,872.3 L539.3,875.5 L540.3,879.0 L541.3,882.7 L542.3,886.6 L543.3,890.7 L544.3,895.0 L545.3,899.4 L546.3,904.1 L547.3,908.9 L548.3,913.9 L549.3,919.1 L550.3,924.3 L551.3,929.7 L552.3,935.2 L553.3,940.8 L554.3,946.5 L555.3,952.2 L556.3,958.0 L557.3,963.9 L558.3,969.8 L559.3,975.7 L560.3,981.7 L561.3,987.7 L562.3,993.6 L563.3,999.6 L564.3,1005.5 L565.3,1011.4 L566.3,1017.3 L567.3,1023.1 L568.3,1028.9 L569.3,1034.6 L570.3,1040.3 L571.3,1045.8 L572.3,1051.3 L573.3,1056.7 L574.3,1062.0 L575.3,1067.2 L576.3,1072.3 L577.3,1077.3 L578.3,1082.2 L579.3,1087.0 L580.3,1091.7 L581.3,1096.2 L582.3,1100.6 L583.3,1104.9 L584.3,1109.1 L585.3,1113.1 L586.3,1117.0 L587.3,1120.8 L588.3,1124.5 L589.3,1128.0 L590.3,1131.4 L591.3,1134.7 L592.3,1137.9 L593.3,1141.0 L594.3,1143.9 L595.3,1146.7 L596.3,1149.4 L597.3,1151.9 L598.3,1154.4 L599.3,1156.8 L600.3,1159.0 L601.3,1161.1 L602.3,1163.2 L603.3,1165.1 L604.3,1167.0 L605.3,1168.7 L606.3,1170.4 L607.3,1171.9 L608.3,1173.4 L609.3,1174.8 L610.3,1176.2 L611.3,1177.4 L612.3,1178.6 L613.3,1179.7 L614.3,1180.8 L615.3,1181.7 L616.3,1182.7 L617.3,1183.5 L618.3,1184.3 L619.3,1185.1 L620.3,1185.8 L621.3,1186.5 L622.3,1187.1 L623.3,1187.6 L624.3,1188.2 L625.3,1188.7 L626.3,1189.1 L627.3,1189.5 L628.3,1189.9 L629.3,1190.3 L630.3,1190.6 L631.3,1190.9 L632.3,1191.2 L633.3,1191.5 L634.3,1191.7 L635.3,1191.9 L636.3,1192.1 L637.3,1192.3 L638.3,1192.5 L639.3,1192.6 L640.3,1192.7 L641.3,1192.9 L642.3,1193.0 L643.3,1193.0 L644.3,1193.1 L645.3,1193.2 L646.3,1193.3 L647.3,1193.3 L648.3,1193.4 L649.3,1193.4 L650.3,1193.4 L651.3,1193.5 L652.3,1193.5 L653.3,1193.5 L654.3,1193.5 L655.3,1193.5 L656.3,1193.5 L657.3,1193.5 L658.3,1193.5 L659.3,1193.5 L660.3,1193.5 L661.3,1193.5 L662.3,1193.4 L663.3,1193.4 L664.3,1193.4 L665.3,1193.4 L666.3,1193.4 L667.3,1193.3 L668.3,1193.3" fill="none" stroke="#f0505a" stroke-width="5.0" stroke-linejoin="round" stroke-linecap="butt"/>
<path d="M219.3,1218.3 L220.3,1218.2 L221.3,1218.1 L222.3,1218.0 L223.3,1217.8 L224.3,1217.7 L225.3,1217.6 L226.3,1217.4 L227.3,1217.3 L228.3,1217.1 L229.3,1216.9 L230.3,1216.7 L231.3,1216.5 L232.3,1216.3 L233.3,1216.0 L234.3,1215.8 L235.3,1215.5 L236.3,1215.1 L237.3,1214.8 L238.3,1214.4 L239.3,1214.0 L240.3,1213.5 L241.3,1213.0 L242.3,1212.5 L243.3,1211.9 L244.3,1211.3 L245.3,1210.6 L246.3,1209.8 L247.3,1209.0 L248.3,1208.1 L249.3,1207.2 L250.3,1206.1 L251.3,1205.0 L252.3,1203.8 L253.3,1202.6 L254.3,1201.2 L255.3,1199.7 L256.3,1198.1 L257.3,1196.4 L258.3,1194.6 L259.3,1192.7 L260.3,1190.7 L261.3,1188.5 L262.3,1186.2 L263.3,1183.8 L264.3,1181.2 L265.3,1178.5 L266.3,1175.6 L267.3,1172.6 L268.3,1169.5 L269.3,1166.2 L270.3,1162.7 L271.3,1159.1 L272.3,1155.3 L273.3,1151.4 L274.3,1147.4 L275.3,1143.1 L276.3,1138.8 L277.3,1134.3 L278.3,1129.7 L279.3,1124.9 L280.3,1120.1 L281.3,1115.1 L282.3,1110.0 L283.3,1104.8 L284.3,1099.6 L285.3,1094.2 L286.3,1088.8 L287.3,1083.4 L288.3,1077.9 L289.3,1072.5 L290.3,1067.0 L291.3,1061.5 L292.3,1056.0 L293.3,1050.6 L294.3,1045.3 L295.3,1040.0 L296.3,1034.9 L297.3,1029.8 L298.3,1024.9 L299.3,1020.2 L300.3,1015.6 L301.3,1011.2 L302.3,1007.0 L303.3,1003.0 L304.3,999.3 L305.3,995.8 L306.3,992.6 L307.3,989.6 L308.3,987.0 L309.3,984.6 L310.3,982.6 L311.3,980.9 L312.3,979.5 L313.3,978.4 L314.3,977.7 L315.3,977.3 L316.3,977.2 L317.3,977.5 L318.3,978.0 L319.3,978.9 L320.3,980.2 L321.3,981.7 L322.3,983.5 L323.3,985.6 L324.3,988.0 L325.3,990.6 L326.3,993.6 L327.3,996.8 L328.3,1000.2 L329.3,1003.8 L330.3,1007.7 L331.3,1011.7 L332.3,1016.0 L333.3,1020.4 L334.3,1025.0 L335.3,1029.7 L336.3,1034.5 L337.3,1039.4 L338.3,1044.4 L339.3,1049.5 L340.3,1054.6 L341.3,1059.8 L342.3,1065.0 L343.3,1070.2 L344.3,1075.4 L345.3,1080.6 L346.3,1085.8 L347.3,1090.9 L348.3,1095.9 L349.3,1100.9 L350.3,1105.8 L351.3,1110.7 L352.3,1115.4 L353.3,1120.0 L354.3,1124.5 L355.3,1128.9 L356.3,1133.2 L357.3,1137.3 L358.3,1141.3 L359.3,1145.2 L360.3,1148.9 L361.3,1152.5 L362.3,1156.0 L363.3,1159.3 L364.3,1162.5 L365.3,1165.5 L366.3,1168.4 L367.3,1171.1 L368.3,1173.7 L369.3,1176.2 L370.3,1178.6 L371.3,1180.8 L372.3,1182.9 L373.3,1184.8 L374.3,1186.7 L375.3,1188.4 L376.3,1190.0 L377.3,1191.5 L378.3,1192.9 L379.3,1194.3 L380.3,1195.5 L381.3,1196.6 L382.3,1197.7 L383.3,1198.6 L384.3,1199.5 L385.3,1200.4 L386.3,1201.1 L387.3,1201.8 L388.3,1202.4 L389.3,1203.0 L390.3,1203.5 L391.3,1204.0 L392.3,1204.4 L393.3,1204.8 L394.3,1205.2 L395.3,1205.5 L396.3,1205.8 L397.3,1206.0 L398.3,1206.2 L399.3,1206.4 L400.3,1206.6 L401.3,1206.8 L402.3,1206.9 L403.3,1207.0 L404.3,1207.1 L405.3,1207.2 L406.3,1207.2 L407.3,1207.3 L408.3,1207.3 L409.3,1207.4 L410.3,1207.4 L411.3,1207.4 L412.3,1207.4 L413.3,1207.4 L414.3,1207.4 L415.3,1207.4 L415.3,1207.7 L219.3,1218.6 Z" fill="#e0f2c0" fill-opacity="0.80" stroke="none"/>
<path d="M219.3,1218.3 L220.3,1218.2 L221.3,1218.1 L222.3,1218.0 L223.3,1217.8 L224.3,1217.7 L225.3,1217.6 L226.3,1217.4 L227.3,1217.3 L228.3,1217.1 L229.3,1216.9 L230.3,1216.7 L231.3,1216.5 L232.3,1216.3 L233.3,1216.0 L234.3,1215.8 L235.3,1215.5 L236.3,1215.1 L237.3,1214.8 L238.3,1214.4 L239.3,1214.0 L240.3,1213.5 L241.3,1213.0 L242.3,1212.5 L243.3,1211.9 L244.3,1211.3 L245.3,1210.6 L246.3,1209.8 L247.3,1209.0 L248.3,1208.1 L249.3,1207.2 L250.3,1206.1 L251.3,1205.0 L252.3,1203.8 L253.3,1202.6 L254.3,1201.2 L255.3,1199.7 L256.3,1198.1 L257.3,1196.4 L258.3,1194.6 L259.3,1192.7 L260.3,1190.7 L261.3,1188.5 L262.3,1186.2 L263.3,1183.8 L264.3,1181.2 L265.3,1178.5 L266.3,1175.6 L267.3,1172.6 L268.3,1169.5 L269.3,1166.2 L270.3,1162.7 L271.3,1159.1 L272.3,1155.3 L273.3,1151.4 L274.3,1147.4 L275.3,1143.1 L276.3,1138.8 L277.3,1134.3 L278.3,1129.7 L279.3,1124.9 L280.3,1120.1 L281.3,1115.1 L282.3,1110.0 L283.3,1104.8 L284.3,1099.6 L285.3,1094.2 L286.3,1088.8 L287.3,1083.4 L288.3,1077.9 L289.3,1072.5 L290.3,1067.0 L291.3,1061.5 L292.3,1056.0 L293.3,1050.6 L294.3,1045.3 L295.3,1040.0 L296.3,1034.9 L297.3,1029.8 L298.3,1024.9 L299.3,1020.2 L300.3,1015.6 L301.3,1011.2 L302.3,1007.0 L303.3,1003.0 L304.3,999.3 L305.3,995.8 L306.3,992.6 L307.3,989.6 L308.3,987.0 L309.3,984.6 L310.3,982.6 L311.3,980.9 L312.3,979.5 L313.3,978.4 L314.3,977.7 L315.3,977.3 L316.3,977.2 L317.3,977.5 L318.3,978.0 L319.3,978.9 L320.3,980.2 L321.3,981.7 L322.3,983.5 L323.3,985.6 L324.3,988.0 L325.3,990.6 L326.3,993.6 L327.3,996.8 L328.3,1000.2 L329.3,1003.8 L330.3,1007.7 L331.3,1011.7 L332.3,1016.0 L333.3,1020.4 L334.3,1025.0 L335.3,1029.7 L336.3,1034.5 L337.3,1039.4 L338.3,1044.4 L339.3,1049.5 L340.3,1054.6 L341.3,1059.8 L342.3,1065.0 L343.3,1070.2 L344.3,1075.4 L345.3,1080.6 L346.3,1085.8 L347.3,1090.9 L348.3,1095.9 L349.3,1100.9 L350.3,1105.8 L351.3,1110.7 L352.3,1115.4 L353.3,1120.0 L354.3,1124.5 L355.3,1128.9 L356.3,1133.2 L357.3,1137.3 L358.3,1141.3 L359.3,1145.2 L360.3,1148.9 L361.3,1152.5 L362.3,1156.0 L363.3,1159.3 L364.3,1162.5 L365.3,1165.5 L366.3,1168.4 L367.3,1171.1 L368.3,1173.7 L369.3,1176.2 L370.3,1178.6 L371.3,1180.8 L372.3,1182.9 L373.3,1184.8 L374.3,1186.7 L375.3,1188.4 L376.3,1190.0 L377.3,1191.5 L378.3,1192.9 L379.3,1194.3 L380.3,1195.5 L381.3,1196.6 L382.3,1197.7 L383.3,1198.6 L384.3,1199.5 L385.3,1200.4 L386.3,1201.1 L387.3,1201.8 L388.3,1202.4 L389.3,1203.0 L390.3,1203.5 L391.3,1204.0 L392.3,1204.4 L393.3,1204.8 L394.3,1205.2 L395.3,1205.5 L396.3,1205.8 L397.3,1206.0 L398.3,1206.2 L399.3,1206.4 L400.3,1206.6 L401.3,1206.8 L402.3,1206.9 L403.3,1207.0 L404.3,1207.1 L405.3,1207.2 L406.3,1207.2 L407.3,1207.3 L408.3,1207.3 L409.3,1207.4 L410.3,1207.4 L411.3,1207.4 L412.3,1207.4 L413.3,1207.4 L414.3,1207.4 L415.3,1207.4" fill="none" stroke="#7cb832" stroke-width="6.2" stroke-linejoin="round" stroke-linecap="butt"/>
<path d="M91.3,1225.7 L92.3,1225.6 L93.3,1225.6 L94.3,1225.5 L95.3,1225.4 L96.3,1225.4 L97.3,1225.3 L98.3,1225.3 L99.3,1225.2 L100.3,1225.2 L101.3,1225.1 L102.3,1225.1 L103.3,1225.0 L104.3,1224.9 L105.3,1224.9 L106.3,1224.8 L107.3,1224.8 L108.3,1224.7 L109.3,1224.7 L110.3,1224.6 L111.3,1224.6 L112.3,1224.5 L113.3,1224.4 L114.3,1224.4 L115.3,1224.3 L116.3,1224.3 L117.3,1224.2 L118.3,1224.2 L119.3,1224.1 L120.3,1224.1 L121.3,1224.0 L122.3,1223.9 L123.3,1223.9 L124.3,1223.8 L125.3,1223.8 L126.3,1223.7 L127.3,1223.7 L128.3,1223.6 L129.3,1223.6 L130.3,1223.5 L131.3,1223.4 L132.3,1223.4 L133.3,1223.3 L134.3,1223.3 L135.3,1223.2 L136.3,1223.2 L137.3,1223.1 L138.3,1223.1 L139.3,1223.0 L140.3,1222.9 L141.3,1222.9 L142.3,1222.8 L143.3,1222.8 L144.3,1222.7 L145.3,1222.7 L146.3,1222.6 L147.3,1222.6 L148.3,1222.5 L149.3,1222.4 L150.3,1222.4 L151.3,1222.3 L152.3,1222.3 L153.3,1222.2 L154.3,1222.2 L155.3,1222.1 L156.3,1222.1 L157.3,1222.0 L158.3,1221.9 L159.3,1221.9 L160.3,1221.8 L161.3,1221.8 L162.3,1221.7 L163.3,1221.7 L164.3,1221.6 L165.3,1221.6 L166.3,1221.5 L167.3,1221.4 L168.3,1221.4 L169.3,1221.3 L170.3,1221.3 L171.3,1221.2 L172.3,1221.2 L173.3,1221.1 L174.3,1221.1 L175.3,1221.0 L176.3,1220.9 L177.3,1220.9 L178.3,1220.8 L179.3,1220.8 L180.3,1220.7 L181.3,1220.7 L182.3,1220.6 L183.3,1220.6 L184.3,1220.5 L185.3,1220.4 L186.3,1220.4 L187.3,1220.3 L188.3,1220.3 L189.3,1220.2 L190.3,1220.2 L191.3,1220.1 L192.3,1220.1 L193.3,1220.0 L194.3,1219.9 L195.3,1219.9 L196.3,1219.8 L197.3,1219.8 L198.3,1219.7 L199.3,1219.7 L200.3,1219.6 L201.3,1219.6 L202.3,1219.5 L203.3,1219.4 L204.3,1219.4 L205.3,1219.3 L206.3,1219.3 L207.3,1219.2 L208.3,1219.2 L209.3,1219.1 L210.3,1219.1 L211.3,1219.0 L212.3,1218.9 L213.3,1218.9 L214.3,1218.8 L215.3,1218.8 L216.3,1218.7 L217.3,1218.7 L218.3,1218.6 L219.3,1218.6 L220.3,1218.5 L221.3,1218.4 L222.3,1218.4 L223.3,1218.3 L224.3,1218.3 L225.3,1218.2 L226.3,1218.2 L227.3,1218.1 L228.3,1218.1 L229.3,1218.0 L230.3,1217.9 L231.3,1217.9 L232.3,1217.8 L233.3,1217.8 L234.3,1217.7 L235.3,1217.7 L236.3,1217.6 L237.3,1217.6 L238.3,1217.5 L239.3,1217.4 L240.3,1217.4 L241.3,1217.3 L242.3,1217.3 L243.3,1217.2 L244.3,1217.2 L245.3,1217.1 L246.3,1217.1 L247.3,1217.0 L248.3,1216.9 L249.3,1216.9 L250.3,1216.8 L251.3,1216.8 L252.3,1216.7 L253.3,1216.7 L254.3,1216.6 L255.3,1216.6 L256.3,1216.5 L257.3,1216.4 L258.3,1216.4 L259.3,1216.3 L260.3,1216.3 L261.3,1216.2 L262.3,1216.2 L263.3,1216.1 L264.3,1216.1 L265.3,1216.0 L266.3,1215.9 L267.3,1215.9 L268.3,1215.8 L269.3,1215.8 L270.3,1215.7 L271.3,1215.7 L272.3,1215.6 L273.3,1215.6 L274.3,1215.5 L275.3,1215.4 L276.3,1215.4 L277.3,1215.3 L278.3,1215.3 L279.3,1215.2 L280.3,1215.2 L281.3,1215.1 L282.3,1215.1 L283.3,1215.0 L284.3,1214.9 L285.3,1214.9 L286.3,1214.8 L287.3,1214.8 L288.3,1214.7 L289.3,1214.7 L290.3,1214.6 L291.3,1214.6 L292.3,1214.5 L293.3,1214.4 L294.3,1214.4 L295.3,1214.3 L296.3,1214.3 L297.3,1214.2 L298.3,1214.2 L299.3,1214.1 L300.3,1214.1 L301.3,1214.0 L302.3,1213.9 L303.3,1213.9 L304.3,1213.8 L305.3,1213.8 L306.3,1213.7 L307.3,1213.7 L308.3,1213.6 L309.3,1213.6 L310.3,1213.5 L311.3,1213.4 L312.3,1213.4 L313.3,1213.3 L314.3,1213.3 L315.3,1213.2 L316.3,1213.2 L317.3,1213.1 L318.3,1213.1 L319.3,1213.0 L320.3,1212.9 L321.3,1212.9 L322.3,1212.8 L323.3,1212.8 L324.3,1212.7 L325.3,1212.7 L326.3,1212.6 L327.3,1212.6 L328.3,1212.5 L329.3,1212.4 L330.3,1212.4 L331.3,1212.3 L332.3,1212.3 L333.3,1212.2 L334.3,1212.2 L335.3,1212.1 L336.3,1212.1 L337.3,1212.0 L338.3,1211.9 L339.3,1211.9 L340.3,1211.8 L341.3,1211.8 L342.3,1211.7 L343.3,1211.7 L344.3,1211.6 L345.3,1211.5 L346.3,1211.5 L347.3,1211.4 L348.3,1211.4 L349.3,1211.3 L350.3,1211.3 L351.3,1211.2 L352.3,1211.2 L353.3,1211.1 L354.3,1211.0 L355.3,1211.0 L356.3,1210.9 L357.3,1210.9 L358.3,1210.8 L359.3,1210.8 L360.3,1210.7 L361.3,1210.7 L362.3,1210.6 L363.3,1210.5 L364.3,1210.5 L365.3,1210.4 L366.3,1210.4 L367.3,1210.3 L368.3,1210.3 L369.3,1210.2 L370.3,1210.2 L371.3,1210.1 L372.3,1210.0 L373.3,1210.0 L374.3,1209.9 L375.3,1209.9 L376.3,1209.8 L377.3,1209.8 L378.3,1209.7 L379.3,1209.7 L380.3,1209.6 L381.3,1209.5 L382.3,1209.5 L383.3,1209.4 L384.3,1209.4 L385.3,1209.3 L386.3,1209.3 L387.3,1209.2 L388.3,1209.2 L389.3,1209.1 L390.3,1209.0 L391.3,1209.0 L392.3,1208.9 L393.3,1208.9 L394.3,1208.8 L395.3,1208.8 L396.3,1208.7 L397.3,1208.7 L398.3,1208.6 L399.3,1208.5 L400.3,1208.5 L401.3,1208.4 L402.3,1208.4 L403.3,1208.3 L404.3,1208.3 L405.3,1208.2 L406.3,1208.2 L407.3,1208.1 L408.3,1208.0 L409.3,1208.0 L410.3,1207.9 L411.3,1207.9 L412.3,1207.8 L413.3,1207.8 L414.3,1207.7 L415.3,1207.7 L416.3,1207.6 L417.3,1207.5 L418.3,1207.5 L419.3,1207.4 L420.3,1207.4 L421.3,1207.3 L422.3,1207.3 L423.3,1207.2 L424.3,1207.2 L425.3,1207.1 L426.3,1207.0 L427.3,1207.0 L428.3,1206.9 L429.3,1206.9 L430.3,1206.8 L431.3,1206.8 L432.3,1206.7 L433.3,1206.7 L434.3,1206.6 L435.3,1206.5 L436.3,1206.5 L437.3,1206.4 L438.3,1206.4 L439.3,1206.3 L440.3,1206.3 L441.3,1206.2 L442.3,1206.2 L443.3,1206.1 L444.3,1206.0 L445.3,1206.0 L446.3,1205.9 L447.3,1205.9 L448.3,1205.8 L449.3,1205.8 L450.3,1205.7 L451.3,1205.7 L452.3,1205.6 L453.3,1205.5 L454.3,1205.5 L455.3,1205.4 L456.3,1205.4 L457.3,1205.3 L458.3,1205.3 L459.3,1205.2 L460.3,1205.2 L461.3,1205.1 L462.3,1205.0 L463.3,1205.0 L464.3,1204.9 L465.3,1204.9 L466.3,1204.8 L467.3,1204.8 L468.3,1204.7 L469.3,1204.7 L470.3,1204.6 L471.3,1204.5 L472.3,1204.5 L473.3,1204.4 L474.3,1204.4 L475.3,1204.3 L476.3,1204.3 L477.3,1204.2 L478.3,1204.2 L479.3,1204.1 L480.3,1204.0 L481.3,1204.0 L482.3,1203.9 L483.3,1203.9 L484.3,1203.8 L485.3,1203.8 L486.3,1203.7 L487.3,1203.7 L488.3,1203.6 L489.3,1203.5 L490.3,1203.5 L491.3,1203.4 L492.3,1203.4 L493.3,1203.3 L494.3,1203.3 L495.3,1203.2 L496.3,1203.2 L497.3,1203.1 L498.3,1203.0 L499.3,1203.0 L500.3,1202.9 L501.3,1202.9 L502.3,1202.8 L503.3,1202.8 L504.3,1202.7 L505.3,1202.7 L506.3,1202.6 L507.3,1202.5 L508.3,1202.5 L509.3,1202.4 L510.3,1202.4 L511.3,1202.3 L512.3,1202.3 L513.3,1202.2 L514.3,1202.2 L515.3,1202.1 L516.3,1202.0 L517.3,1202.0 L518.3,1201.9 L519.3,1201.9 L520.3,1201.8 L521.3,1201.8 L522.3,1201.7 L523.3,1201.7 L524.3,1201.6 L525.3,1201.5 L526.3,1201.5 L527.3,1201.4 L528.3,1201.4 L529.3,1201.3 L530.3,1201.3 L531.3,1201.2 L532.3,1201.2 L533.3,1201.1 L534.3,1201.0 L535.3,1201.0 L536.3,1200.9 L537.3,1200.9 L538.3,1200.8 L539.3,1200.8 L540.3,1200.7 L541.3,1200.7 L542.3,1200.6 L543.3,1200.5 L544.3,1200.5 L545.3,1200.4 L546.3,1200.4 L547.3,1200.3 L548.3,1200.3 L549.3,1200.2 L550.3,1200.2 L551.3,1200.1 L552.3,1200.0 L553.3,1200.0 L554.3,1199.9 L555.3,1199.9 L556.3,1199.8 L557.3,1199.8 L558.3,1199.7 L559.3,1199.7 L560.3,1199.6 L561.3,1199.5 L562.3,1199.5 L563.3,1199.4 L564.3,1199.4 L565.3,1199.3 L566.3,1199.3 L567.3,1199.2 L568.3,1199.2 L569.3,1199.1 L570.3,1199.0 L571.3,1199.0 L572.3,1198.9 L573.3,1198.9 L574.3,1198.8 L575.3,1198.8 L576.3,1198.7 L577.3,1198.7 L578.3,1198.6 L579.3,1198.5 L580.3,1198.5 L581.3,1198.4 L582.3,1198.4 L583.3,1198.3 L584.3,1198.3 L585.3,1198.2 L586.3,1198.2 L587.3,1198.1 L588.3,1198.0 L589.3,1198.0 L590.3,1197.9 L591.3,1197.9 L592.3,1197.8 L593.3,1197.8 L594.3,1197.7 L595.3,1197.6 L596.3,1197.6 L597.3,1197.5 L598.3,1197.5 L599.3,1197.4 L600.3,1197.4 L601.3,1197.3 L602.3,1197.3 L603.3,1197.2 L604.3,1197.1 L605.3,1197.1 L606.3,1197.0 L607.3,1197.0 L608.3,1196.9 L609.3,1196.9 L610.3,1196.8 L611.3,1196.8 L612.3,1196.7 L613.3,1196.6 L614.3,1196.6 L615.3,1196.5 L616.3,1196.5 L617.3,1196.4 L618.3,1196.4 L619.3,1196.3 L620.3,1196.3 L621.3,1196.2 L622.3,1196.1 L623.3,1196.1 L624.3,1196.0 L625.3,1196.0 L626.3,1195.9 L627.3,1195.9 L628.3,1195.8 L629.3,1195.8 L630.3,1195.7 L631.3,1195.6 L632.3,1195.6 L633.3,1195.5 L634.3,1195.5 L635.3,1195.4 L636.3,1195.4 L637.3,1195.3 L638.3,1195.3 L639.3,1195.2 L640.3,1195.1 L641.3,1195.1 L642.3,1195.0 L643.3,1195.0 L644.3,1194.9 L645.3,1194.9 L646.3,1194.8 L647.3,1194.8 L648.3,1194.7 L649.3,1194.6 L650.3,1194.6 L651.3,1194.5 L652.3,1194.5 L653.3,1194.4 L654.3,1194.4 L655.3,1194.3 L656.3,1194.3 L657.3,1194.2 L658.3,1194.1 L659.3,1194.1 L660.3,1194.0 L661.3,1194.0 L662.3,1193.9 L663.3,1193.9 L664.3,1193.8 L665.3,1193.8 L666.3,1193.7 L667.3,1193.6 L668.3,1193.6 L669.3,1193.5 L670.3,1193.5 L671.3,1193.4 L672.3,1193.4 L673.3,1193.3 L674.3,1193.3 L675.3,1193.2 L676.3,1193.1 L677.3,1193.1 L678.3,1193.0 L679.3,1193.0 L680.3,1192.9 L681.3,1192.9 L682.3,1192.8 L683.3,1192.8 L684.3,1192.7 L685.3,1192.6 L686.3,1192.6 L687.3,1192.5 L688.3,1192.5 L689.3,1192.4 L690.3,1192.4 L691.3,1192.3 L692.3,1192.3 L693.3,1192.2 L694.3,1192.1 L695.3,1192.1 L696.3,1192.0 L697.3,1192.0 L698.3,1191.9 L699.3,1191.9 L700.3,1191.8 L701.3,1191.8 L702.3,1191.7 L703.3,1191.6 L704.3,1191.6 L705.3,1191.5 L706.3,1191.5 L707.3,1191.4 L708.3,1191.4 L709.3,1191.3 L710.3,1191.3 L711.3,1191.2 L712.3,1191.1 L713.3,1191.1 L714.3,1191.0 L715.3,1191.0 L716.3,1190.9 L717.3,1190.9 L718.3,1190.8 L719.3,1190.8 L720.3,1190.7 L721.3,1190.6 L722.3,1190.6 L723.3,1190.5 L724.3,1190.5 L725.3,1190.4 L726.3,1190.4 L727.3,1190.3 L728.3,1190.3 L729.3,1190.2 L730.3,1190.1 L731.3,1190.1 L732.3,1190.0 L733.3,1190.0 L734.3,1189.9 L735.3,1189.9 L736.3,1189.8 L737.3,1189.8 L738.3,1189.7 L739.3,1189.6 L740.3,1189.6 L741.3,1189.5" fill="none" stroke="#000" stroke-width="5.5" stroke-linejoin="round" stroke-linecap="round"/>
<path d="M196.3,1219.5 L197.3,1219.5 L198.3,1219.4 L199.3,1219.4 L200.3,1219.3 L201.3,1219.2 L202.3,1219.2 L203.3,1219.1 L204.3,1219.1 L205.3,1219.0 L206.3,1218.9 L207.3,1218.9 L208.3,1218.8 L209.3,1218.7 L210.3,1218.7 L211.3,1218.6 L212.3,1218.5 L213.3,1218.5 L214.3,1218.4 L215.3,1218.3 L216.3,1218.2 L217.3,1218.1 L218.3,1218.0 L219.3,1218.0 L220.3,1217.9 L221.3,1217.7 L222.3,1217.6 L223.3,1217.5 L224.3,1217.4 L225.3,1217.2 L226.3,1217.1 L227.3,1216.9 L228.3,1216.8 L229.3,1216.6 L230.3,1216.4 L231.3,1216.2 L232.3,1215.9 L233.3,1215.7 L234.3,1215.4 L235.3,1215.1 L236.3,1214.7 L237.3,1214.4 L238.3,1213.9 L239.3,1213.5 L240.3,1213.0 L241.3,1212.5 L242.3,1211.9 L243.3,1211.3 L244.3,1210.6 L245.3,1209.9 L246.3,1209.1 L247.3,1208.3 L248.3,1207.3 L249.3,1206.3 L250.3,1205.2 L251.3,1204.1 L252.3,1202.8 L253.3,1201.4 L254.3,1200.0 L255.3,1198.4 L256.3,1196.8 L257.3,1195.0 L258.3,1193.1 L259.3,1191.0 L260.3,1188.9 L261.3,1186.6 L262.3,1184.1 L263.3,1181.6 L264.3,1178.8 L265.3,1176.0 L266.3,1172.9 L267.3,1169.8 L268.3,1166.4 L269.3,1162.9 L270.3,1159.3 L271.3,1155.4 L272.3,1151.5 L273.3,1147.3 L274.3,1143.0 L275.3,1138.5 L276.3,1133.9 L277.3,1129.1 L278.3,1124.2 L279.3,1119.1 L280.3,1113.9 L281.3,1108.6 L282.3,1103.1 L283.3,1097.5 L284.3,1091.8 L285.3,1085.9 L286.3,1080.0 L287.3,1074.0 L288.3,1067.9 L289.3,1061.7 L290.3,1055.4 L291.3,1049.1 L292.3,1042.8 L293.3,1036.4 L294.3,1030.0 L295.3,1023.6 L296.3,1017.2 L297.3,1010.8 L298.3,1004.4 L299.3,998.1 L300.3,991.8 L301.3,985.5 L302.3,979.3 L303.3,973.2 L304.3,967.2 L305.3,961.2 L306.3,955.3 L307.3,949.6 L308.3,944.0 L309.3,938.6 L310.3,933.6 L311.3,928.8 L312.3,924.3 L313.3,920.1 L314.3,916.2 L315.3,912.5 L316.3,909.1 L317.3,906.0 L318.3,903.0 L319.3,900.3 L320.3,897.9 L321.3,895.6 L322.3,893.5 L323.3,891.6 L324.3,889.8 L325.3,888.2 L326.3,886.7 L327.3,885.4 L328.3,884.2 L329.3,883.1 L330.3,882.1 L331.3,881.2 L332.3,880.4 L333.3,879.8 L334.3,879.2 L335.3,878.7 L336.3,878.3 L337.3,878.1 L338.3,877.9 L339.3,877.9 L340.3,878.0 L341.3,878.3 L342.3,878.7 L343.3,879.2 L344.3,880.0 L345.3,880.8 L346.3,881.9 L347.3,883.2 L348.3,884.6 L349.3,886.3 L350.3,888.2 L351.3,890.3 L352.3,892.7 L353.3,895.2 L354.3,898.0 L355.3,901.1 L356.3,904.3 L357.3,907.8 L358.3,911.6 L359.3,915.5 L360.3,919.7 L361.3,924.1 L362.3,928.7 L363.3,933.5 L364.3,938.5 L365.3,943.6 L366.3,949.0 L367.3,954.5 L368.3,960.1 L369.3,965.9 L370.3,971.7 L371.3,977.7 L372.3,983.8 L373.3,990.0 L374.3,996.2 L375.3,1002.4 L376.3,1008.7 L377.3,1015.0 L378.3,1021.3 L379.3,1027.6 L380.3,1033.9 L381.3,1040.1 L382.3,1046.3 L383.3,1052.4 L384.3,1058.5 L385.3,1064.5 L386.3,1070.4 L387.3,1076.1 L388.3,1081.8 L389.3,1087.4 L390.3,1092.8 L391.3,1098.1 L392.3,1103.2 L393.3,1108.3 L394.3,1113.1 L395.3,1117.8 L396.3,1122.4 L397.3,1126.8 L398.3,1131.0 L399.3,1135.1 L400.3,1139.0 L401.3,1142.8 L402.3,1146.4 L403.3,1149.8 L404.3,1153.1 L405.3,1156.2 L406.3,1159.2 L407.3,1162.0 L408.3,1164.7 L409.3,1167.2 L410.3,1169.5 L411.3,1171.7 L412.3,1173.8 L413.3,1175.7 L414.3,1177.5 L415.3,1179.2 L416.3,1180.7 L417.3,1182.2 L418.3,1183.5 L419.3,1184.6 L420.3,1185.7 L421.3,1186.6 L422.3,1187.5 L423.3,1188.2 L424.3,1188.8 L425.3,1189.4 L426.3,1189.8 L427.3,1190.1 L428.3,1190.4 L429.3,1190.5 L430.3,1190.6 L431.3,1190.5 L432.3,1190.4 L433.3,1190.2 L434.3,1189.9 L435.3,1189.5 L436.3,1189.1 L437.3,1188.5 L438.3,1187.8 L439.3,1187.1 L440.3,1186.3 L441.3,1185.4 L442.3,1184.4 L443.3,1183.3 L444.3,1182.1 L445.3,1180.8 L446.3,1179.4 L447.3,1177.9 L448.3,1176.4 L449.3,1174.7 L450.3,1172.9 L451.3,1171.0 L452.3,1169.0 L453.3,1166.9 L454.3,1164.7 L455.3,1162.4 L456.3,1160.0 L457.3,1157.4 L458.3,1154.7 L459.3,1152.0 L460.3,1149.0 L461.3,1146.0 L462.3,1142.8 L463.3,1139.5 L464.3,1136.1 L465.3,1132.6 L466.3,1128.9 L467.3,1125.1 L468.3,1121.2 L469.3,1117.1 L470.3,1112.9 L471.3,1108.6 L472.3,1104.1 L473.3,1099.6 L474.3,1094.9 L475.3,1090.1 L476.3,1085.1 L477.3,1080.1 L478.3,1074.9 L479.3,1069.7 L480.3,1064.3 L481.3,1058.9 L482.3,1053.3 L483.3,1047.7 L484.3,1041.9 L485.3,1036.1 L486.3,1030.3 L487.3,1024.3 L488.3,1018.4 L489.3,1012.4 L490.3,1006.3 L491.3,1000.2 L492.3,994.1 L493.3,988.0 L494.3,981.9 L495.3,975.8 L496.3,969.7 L497.3,963.7 L498.3,957.7 L499.3,951.8 L500.3,945.9 L501.3,940.1 L502.3,934.5 L503.3,928.9 L504.3,923.4 L505.3,918.0 L506.3,912.8 L507.3,907.8 L508.3,902.9 L509.3,898.2 L510.3,893.6 L511.3,889.3 L512.3,885.2 L513.3,881.2 L514.3,877.5 L515.3,874.1 L516.3,870.9 L517.3,867.9 L518.3,865.2 L519.3,862.8 L520.3,860.6 L521.3,858.8 L522.3,857.2 L523.3,855.9 L524.3,854.9 L525.3,854.2 L526.3,853.7 L527.3,853.6 L528.3,853.8 L529.3,854.3 L530.3,855.1 L531.3,856.1 L532.3,857.5 L533.3,859.1 L534.3,861.0 L535.3,863.2 L536.3,865.7 L537.3,868.4 L538.3,871.3 L539.3,874.5 L540.3,878.0 L541.3,881.7 L542.3,885.6 L543.3,889.7 L544.3,894.0 L545.3,898.4 L546.3,903.1 L547.3,907.9 L548.3,912.9 L549.3,918.1 L550.3,923.3 L551.3,928.7 L552.3,934.2 L553.3,939.8 L554.3,945.5 L555.3,951.2 L556.3,957.0 L557.3,962.9 L558.3,968.8 L559.3,974.7 L560.3,980.7 L561.3,986.7 L562.3,992.6 L563.3,998.6 L564.3,1004.5 L565.3,1010.4 L566.3,1016.3 L567.3,1022.1 L568.3,1027.9 L569.3,1033.6 L570.3,1039.3 L571.3,1044.8 L572.3,1050.3 L573.3,1055.7 L574.3,1061.0 L575.3,1066.2 L576.3,1071.3 L577.3,1076.3 L578.3,1081.2 L579.3,1086.0 L580.3,1090.7 L581.3,1095.2 L582.3,1099.6 L583.3,1103.9 L584.3,1108.1 L585.3,1112.1 L586.3,1116.0 L587.3,1119.8 L588.3,1123.5 L589.3,1127.0 L590.3,1130.4 L591.3,1133.7 L592.3,1136.9 L593.3,1140.0 L594.3,1142.9 L595.3,1145.7 L596.3,1148.4 L597.3,1150.9 L598.3,1153.4 L599.3,1155.8 L600.3,1158.0 L601.3,1160.1 L602.3,1162.2 L603.3,1164.1 L604.3,1165.9 L605.3,1167.7 L606.3,1169.3 L607.3,1170.8 L608.3,1172.3 L609.3,1173.6 L610.3,1174.9 L611.3,1176.0 L612.3,1177.1 L613.3,1178.0 L614.3,1178.9 L615.3,1179.6 L616.3,1180.3 L617.3,1180.9 L618.3,1181.4 L619.3,1181.9 L620.3,1182.3 L621.3,1182.6 L622.3,1182.9 L623.3,1183.2 L624.3,1183.4 L625.3,1183.6 L626.3,1183.7 L627.3,1183.9 L628.3,1184.0 L629.3,1184.1 L630.3,1184.2 L631.3,1184.3 L632.3,1184.3 L633.3,1184.4 L634.3,1184.4 L635.3,1184.5 L636.3,1184.5 L637.3,1184.6 L638.3,1184.6 L639.3,1184.6 L640.3,1184.7 L641.3,1184.7 L642.3,1184.7 L643.3,1184.7 L644.3,1184.7 L645.3,1184.8 L646.3,1184.8 L647.3,1184.8 L648.3,1184.8 L649.3,1184.8 L650.3,1184.8 L651.3,1184.8 L652.3,1184.8 L653.3,1184.8 L654.3,1184.8 L655.3,1184.8 L656.3,1184.8 L657.3,1184.8 L658.3,1184.9 L659.3,1184.9 L660.3,1184.9 L661.3,1184.9 L662.3,1184.9 L663.3,1184.9 L664.3,1184.9 L665.3,1184.9 L666.3,1184.9 L667.3,1184.9 L668.3,1184.9 L669.3,1184.9 L670.3,1184.9 L671.3,1184.9 L672.3,1184.9 L673.3,1184.9 L674.3,1184.9 L675.3,1184.9 L676.3,1184.9 L677.3,1184.9 L678.3,1184.8 L679.3,1184.8 L680.3,1184.8 L681.3,1184.8 L682.3,1184.8 L683.3,1184.8 L684.3,1184.8 L685.3,1184.8 L686.3,1184.8 L687.3,1184.8 L688.3,1184.8 L689.3,1184.8 L690.3,1184.8 L691.3,1184.8 L692.3,1184.8 L693.3,1184.8 L694.3,1184.8 L695.3,1184.8 L696.3,1184.8 L697.3,1184.8 L698.3,1184.8 L699.3,1184.8 L700.3,1184.8 L701.3,1184.7 L702.3,1184.7 L703.3,1184.7 L704.3,1184.7 L705.3,1184.7 L706.3,1184.7 L707.3,1184.7 L708.3,1184.7 L709.3,1184.7 L710.3,1184.7 L711.3,1184.7 L712.3,1184.7 L713.3,1184.7 L714.3,1184.7 L715.3,1184.7 L716.3,1184.6 L717.3,1184.6 L718.3,1184.6 L719.3,1184.6 L720.3,1184.6 L721.3,1184.6 L722.3,1184.6 L723.3,1184.6 L724.3,1184.6 L725.3,1184.6 L726.3,1184.6 L727.3,1184.5 L728.3,1184.5 L729.3,1184.5 L730.3,1184.5 L731.3,1184.5 L732.3,1184.5 L733.3,1184.5 L734.3,1184.5 L735.3,1184.5 L736.3,1184.4 L737.3,1184.4 L738.3,1184.4 L739.3,1184.4 L740.3,1184.4 L741.3,1184.4" fill="none" stroke="#000" stroke-width="6.5" stroke-linejoin="round" stroke-linecap="butt"/>
</g>
<path d="M89.25,702.90H743.95M89.25,1284.10H743.95" stroke="#000" stroke-width="4.5" fill="none"/>
<path d="M91.30,702.90V1284.10M741.90,702.90V1284.10" stroke="#000" stroke-width="4.1" fill="none"/>
<path d="M91.3,1284.1v11.3M184.2,1284.1v11.3M277.1,1284.1v11.3M370.0,1284.1v11.3M462.9,1284.1v11.3M555.8,1284.1v11.3M648.7,1284.1v11.3M741.6,1284.1v11.3" stroke="#000" stroke-width="4.0" fill="none"/>
<path d="M137.8,1284.1v5.2M230.7,1284.1v5.2M323.6,1284.1v5.2M416.5,1284.1v5.2M509.4,1284.1v5.2M602.2,1284.1v5.2M695.1,1284.1v5.2" stroke="#000" stroke-width="4.0" fill="none"/>
<text x="91.3" y="1330.8" font-size="35.5" fill="#000" stroke="#000" stroke-width="0.70" text-anchor="middle" >694</text>
<text x="184.2" y="1330.8" font-size="35.5" fill="#000" stroke="#000" stroke-width="0.70" text-anchor="middle" >692</text>
<text x="277.1" y="1330.8" font-size="35.5" fill="#000" stroke="#000" stroke-width="0.70" text-anchor="middle" >690</text>
<text x="370.0" y="1330.8" font-size="35.5" fill="#000" stroke="#000" stroke-width="0.70" text-anchor="middle" >688</text>
<text x="462.9" y="1330.8" font-size="35.5" fill="#000" stroke="#000" stroke-width="0.70" text-anchor="middle" >686</text>
<text x="555.8" y="1330.8" font-size="35.5" fill="#000" stroke="#000" stroke-width="0.70" text-anchor="middle" >684</text>
<text x="648.7" y="1330.8" font-size="35.5" fill="#000" stroke="#000" stroke-width="0.70" text-anchor="middle" >682</text>
<text x="741.6" y="1330.8" font-size="35.5" fill="#000" stroke="#000" stroke-width="0.70" text-anchor="middle" >680</text>
<text x="416.3" y="1379.8" font-size="35.5" fill="#000" stroke="#000" stroke-width="0.70" text-anchor="middle" >Binding Energy (eV)</text>
<text x="0.0" y="0.0" font-size="35.5" fill="#000" stroke="#000" stroke-width="0.70" text-anchor="middle" transform="translate(65.2,993) rotate(-90)">Intensity (a.u.)</text>
<text x="0.2" y="733.0" font-size="57.0" fill="#000" stroke="#000" stroke-width="0.70" text-anchor="start" >(c)</text>
<text x="102.0" y="746.3" font-size="35.0" fill="#000" stroke="#000" stroke-width="0.70" text-anchor="start" >F 1s</text>
<text x="229.0" y="1008.0" font-size="32.5" fill="#6aaa1e" stroke="#6aaa1e" stroke-width="0.50" text-anchor="start" >C-F</text>
<text x="388.5" y="975.0" font-size="32.5" fill="#f08030" stroke="#f08030" stroke-width="0.50" text-anchor="start" >S-F</text>
<text x="573.0" y="884.0" font-size="32.5" fill="#ee3a44" stroke="#ee3a44" stroke-width="0.50" text-anchor="start" >LiF</text>
<rect x="1001.5" y="704.1" width="163.1" height="580.9" fill="#ffeedd"/>
<clipPath id="cd"><rect x="850.6" y="704.1" width="681.0" height="580.9"/></clipPath>
<g clip-path="url(#cd)">
<path d="M850.6,905.0 L851.6,904.8 L852.6,904.6 L853.6,904.3 L854.6,904.0 L855.6,903.8 L856.6,903.5 L857.6,903.2 L858.6,903.0 L859.6,902.7 L860.6,902.5 L861.6,902.2 L862.6,902.0 L863.6,901.8 L864.6,901.6 L865.6,901.3 L866.6,901.1 L867.6,900.9 L868.6,900.7 L869.6,900.5 L870.6,900.3 L871.6,900.1 L872.6,899.9 L873.6,899.7 L874.6,899.5 L875.6,899.3 L876.6,899.1 L877.6,898.9 L878.6,898.8 L879.6,898.6 L880.6,898.4 L881.6,898.3 L882.6,898.2 L883.6,898.1 L884.6,898.0 L885.6,898.0 L886.6,897.9 L887.6,897.9 L888.6,897.9 L889.6,897.9 L890.6,897.9 L891.6,897.9 L892.6,897.9 L893.6,897.9 L894.6,897.9 L895.6,897.9 L896.6,897.9 L897.6,897.8 L898.6,897.6 L899.6,897.3 L900.6,896.9 L901.6,896.5 L902.6,896.1 L903.6,895.8 L904.6,895.6 L905.6,895.4 L906.6,895.4 L907.6,895.4 L908.6,895.5 L909.6,895.6 L910.6,895.8 L911.6,895.9 L912.6,895.9 L913.6,895.9 L914.6,895.9 L915.6,895.7 L916.6,895.6 L917.6,895.5 L918.6,895.4 L919.6,895.4 L920.6,895.6 L921.6,895.9 L922.6,896.3 L923.6,896.8 L924.6,897.3 L925.6,897.7 L926.6,898.1 L927.6,898.4 L928.6,898.6 L929.6,898.8 L930.6,899.0 L931.6,899.1 L932.6,899.3 L933.6,899.4 L934.6,899.6 L935.6,899.7 L936.6,900.0 L937.6,900.3 L938.6,900.7 L939.6,901.3 L940.6,902.1 L941.6,903.1 L942.6,904.1 L943.6,905.2 L944.6,906.2 L945.6,907.1 L946.6,908.0 L947.6,908.7 L948.6,909.4 L949.6,910.0 L950.6,910.6 L951.6,911.2 L952.6,911.8 L953.6,912.3 L954.6,912.9 L955.6,913.5 L956.6,914.0 L957.6,914.6 L958.6,915.2 L959.6,915.8 L960.6,916.4 L961.6,917.1 L962.6,917.7 L963.6,918.3 L964.6,918.9 L965.6,919.4 L966.6,919.9 L967.6,920.4 L968.6,920.8 L969.6,921.1 L970.6,921.4 L971.6,921.7 L972.6,922.0 L973.6,922.3 L974.6,922.7 L975.6,923.1 L976.6,923.6 L977.6,924.3 L978.6,925.2 L979.6,926.3 L980.6,927.6 L981.6,929.0 L982.6,930.6 L983.6,932.3 L984.6,934.1 L985.6,936.0 L986.6,937.9 L987.6,939.8 L988.6,941.7 L989.6,943.6 L990.6,945.4 L991.6,947.3 L992.6,949.1 L993.6,950.8 L994.6,952.3 L995.6,953.6 L996.6,954.7 L997.6,955.7 L998.6,956.7 L999.6,957.5 L1000.6,958.2 L1001.6,958.7 L1002.6,958.9 L1003.6,959.0 L1004.6,958.8 L1005.6,958.5 L1006.6,958.1 L1007.6,957.7 L1008.6,957.1 L1009.6,956.5 L1010.6,955.6 L1011.6,954.5 L1012.6,953.1 L1013.6,951.4 L1014.6,949.5 L1015.6,947.5 L1016.6,945.4 L1017.6,943.2 L1018.6,940.8 L1019.6,938.2 L1020.6,935.5 L1021.6,932.7 L1022.6,929.9 L1023.6,927.2 L1024.6,924.6 L1025.6,922.1 L1026.6,919.5 L1027.6,917.0 L1028.6,914.7 L1029.6,912.5 L1030.6,910.4 L1031.6,908.6 L1032.6,906.9 L1033.6,905.3 L1034.6,903.8 L1035.6,902.4 L1036.6,901.3 L1037.6,900.3 L1038.6,899.5 L1039.6,898.8 L1040.6,898.2 L1041.6,897.7 L1042.6,897.4 L1043.6,897.3 L1044.6,897.5 L1045.6,897.7 L1046.6,898.2 L1047.6,898.7 L1048.6,899.2 L1049.6,899.8 L1050.6,900.3 L1051.6,900.8 L1052.6,901.4 L1053.6,902.0 L1054.6,902.7 L1055.6,903.5 L1056.6,904.6 L1057.6,905.9 L1058.6,907.5 L1059.6,909.3 L1060.6,911.2 L1061.6,913.0 L1062.6,914.7 L1063.6,916.4 L1064.6,918.0 L1065.6,919.7 L1066.6,921.3 L1067.6,923.1 L1068.6,924.9 L1069.6,926.9 L1070.6,929.1 L1071.6,931.3 L1072.6,933.7 L1073.6,936.1 L1074.6,938.5 L1075.6,940.9 L1076.6,943.2 L1077.6,945.5 L1078.6,947.8 L1079.6,950.1 L1080.6,952.3 L1081.6,954.6 L1082.6,956.8 L1083.6,959.0 L1084.6,961.1 L1085.6,963.3 L1086.6,965.4 L1087.6,967.6 L1088.6,969.7 L1089.6,971.9 L1090.6,973.9 L1091.6,976.0 L1092.6,977.9 L1093.6,979.7 L1094.6,981.5 L1095.6,983.1 L1096.6,984.8 L1097.6,986.3 L1098.6,987.8 L1099.6,989.1 L1100.6,990.2 L1101.6,991.2 L1102.6,992.0 L1103.6,992.6 L1104.6,993.2 L1105.6,993.8 L1106.6,994.2 L1107.6,994.6 L1108.6,994.9 L1109.6,995.1 L1110.6,995.1 L1111.6,995.0 L1112.6,994.7 L1113.6,994.3 L1114.6,993.9 L1115.6,993.3 L1116.6,992.8 L1117.6,992.2 L1118.6,991.7 L1119.6,991.1 L1120.6,990.4 L1121.6,989.7 L1122.6,989.0 L1123.6,988.3 L1124.6,987.8 L1125.6,987.4 L1126.6,987.1 L1127.6,987.1 L1128.6,987.2 L1129.6,987.4 L1130.6,987.6 L1131.6,987.9 L1132.6,988.3 L1133.6,988.7 L1134.6,989.4 L1135.6,990.3 L1136.6,991.6 L1137.6,993.1 L1138.6,994.8 L1139.6,996.6 L1140.6,998.4 L1141.6,1000.1 L1142.6,1001.7 L1143.6,1003.3 L1144.6,1004.8 L1145.6,1006.4 L1146.6,1008.0 L1147.6,1009.6 L1148.6,1011.1 L1149.6,1012.5 L1150.6,1013.9 L1151.6,1015.1 L1152.6,1016.4 L1153.6,1017.5 L1154.6,1018.7 L1155.6,1019.7 L1156.6,1020.7 L1157.6,1021.5 L1158.6,1022.2 L1159.6,1022.8 L1160.6,1023.4 L1161.6,1023.8 L1162.6,1024.2 L1163.6,1024.5 L1164.6,1024.5 L1165.6,1024.4 L1166.6,1024.1 L1167.6,1023.5 L1168.6,1022.8 L1169.6,1022.0 L1170.6,1021.1 L1171.6,1019.9 L1172.6,1018.5 L1173.6,1016.7 L1174.6,1014.8 L1175.6,1012.7 L1176.6,1010.5 L1177.6,1008.1 L1178.6,1005.7 L1179.6,1003.1 L1180.6,1000.3 L1181.6,997.3 L1182.6,994.1 L1183.6,990.8 L1184.6,987.2 L1185.6,983.3 L1186.6,979.1 L1187.6,974.6 L1188.6,969.9 L1189.6,965.1 L1190.6,960.1 L1191.6,955.0 L1192.6,949.9 L1193.6,945.1 L1194.6,940.6 L1195.6,936.5 L1196.6,932.7 L1197.6,929.1 L1198.6,925.8 L1199.6,922.6 L1200.6,919.6 L1201.6,917.0 L1202.6,914.7 L1203.6,912.6 L1204.6,910.8 L1205.6,909.1 L1206.6,907.6 L1207.6,906.3 L1208.6,905.2 L1209.6,904.3 L1210.6,903.6 L1211.6,903.0 L1212.6,902.4 L1213.6,901.9 L1214.6,901.5 L1215.6,901.2 L1216.6,901.0 L1217.6,901.1 L1218.6,901.6 L1219.6,902.7 L1220.6,904.5 L1221.6,907.3 L1222.6,910.9 L1223.6,915.1 L1224.6,919.1 L1225.6,922.4 L1226.6,925.1 L1227.6,927.0 L1228.6,928.2 L1229.6,928.6 L1230.6,928.2 L1231.6,927.3 L1232.6,925.9 L1233.6,923.8 L1234.6,921.0 L1235.6,917.7 L1236.6,914.4 L1237.6,911.5 L1238.6,909.0 L1239.6,907.2 L1240.6,906.3 L1241.6,906.3 L1242.6,906.9 L1243.6,908.1 L1244.6,909.3 L1245.6,910.4 L1246.6,911.3 L1247.6,911.8 L1248.6,912.1 L1249.6,912.3 L1250.6,912.4 L1251.6,912.5 L1252.6,912.5 L1253.6,912.5 L1254.6,912.3 L1255.6,911.9 L1256.6,911.4 L1257.6,910.8 L1258.6,910.2 L1259.6,909.5 L1260.6,908.9 L1261.6,908.3 L1262.6,907.8 L1263.6,907.4 L1264.6,907.0 L1265.6,906.5 L1266.6,906.1 L1267.6,905.7 L1268.6,905.3 L1269.6,905.0 L1270.6,904.7 L1271.6,904.4 L1272.6,904.1 L1273.6,903.9 L1274.6,903.8 L1275.6,903.7 L1276.6,903.6 L1277.6,903.5 L1278.6,903.4 L1279.6,903.3 L1280.6,903.2 L1281.6,903.2 L1282.6,903.1 L1283.6,903.1 L1284.6,903.2 L1285.6,903.3 L1286.6,903.4 L1287.6,903.6 L1288.6,903.8 L1289.6,904.0 L1290.6,904.1 L1291.6,904.2 L1292.6,904.0 L1293.6,903.6 L1294.6,903.0 L1295.6,902.2 L1296.6,901.4 L1297.6,900.7 L1298.6,900.2 L1299.6,899.7 L1300.6,899.4 L1301.6,899.0 L1302.6,898.8 L1303.6,898.6 L1304.6,898.5 L1305.6,898.7 L1306.6,899.1 L1307.6,899.8 L1308.6,900.7 L1309.6,901.6 L1310.6,902.6 L1311.6,903.6 L1312.6,904.7 L1313.6,905.8 L1314.6,907.0 L1315.6,908.2 L1316.6,909.4 L1317.6,910.6 L1318.6,911.8 L1319.6,912.9 L1320.6,914.0 L1321.6,915.1 L1322.6,916.2 L1323.6,917.3 L1324.6,918.4 L1325.6,919.5 L1326.6,920.6 L1327.6,921.8 L1328.6,923.0 L1329.6,924.4 L1330.6,925.9 L1331.6,927.4 L1332.6,929.0 L1333.6,930.4 L1334.6,931.7 L1335.6,932.8 L1336.6,933.7 L1337.6,934.4 L1338.6,934.9 L1339.6,935.2 L1340.6,935.0 L1341.6,934.5 L1342.6,933.6 L1343.6,932.7 L1344.6,932.1 L1345.6,931.9 L1346.6,932.3 L1347.6,933.1 L1348.6,934.3 L1349.6,936.0 L1350.6,938.3 L1351.6,941.5 L1352.6,945.4 L1353.6,949.9 L1354.6,954.9 L1355.6,960.1 L1356.6,965.4 L1357.6,970.5 L1358.6,975.6 L1359.6,980.3 L1360.6,984.6 L1361.6,988.3 L1362.6,991.4 L1363.6,994.1 L1364.6,996.2 L1365.6,997.6 L1366.6,998.1 L1367.6,997.8 L1368.6,996.7 L1369.6,995.1 L1370.6,993.0 L1371.6,990.5 L1372.6,987.4 L1373.6,983.6 L1374.6,979.3 L1375.6,974.5 L1376.6,969.3 L1377.6,963.6 L1378.6,957.5 L1379.6,951.3 L1380.6,945.1 L1381.6,939.1 L1382.6,933.2 L1383.6,927.6 L1384.6,922.5 L1385.6,918.1 L1386.6,914.2 L1387.6,910.8 L1388.6,907.9 L1389.6,905.6 L1390.6,903.7 L1391.6,902.2 L1392.6,900.9 L1393.6,899.9 L1394.6,899.1 L1395.6,898.7 L1396.6,898.7 L1397.6,899.0 L1398.6,899.6 L1399.6,900.5 L1400.6,901.5 L1401.6,902.8 L1402.6,904.5 L1403.6,906.8 L1404.6,909.5 L1405.6,912.6 L1406.6,915.9 L1407.6,919.4 L1408.6,923.2 L1409.6,927.0 L1410.6,930.8 L1411.6,934.2 L1412.6,937.1 L1413.6,939.7 L1414.6,942.0 L1415.6,943.9 L1416.6,945.4 L1417.6,946.1 L1418.6,946.1 L1419.6,945.3 L1420.6,944.1 L1421.6,942.5 L1422.6,940.7 L1423.6,939.0 L1424.6,937.2 L1425.6,935.4 L1426.6,933.6 L1427.6,932.0 L1428.6,930.6 L1429.6,929.5 L1430.6,928.7 L1431.6,928.4 L1432.6,928.7 L1433.6,929.5 L1434.6,930.6 L1435.6,931.9 L1436.6,933.1 L1437.6,934.1 L1438.6,934.8 L1439.6,935.3 L1440.6,935.7 L1441.6,936.0 L1442.6,936.3 L1443.6,936.5 L1444.6,936.7 L1445.6,936.8 L1446.6,936.9 L1447.6,936.9 L1448.6,936.9 L1449.6,936.8 L1450.6,936.8 L1451.6,936.7 L1452.6,936.6 L1453.6,936.5 L1454.6,936.4 L1455.6,936.3 L1456.6,936.1 L1457.6,935.8 L1458.6,935.4 L1459.6,934.9 L1460.6,934.4 L1461.6,933.9 L1462.6,933.4 L1463.6,933.0 L1464.6,932.6 L1465.6,932.3 L1466.6,932.0 L1467.6,931.8 L1468.6,931.7 L1469.6,931.9 L1470.6,932.5 L1471.6,933.5 L1472.6,934.8 L1473.6,936.3 L1474.6,937.7 L1475.6,939.0 L1476.6,940.3 L1477.6,941.7 L1478.6,943.0 L1479.6,944.1 L1480.6,944.9 L1481.6,945.2 L1482.6,944.9 L1483.6,944.0 L1484.6,942.7 L1485.6,940.8 L1486.6,938.4 L1487.6,935.5 L1488.6,932.6 L1489.6,930.2 L1490.6,928.2 L1491.6,926.6 L1492.6,925.2 L1493.6,924.0 L1494.6,922.8 L1495.6,921.7 L1496.6,920.6 L1497.6,919.4 L1498.6,918.3 L1499.6,917.3 L1500.6,916.3 L1501.6,915.3 L1502.6,914.5 L1503.6,913.8 L1504.6,913.1 L1505.6,912.4 L1506.6,911.9 L1507.6,911.4 L1508.6,911.2 L1509.6,911.2 L1510.6,911.6 L1511.6,912.2 L1512.6,913.2 L1513.6,914.1 L1514.6,915.0 L1515.6,915.6 L1516.6,915.7 L1517.6,915.3 L1518.6,914.4 L1519.6,913.2 L1520.6,911.7 L1521.6,910.2 L1522.6,908.8 L1523.6,907.3 L1524.6,905.9 L1525.6,904.4 L1526.6,902.9 L1527.6,901.3 L1528.6,899.8 L1529.6,898.2 L1530.6,896.9 L1531.6,895.9" fill="none" stroke="#ff7f0e" stroke-width="7.5" stroke-linejoin="round" stroke-linecap="round"/>
</g>
<g fill="none" stroke="#111" stroke-width="2.5" stroke-linejoin="miter">
<path d="M1088,1067.9 L1160.2,1102.9 L1160.2,1173.8 L1088,1208.8 L1017.2,1173.8 L1017.2,1102.9 Z"/>
<path d="M1088,1077.5 L1150.2,1108 M1027.2,1108 L1027.2,1168.8 M1088,1199.1 L1150.2,1169.2"/>
</g>
<path d="M848.55,704.10H1533.65M848.55,1285.00H1533.65" stroke="#000" stroke-width="4.5" fill="none"/>
<path d="M850.60,704.10V1285.00M1531.60,704.10V1285.00" stroke="#000" stroke-width="4.1" fill="none"/>
<path d="M850.6,1285.0v11.5M1020.9,1285.0v11.5M1191.1,1285.0v11.5M1361.3,1285.0v11.5M1531.6,1285.0v11.5" stroke="#000" stroke-width="4.0" fill="none"/>
<path d="M935.7,1285.0v5.5M1106.0,1285.0v5.5M1276.2,1285.0v5.5M1446.5,1285.0v5.5" stroke="#000" stroke-width="4.0" fill="none"/>
<text x="850.6" y="1331.7" font-size="35.5" fill="#000" stroke="#000" stroke-width="0.70" text-anchor="middle" >1800</text>
<text x="1020.9" y="1331.7" font-size="35.5" fill="#000" stroke="#000" stroke-width="0.70" text-anchor="middle" >1600</text>
<text x="1191.1" y="1331.7" font-size="35.5" fill="#000" stroke="#000" stroke-width="0.70" text-anchor="middle" >1400</text>
<text x="1361.3" y="1331.7" font-size="35.5" fill="#000" stroke="#000" stroke-width="0.70" text-anchor="middle" >1200</text>
<text x="1531.6" y="1331.7" font-size="35.5" fill="#000" stroke="#000" stroke-width="0.70" text-anchor="middle" >1000</text>
<text x="1038.5" y="1388.8" font-size="35.5" fill="#000" stroke="#000" stroke-width="0.70" text-anchor="start" >Wavenumber(cm<tspan dy="-14" font-size="35.5">-1</tspan><tspan dy="14">)</tspan></text>
<text x="0.0" y="0.0" font-size="35.5" fill="#000" stroke="#000" stroke-width="0.70" text-anchor="middle" transform="translate(825,992) rotate(-90)">Absorbance(a.u.)</text>
<text x="761.0" y="752.5" font-size="57.0" fill="#000" stroke="#000" stroke-width="0.70" text-anchor="start" >(d)</text>
</svg>
</body></html>
